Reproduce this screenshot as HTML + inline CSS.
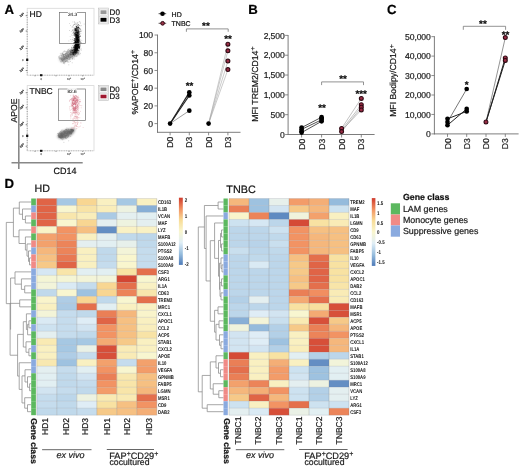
<!DOCTYPE html>
<html><head><meta charset="utf-8"><title>Figure</title>
<style>
html,body{margin:0;padding:0;background:#fff;}
body{width:520px;height:468px;overflow:hidden;}
svg{display:block;font-family:"Liberation Sans", Arial, sans-serif;text-rendering:geometricPrecision;}
</style></head>
<body>
<svg width="520" height="468" viewBox="0 0 520 468">
<defs><filter id="blur1" x="-50%" y="-50%" width="200%" height="200%"><feGaussianBlur stdDeviation="0.9"/></filter></defs>
<rect width="520" height="468" fill="#fff"/>
<text x="4.40" y="13.60" font-size="13.2" text-anchor="start" fill="#000" stroke="#000" stroke-width="0.2" font-weight="bold">A</text>
<text x="248.30" y="13.60" font-size="13.2" text-anchor="start" fill="#000" stroke="#000" stroke-width="0.2" font-weight="bold">B</text>
<text x="386.90" y="13.50" font-size="13.2" text-anchor="start" fill="#000" stroke="#000" stroke-width="0.2" font-weight="bold">C</text>
<text x="4.60" y="188.30" font-size="13.2" text-anchor="start" fill="#000" stroke="#000" stroke-width="0.2" font-weight="bold">D</text>
<rect x="27.2" y="8.3" width="66.8" height="66.9" fill="none" stroke="#d8d8d8" stroke-width="0.8"/>
<line x1="27.2" y1="12.3" x2="27.2" y2="75.2" stroke="#666" stroke-width="0.7" stroke-dasharray="0.8,1.6"/>
<line x1="30.2" y1="75.2" x2="93.0" y2="75.2" stroke="#888" stroke-width="0.6" stroke-dasharray="0.8,1.6"/>
<line x1="25.70" y1="15.66" x2="27.20" y2="15.66" stroke="#555" stroke-width="0.7"/>
<text transform="translate(22.60,15.96) rotate(-35)" x="0" y="0" font-size="3.2" text-anchor="middle" fill="#333" stroke="#333" stroke-width="0.2" font-weight="bold">10<tspan font-size="2.4" dy="-1">4</tspan></text>
<line x1="25.70" y1="31.05" x2="27.20" y2="31.05" stroke="#555" stroke-width="0.7"/>
<text transform="translate(22.60,31.35) rotate(-35)" x="0" y="0" font-size="3.2" text-anchor="middle" fill="#333" stroke="#333" stroke-width="0.2" font-weight="bold">10<tspan font-size="2.4" dy="-1">4</tspan></text>
<line x1="25.70" y1="48.44" x2="27.20" y2="48.44" stroke="#555" stroke-width="0.7"/>
<text transform="translate(22.60,48.74) rotate(-35)" x="0" y="0" font-size="3.2" text-anchor="middle" fill="#333" stroke="#333" stroke-width="0.2" font-weight="bold">10<tspan font-size="2.4" dy="-1">4</tspan></text>
<line x1="25.70" y1="70.52" x2="27.20" y2="70.52" stroke="#555" stroke-width="0.7"/>
<text transform="translate(22.60,70.82) rotate(-35)" x="0" y="0" font-size="3.2" text-anchor="middle" fill="#333" stroke="#333" stroke-width="0.2" font-weight="bold">10<tspan font-size="2.4" dy="-1">4</tspan></text>
<rect x="26.099999999999998" y="58.613" width="2.2" height="2.4" fill="#111"/>
<text x="22.00" y="60.81" font-size="2.6" text-anchor="start" fill="#777" stroke="#777" stroke-width="0.2">0</text>
<line x1="35.00" y1="75.20" x2="35.00" y2="76.40" stroke="#555" stroke-width="0.6"/>
<line x1="41.20" y1="75.20" x2="41.20" y2="76.40" stroke="#555" stroke-width="0.6"/>
<line x1="56.00" y1="75.20" x2="56.00" y2="76.40" stroke="#555" stroke-width="0.6"/>
<line x1="69.00" y1="75.20" x2="69.00" y2="76.40" stroke="#555" stroke-width="0.6"/>
<line x1="82.70" y1="75.20" x2="82.70" y2="76.40" stroke="#555" stroke-width="0.6"/>
<rect x="40" y="74.2" width="2.4" height="2.0" fill="#111"/>
<text x="41.30" y="79.50" font-size="2.6" text-anchor="middle" fill="#777" stroke="#777" stroke-width="0.2">0</text>
<text x="69.00" y="79.50" font-size="2.8" text-anchor="middle" fill="#777" stroke="#777" stroke-width="0.2">10<tspan font-size="2" dy="-1">4</tspan></text>
<text x="82.70" y="79.50" font-size="2.8" text-anchor="middle" fill="#777" stroke="#777" stroke-width="0.2">10<tspan font-size="2" dy="-1">4</tspan></text>
<text x="29.60" y="16.70" font-size="8.5" text-anchor="start" fill="#111" stroke="#111" stroke-width="0.2">HD</text>
<path d="M58.8,60.0 C59.5,55.5 65.5,52.5 71.5,50.0 L78,47.5 L79,53 C75.5,57 68.5,61 62,62.8 Z" fill="#a0a0a0" opacity="0.5" filter="url(#blur1)"/>
<g fill="#787878" fill-opacity="0.36"><circle cx="68.8" cy="57.7" r="0.5"/><circle cx="61.0" cy="57.1" r="0.5"/><circle cx="61.6" cy="58.7" r="0.5"/><circle cx="69.5" cy="55.6" r="0.5"/><circle cx="68.7" cy="55.4" r="0.5"/><circle cx="62.0" cy="53.7" r="0.5"/><circle cx="69.3" cy="48.9" r="0.5"/><circle cx="62.1" cy="60.4" r="0.5"/><circle cx="65.0" cy="59.4" r="0.5"/><circle cx="76.3" cy="52.1" r="0.5"/><circle cx="71.5" cy="50.9" r="0.5"/><circle cx="63.1" cy="60.4" r="0.5"/><circle cx="72.0" cy="50.7" r="0.5"/><circle cx="70.4" cy="51.6" r="0.5"/><circle cx="73.7" cy="50.7" r="0.5"/><circle cx="68.3" cy="49.3" r="0.5"/><circle cx="74.3" cy="50.5" r="0.5"/><circle cx="61.8" cy="55.5" r="0.5"/><circle cx="63.6" cy="57.4" r="0.5"/><circle cx="71.9" cy="52.6" r="0.5"/><circle cx="75.7" cy="49.2" r="0.5"/><circle cx="69.8" cy="51.2" r="0.5"/><circle cx="76.3" cy="52.9" r="0.5"/><circle cx="74.8" cy="55.3" r="0.5"/><circle cx="74.6" cy="56.3" r="0.5"/><circle cx="65.5" cy="54.2" r="0.5"/><circle cx="60.5" cy="58.6" r="0.5"/><circle cx="65.7" cy="61.6" r="0.5"/><circle cx="64.1" cy="58.3" r="0.5"/><circle cx="77.2" cy="52.3" r="0.5"/><circle cx="71.8" cy="56.4" r="0.5"/><circle cx="75.9" cy="50.1" r="0.5"/><circle cx="69.1" cy="59.4" r="0.5"/><circle cx="64.7" cy="58.7" r="0.5"/><circle cx="63.8" cy="54.3" r="0.5"/><circle cx="67.3" cy="58.8" r="0.5"/><circle cx="64.2" cy="50.9" r="0.5"/><circle cx="71.0" cy="49.4" r="0.5"/><circle cx="75.8" cy="56.4" r="0.5"/><circle cx="75.2" cy="53.8" r="0.5"/><circle cx="67.8" cy="54.5" r="0.5"/><circle cx="72.6" cy="53.4" r="0.5"/><circle cx="66.1" cy="58.3" r="0.5"/><circle cx="62.6" cy="60.5" r="0.5"/><circle cx="62.8" cy="58.3" r="0.5"/><circle cx="74.9" cy="49.5" r="0.5"/><circle cx="65.5" cy="55.7" r="0.5"/><circle cx="64.2" cy="62.1" r="0.5"/><circle cx="68.9" cy="53.6" r="0.5"/><circle cx="62.8" cy="57.7" r="0.5"/><circle cx="75.3" cy="51.1" r="0.5"/><circle cx="76.0" cy="48.5" r="0.5"/><circle cx="72.3" cy="56.1" r="0.5"/><circle cx="77.8" cy="51.4" r="0.5"/><circle cx="65.7" cy="55.9" r="0.5"/><circle cx="71.7" cy="47.9" r="0.5"/><circle cx="68.6" cy="56.5" r="0.5"/><circle cx="77.9" cy="51.5" r="0.5"/><circle cx="74.3" cy="50.8" r="0.5"/><circle cx="70.1" cy="53.6" r="0.5"/><circle cx="61.6" cy="59.4" r="0.5"/><circle cx="74.1" cy="54.3" r="0.5"/><circle cx="79.8" cy="54.8" r="0.5"/><circle cx="68.3" cy="55.8" r="0.5"/><circle cx="66.1" cy="58.2" r="0.5"/><circle cx="76.3" cy="51.4" r="0.5"/><circle cx="72.3" cy="52.8" r="0.5"/><circle cx="73.8" cy="55.4" r="0.5"/><circle cx="73.0" cy="50.3" r="0.5"/><circle cx="74.2" cy="49.4" r="0.5"/><circle cx="76.4" cy="47.8" r="0.5"/><circle cx="76.2" cy="49.5" r="0.5"/><circle cx="66.2" cy="60.8" r="0.5"/><circle cx="77.1" cy="53.3" r="0.5"/><circle cx="76.1" cy="48.4" r="0.5"/><circle cx="70.9" cy="53.8" r="0.5"/><circle cx="75.5" cy="48.0" r="0.5"/><circle cx="74.6" cy="46.1" r="0.5"/><circle cx="75.6" cy="51.2" r="0.5"/><circle cx="67.4" cy="56.5" r="0.5"/><circle cx="65.4" cy="55.8" r="0.5"/><circle cx="75.8" cy="48.7" r="0.5"/><circle cx="72.0" cy="55.0" r="0.5"/><circle cx="74.7" cy="47.5" r="0.5"/><circle cx="71.8" cy="56.0" r="0.5"/><circle cx="66.9" cy="61.2" r="0.5"/><circle cx="62.4" cy="54.5" r="0.5"/><circle cx="70.7" cy="52.4" r="0.5"/><circle cx="70.7" cy="53.7" r="0.5"/><circle cx="71.4" cy="53.5" r="0.5"/><circle cx="72.4" cy="48.8" r="0.5"/><circle cx="74.8" cy="53.3" r="0.5"/><circle cx="70.1" cy="50.5" r="0.5"/><circle cx="71.6" cy="49.8" r="0.5"/><circle cx="71.2" cy="57.2" r="0.5"/><circle cx="76.5" cy="51.8" r="0.5"/><circle cx="72.8" cy="57.1" r="0.5"/><circle cx="65.1" cy="59.7" r="0.5"/><circle cx="62.6" cy="59.1" r="0.5"/><circle cx="71.9" cy="53.3" r="0.5"/><circle cx="62.7" cy="57.3" r="0.5"/><circle cx="65.3" cy="62.0" r="0.5"/><circle cx="66.3" cy="59.1" r="0.5"/><circle cx="72.1" cy="58.0" r="0.5"/><circle cx="63.0" cy="55.7" r="0.5"/><circle cx="68.2" cy="56.4" r="0.5"/><circle cx="75.1" cy="54.4" r="0.5"/><circle cx="70.2" cy="56.5" r="0.5"/><circle cx="71.4" cy="52.1" r="0.5"/><circle cx="76.6" cy="50.6" r="0.5"/><circle cx="63.1" cy="58.5" r="0.5"/><circle cx="74.5" cy="51.2" r="0.5"/><circle cx="70.2" cy="58.1" r="0.5"/><circle cx="68.7" cy="59.4" r="0.5"/><circle cx="70.6" cy="53.1" r="0.5"/><circle cx="60.9" cy="58.4" r="0.5"/><circle cx="63.7" cy="61.7" r="0.5"/><circle cx="77.4" cy="54.5" r="0.5"/><circle cx="62.6" cy="60.5" r="0.5"/><circle cx="64.0" cy="51.5" r="0.5"/><circle cx="67.7" cy="58.3" r="0.5"/><circle cx="66.4" cy="57.9" r="0.5"/><circle cx="62.7" cy="59.9" r="0.5"/><circle cx="66.3" cy="56.3" r="0.5"/><circle cx="71.0" cy="54.9" r="0.5"/><circle cx="61.2" cy="59.8" r="0.5"/><circle cx="72.6" cy="50.5" r="0.5"/><circle cx="70.0" cy="55.2" r="0.5"/><circle cx="73.7" cy="48.8" r="0.5"/><circle cx="74.3" cy="48.9" r="0.5"/><circle cx="74.0" cy="54.0" r="0.5"/><circle cx="73.7" cy="50.0" r="0.5"/><circle cx="68.3" cy="54.7" r="0.5"/><circle cx="65.9" cy="61.3" r="0.5"/><circle cx="66.3" cy="57.2" r="0.5"/><circle cx="75.9" cy="52.8" r="0.5"/><circle cx="66.8" cy="56.5" r="0.5"/><circle cx="70.6" cy="55.7" r="0.5"/><circle cx="69.0" cy="61.9" r="0.5"/><circle cx="72.4" cy="53.8" r="0.5"/><circle cx="66.8" cy="56.1" r="0.5"/><circle cx="66.6" cy="53.0" r="0.5"/><circle cx="64.7" cy="57.2" r="0.5"/><circle cx="67.4" cy="58.4" r="0.5"/><circle cx="62.8" cy="61.2" r="0.5"/><circle cx="63.7" cy="54.9" r="0.5"/><circle cx="71.9" cy="49.8" r="0.5"/><circle cx="75.2" cy="49.0" r="0.5"/><circle cx="79.3" cy="51.3" r="0.5"/><circle cx="74.9" cy="56.3" r="0.5"/><circle cx="73.7" cy="47.9" r="0.5"/><circle cx="76.3" cy="52.6" r="0.5"/><circle cx="70.3" cy="55.9" r="0.5"/><circle cx="71.9" cy="47.2" r="0.5"/><circle cx="72.1" cy="51.7" r="0.5"/><circle cx="62.6" cy="60.9" r="0.5"/><circle cx="63.2" cy="59.9" r="0.5"/><circle cx="69.9" cy="50.7" r="0.5"/><circle cx="72.1" cy="57.8" r="0.5"/><circle cx="72.1" cy="49.1" r="0.5"/><circle cx="74.8" cy="55.5" r="0.5"/><circle cx="66.9" cy="58.2" r="0.5"/><circle cx="75.0" cy="52.7" r="0.5"/><circle cx="75.9" cy="47.4" r="0.5"/><circle cx="67.7" cy="52.9" r="0.5"/><circle cx="71.3" cy="52.4" r="0.5"/><circle cx="64.8" cy="58.0" r="0.5"/><circle cx="66.5" cy="55.9" r="0.5"/><circle cx="62.7" cy="58.8" r="0.5"/><circle cx="72.0" cy="51.4" r="0.5"/><circle cx="68.9" cy="51.7" r="0.5"/><circle cx="63.7" cy="59.5" r="0.5"/><circle cx="77.4" cy="49.8" r="0.5"/><circle cx="69.3" cy="56.8" r="0.5"/><circle cx="69.4" cy="54.5" r="0.5"/><circle cx="77.9" cy="50.4" r="0.5"/><circle cx="60.3" cy="53.2" r="0.5"/><circle cx="63.6" cy="59.3" r="0.5"/><circle cx="75.2" cy="49.8" r="0.5"/><circle cx="75.7" cy="49.7" r="0.5"/><circle cx="59.2" cy="57.9" r="0.5"/><circle cx="67.8" cy="57.4" r="0.5"/><circle cx="66.9" cy="56.1" r="0.5"/><circle cx="73.9" cy="52.1" r="0.5"/><circle cx="74.5" cy="48.9" r="0.5"/><circle cx="65.9" cy="55.0" r="0.5"/><circle cx="76.1" cy="47.6" r="0.5"/><circle cx="68.9" cy="54.8" r="0.5"/><circle cx="63.1" cy="59.5" r="0.5"/><circle cx="77.0" cy="49.8" r="0.5"/><circle cx="71.1" cy="54.7" r="0.5"/><circle cx="77.9" cy="52.4" r="0.5"/><circle cx="73.9" cy="56.9" r="0.5"/><circle cx="70.4" cy="53.5" r="0.5"/><circle cx="71.7" cy="48.5" r="0.5"/><circle cx="72.3" cy="52.5" r="0.5"/><circle cx="78.0" cy="51.5" r="0.5"/><circle cx="67.7" cy="54.8" r="0.5"/><circle cx="77.9" cy="49.2" r="0.5"/><circle cx="65.2" cy="54.3" r="0.5"/><circle cx="65.0" cy="58.5" r="0.5"/><circle cx="75.2" cy="48.7" r="0.5"/><circle cx="77.6" cy="52.3" r="0.5"/><circle cx="64.1" cy="58.4" r="0.5"/><circle cx="68.4" cy="57.0" r="0.5"/><circle cx="62.9" cy="52.9" r="0.5"/><circle cx="73.0" cy="49.8" r="0.5"/><circle cx="69.8" cy="52.5" r="0.5"/><circle cx="63.1" cy="58.3" r="0.5"/><circle cx="61.5" cy="55.5" r="0.5"/><circle cx="76.2" cy="50.8" r="0.5"/><circle cx="64.9" cy="55.1" r="0.5"/><circle cx="77.4" cy="52.0" r="0.5"/><circle cx="63.4" cy="62.9" r="0.5"/><circle cx="74.4" cy="47.5" r="0.5"/><circle cx="59.0" cy="56.6" r="0.5"/><circle cx="75.9" cy="54.2" r="0.5"/><circle cx="66.5" cy="57.7" r="0.5"/><circle cx="67.7" cy="51.9" r="0.5"/><circle cx="71.2" cy="49.8" r="0.5"/><circle cx="68.8" cy="54.0" r="0.5"/><circle cx="76.0" cy="51.8" r="0.5"/><circle cx="72.3" cy="52.3" r="0.5"/><circle cx="63.7" cy="54.7" r="0.5"/><circle cx="64.9" cy="60.7" r="0.5"/><circle cx="70.8" cy="52.2" r="0.5"/><circle cx="72.7" cy="54.8" r="0.5"/><circle cx="70.9" cy="57.3" r="0.5"/><circle cx="74.9" cy="48.8" r="0.5"/><circle cx="67.4" cy="59.9" r="0.5"/><circle cx="68.4" cy="58.5" r="0.5"/><circle cx="72.0" cy="51.0" r="0.5"/><circle cx="73.2" cy="53.7" r="0.5"/><circle cx="61.3" cy="58.5" r="0.5"/><circle cx="74.6" cy="53.4" r="0.5"/><circle cx="72.7" cy="50.3" r="0.5"/><circle cx="77.2" cy="48.1" r="0.5"/><circle cx="66.8" cy="57.6" r="0.5"/><circle cx="67.8" cy="58.6" r="0.5"/><circle cx="65.4" cy="57.9" r="0.5"/><circle cx="73.1" cy="53.5" r="0.5"/><circle cx="70.6" cy="56.5" r="0.5"/><circle cx="64.2" cy="58.8" r="0.5"/><circle cx="69.6" cy="58.6" r="0.5"/><circle cx="76.6" cy="56.4" r="0.5"/><circle cx="69.6" cy="57.8" r="0.5"/><circle cx="75.8" cy="54.5" r="0.5"/><circle cx="67.5" cy="54.1" r="0.5"/><circle cx="65.3" cy="59.4" r="0.5"/><circle cx="68.1" cy="56.7" r="0.5"/><circle cx="77.9" cy="50.0" r="0.5"/><circle cx="74.9" cy="51.8" r="0.5"/><circle cx="60.7" cy="57.4" r="0.5"/><circle cx="77.3" cy="50.6" r="0.5"/><circle cx="77.4" cy="52.2" r="0.5"/><circle cx="74.6" cy="51.0" r="0.5"/><circle cx="64.7" cy="63.8" r="0.5"/><circle cx="64.5" cy="56.7" r="0.5"/><circle cx="68.3" cy="55.1" r="0.5"/><circle cx="72.6" cy="52.7" r="0.5"/><circle cx="66.9" cy="56.0" r="0.5"/><circle cx="75.1" cy="54.0" r="0.5"/><circle cx="77.7" cy="51.2" r="0.5"/><circle cx="72.3" cy="59.2" r="0.5"/><circle cx="68.7" cy="55.3" r="0.5"/><circle cx="70.4" cy="55.3" r="0.5"/><circle cx="73.3" cy="50.8" r="0.5"/><circle cx="72.9" cy="50.0" r="0.5"/><circle cx="66.3" cy="53.8" r="0.5"/><circle cx="64.1" cy="60.0" r="0.5"/><circle cx="66.1" cy="57.3" r="0.5"/><circle cx="70.6" cy="51.0" r="0.5"/><circle cx="76.8" cy="51.9" r="0.5"/><circle cx="64.2" cy="60.8" r="0.5"/><circle cx="72.4" cy="50.6" r="0.5"/><circle cx="66.5" cy="52.8" r="0.5"/><circle cx="74.2" cy="53.3" r="0.5"/><circle cx="63.5" cy="59.3" r="0.5"/><circle cx="70.2" cy="51.1" r="0.5"/><circle cx="65.3" cy="57.4" r="0.5"/><circle cx="64.7" cy="59.9" r="0.5"/><circle cx="64.9" cy="50.9" r="0.5"/><circle cx="71.4" cy="54.4" r="0.5"/><circle cx="72.9" cy="53.5" r="0.5"/><circle cx="69.5" cy="56.0" r="0.5"/><circle cx="77.4" cy="51.6" r="0.5"/><circle cx="66.1" cy="60.4" r="0.5"/><circle cx="72.2" cy="55.0" r="0.5"/><circle cx="74.7" cy="49.0" r="0.5"/><circle cx="74.7" cy="52.2" r="0.5"/><circle cx="70.5" cy="52.1" r="0.5"/><circle cx="68.7" cy="56.3" r="0.5"/><circle cx="63.8" cy="54.4" r="0.5"/><circle cx="66.1" cy="59.1" r="0.5"/><circle cx="73.7" cy="53.0" r="0.5"/><circle cx="64.6" cy="58.1" r="0.5"/><circle cx="63.5" cy="60.8" r="0.5"/><circle cx="70.2" cy="53.0" r="0.5"/><circle cx="63.1" cy="57.1" r="0.5"/><circle cx="66.6" cy="54.7" r="0.5"/><circle cx="65.5" cy="54.4" r="0.5"/><circle cx="70.0" cy="59.4" r="0.5"/><circle cx="69.3" cy="56.6" r="0.5"/><circle cx="67.8" cy="61.7" r="0.5"/><circle cx="68.7" cy="55.8" r="0.5"/><circle cx="75.1" cy="49.1" r="0.5"/><circle cx="58.9" cy="57.2" r="0.5"/><circle cx="78.2" cy="52.4" r="0.5"/><circle cx="67.1" cy="54.3" r="0.5"/><circle cx="63.2" cy="51.9" r="0.5"/><circle cx="60.8" cy="54.9" r="0.5"/><circle cx="77.5" cy="49.9" r="0.5"/><circle cx="78.1" cy="52.0" r="0.5"/><circle cx="62.8" cy="61.1" r="0.5"/><circle cx="73.5" cy="47.4" r="0.5"/><circle cx="63.9" cy="58.2" r="0.5"/><circle cx="68.9" cy="57.3" r="0.5"/><circle cx="65.4" cy="58.0" r="0.5"/><circle cx="69.9" cy="53.1" r="0.5"/><circle cx="64.0" cy="56.2" r="0.5"/><circle cx="59.2" cy="56.3" r="0.5"/><circle cx="61.7" cy="60.0" r="0.5"/><circle cx="69.5" cy="50.4" r="0.5"/><circle cx="65.6" cy="53.8" r="0.5"/><circle cx="67.4" cy="53.7" r="0.5"/><circle cx="70.9" cy="57.5" r="0.5"/><circle cx="71.0" cy="54.5" r="0.5"/><circle cx="73.6" cy="50.1" r="0.5"/><circle cx="70.2" cy="55.2" r="0.5"/><circle cx="70.4" cy="56.7" r="0.5"/><circle cx="72.1" cy="56.8" r="0.5"/><circle cx="61.3" cy="58.5" r="0.5"/><circle cx="71.8" cy="56.2" r="0.5"/><circle cx="68.5" cy="56.4" r="0.5"/><circle cx="77.5" cy="53.8" r="0.5"/><circle cx="77.7" cy="52.9" r="0.5"/><circle cx="72.3" cy="58.5" r="0.5"/><circle cx="63.6" cy="58.9" r="0.5"/><circle cx="61.7" cy="57.1" r="0.5"/><circle cx="64.6" cy="59.2" r="0.5"/><circle cx="76.3" cy="52.4" r="0.5"/><circle cx="77.1" cy="50.4" r="0.5"/><circle cx="70.0" cy="53.8" r="0.5"/><circle cx="67.3" cy="60.1" r="0.5"/><circle cx="73.2" cy="53.2" r="0.5"/><circle cx="76.0" cy="53.1" r="0.5"/><circle cx="71.3" cy="50.1" r="0.5"/><circle cx="67.8" cy="49.9" r="0.5"/><circle cx="64.8" cy="61.4" r="0.5"/><circle cx="68.1" cy="55.7" r="0.5"/><circle cx="76.0" cy="47.6" r="0.5"/><circle cx="73.4" cy="50.3" r="0.5"/><circle cx="76.4" cy="55.2" r="0.5"/><circle cx="62.0" cy="53.1" r="0.5"/><circle cx="70.3" cy="52.3" r="0.5"/><circle cx="61.4" cy="61.3" r="0.5"/><circle cx="70.6" cy="50.7" r="0.5"/><circle cx="76.9" cy="51.2" r="0.5"/><circle cx="72.4" cy="52.7" r="0.5"/><circle cx="68.9" cy="57.1" r="0.5"/><circle cx="63.3" cy="54.8" r="0.5"/><circle cx="63.4" cy="55.7" r="0.5"/><circle cx="64.3" cy="59.6" r="0.5"/><circle cx="65.9" cy="60.4" r="0.5"/><circle cx="75.3" cy="50.8" r="0.5"/><circle cx="67.9" cy="59.5" r="0.5"/><circle cx="70.5" cy="51.7" r="0.5"/><circle cx="70.6" cy="57.7" r="0.5"/><circle cx="65.9" cy="57.3" r="0.5"/><circle cx="69.9" cy="52.5" r="0.5"/><circle cx="62.0" cy="59.3" r="0.5"/><circle cx="71.3" cy="54.6" r="0.5"/><circle cx="63.1" cy="55.5" r="0.5"/><circle cx="72.1" cy="53.1" r="0.5"/><circle cx="66.8" cy="55.9" r="0.5"/><circle cx="75.4" cy="50.9" r="0.5"/><circle cx="61.1" cy="61.9" r="0.5"/><circle cx="68.6" cy="54.3" r="0.5"/><circle cx="66.3" cy="58.2" r="0.5"/><circle cx="61.3" cy="57.8" r="0.5"/><circle cx="73.4" cy="53.9" r="0.5"/><circle cx="64.5" cy="54.6" r="0.5"/><circle cx="73.3" cy="49.6" r="0.5"/><circle cx="73.0" cy="54.0" r="0.5"/><circle cx="76.8" cy="51.9" r="0.5"/><circle cx="63.9" cy="56.8" r="0.5"/><circle cx="73.6" cy="49.7" r="0.5"/><circle cx="68.6" cy="56.2" r="0.5"/><circle cx="70.5" cy="51.7" r="0.5"/><circle cx="74.9" cy="45.6" r="0.5"/><circle cx="73.4" cy="53.5" r="0.5"/><circle cx="72.2" cy="50.3" r="0.5"/><circle cx="64.5" cy="56.7" r="0.5"/><circle cx="76.5" cy="50.3" r="0.5"/><circle cx="63.9" cy="60.2" r="0.5"/><circle cx="64.1" cy="58.7" r="0.5"/><circle cx="70.9" cy="50.1" r="0.5"/><circle cx="75.5" cy="54.2" r="0.5"/><circle cx="67.7" cy="57.1" r="0.5"/><circle cx="78.8" cy="53.9" r="0.5"/><circle cx="76.7" cy="50.9" r="0.5"/><circle cx="65.3" cy="57.7" r="0.5"/><circle cx="75.2" cy="51.7" r="0.5"/><circle cx="73.8" cy="49.7" r="0.5"/><circle cx="65.3" cy="61.4" r="0.5"/><circle cx="64.9" cy="56.4" r="0.5"/><circle cx="61.6" cy="59.7" r="0.5"/><circle cx="72.9" cy="50.7" r="0.5"/><circle cx="74.4" cy="45.6" r="0.5"/><circle cx="73.3" cy="54.9" r="0.5"/><circle cx="68.5" cy="55.0" r="0.5"/><circle cx="72.1" cy="50.7" r="0.5"/><circle cx="78.1" cy="53.6" r="0.5"/><circle cx="65.2" cy="59.1" r="0.5"/><circle cx="74.1" cy="51.7" r="0.5"/><circle cx="67.5" cy="50.6" r="0.5"/><circle cx="63.3" cy="55.7" r="0.5"/><circle cx="76.3" cy="50.5" r="0.5"/><circle cx="67.7" cy="57.1" r="0.5"/><circle cx="71.9" cy="56.3" r="0.5"/><circle cx="62.1" cy="59.6" r="0.5"/><circle cx="73.1" cy="49.9" r="0.5"/><circle cx="66.9" cy="51.8" r="0.5"/><circle cx="62.8" cy="59.2" r="0.5"/><circle cx="66.0" cy="57.0" r="0.5"/><circle cx="68.8" cy="51.0" r="0.5"/><circle cx="64.0" cy="54.6" r="0.5"/><circle cx="73.1" cy="51.6" r="0.5"/><circle cx="67.4" cy="55.2" r="0.5"/><circle cx="73.2" cy="48.9" r="0.5"/><circle cx="62.5" cy="54.5" r="0.5"/><circle cx="72.7" cy="54.9" r="0.5"/><circle cx="76.3" cy="50.4" r="0.5"/><circle cx="64.8" cy="55.1" r="0.5"/><circle cx="64.9" cy="58.8" r="0.5"/><circle cx="66.2" cy="54.8" r="0.5"/><circle cx="69.9" cy="58.0" r="0.5"/><circle cx="77.1" cy="55.9" r="0.5"/><circle cx="61.2" cy="54.3" r="0.5"/><circle cx="73.7" cy="50.9" r="0.5"/><circle cx="64.1" cy="56.8" r="0.5"/><circle cx="64.8" cy="56.9" r="0.5"/><circle cx="67.9" cy="56.0" r="0.5"/><circle cx="68.5" cy="52.6" r="0.5"/><circle cx="62.3" cy="56.5" r="0.5"/><circle cx="74.5" cy="53.5" r="0.5"/><circle cx="70.5" cy="53.3" r="0.5"/><circle cx="63.7" cy="56.3" r="0.5"/><circle cx="72.3" cy="50.1" r="0.5"/><circle cx="71.3" cy="50.9" r="0.5"/><circle cx="66.2" cy="55.5" r="0.5"/><circle cx="68.1" cy="55.6" r="0.5"/><circle cx="72.6" cy="52.8" r="0.5"/><circle cx="67.8" cy="53.1" r="0.5"/><circle cx="73.3" cy="53.5" r="0.5"/><circle cx="72.0" cy="52.9" r="0.5"/><circle cx="70.1" cy="54.8" r="0.5"/><circle cx="72.7" cy="55.5" r="0.5"/><circle cx="76.0" cy="48.8" r="0.5"/><circle cx="68.8" cy="50.2" r="0.5"/><circle cx="67.7" cy="51.5" r="0.5"/><circle cx="68.3" cy="49.7" r="0.5"/><circle cx="63.9" cy="56.5" r="0.5"/><circle cx="77.9" cy="55.6" r="0.5"/><circle cx="68.7" cy="57.1" r="0.5"/><circle cx="69.7" cy="57.2" r="0.5"/><circle cx="67.7" cy="54.3" r="0.5"/><circle cx="67.3" cy="57.2" r="0.5"/><circle cx="75.6" cy="48.4" r="0.5"/><circle cx="74.1" cy="50.0" r="0.5"/><circle cx="62.8" cy="58.9" r="0.5"/><circle cx="70.5" cy="50.2" r="0.5"/><circle cx="66.4" cy="58.9" r="0.5"/><circle cx="72.1" cy="54.2" r="0.5"/><circle cx="69.7" cy="53.7" r="0.5"/><circle cx="63.5" cy="59.3" r="0.5"/><circle cx="75.8" cy="50.4" r="0.5"/><circle cx="65.2" cy="55.6" r="0.5"/><circle cx="59.9" cy="59.8" r="0.5"/><circle cx="65.8" cy="56.1" r="0.5"/><circle cx="66.8" cy="52.9" r="0.5"/><circle cx="69.5" cy="59.1" r="0.5"/><circle cx="62.2" cy="61.3" r="0.5"/><circle cx="76.8" cy="53.7" r="0.5"/><circle cx="72.2" cy="53.0" r="0.5"/><circle cx="75.9" cy="48.8" r="0.5"/><circle cx="63.9" cy="59.5" r="0.5"/><circle cx="74.1" cy="50.7" r="0.5"/><circle cx="76.0" cy="50.4" r="0.5"/><circle cx="73.5" cy="47.5" r="0.5"/><circle cx="73.7" cy="55.2" r="0.5"/><circle cx="76.7" cy="51.7" r="0.5"/><circle cx="69.7" cy="53.7" r="0.5"/><circle cx="74.7" cy="48.8" r="0.5"/><circle cx="67.0" cy="58.5" r="0.5"/><circle cx="61.4" cy="58.1" r="0.5"/><circle cx="68.2" cy="51.7" r="0.5"/><circle cx="78.1" cy="54.4" r="0.5"/><circle cx="67.3" cy="51.7" r="0.5"/><circle cx="74.6" cy="49.2" r="0.5"/><circle cx="79.0" cy="52.1" r="0.5"/><circle cx="74.0" cy="55.4" r="0.5"/><circle cx="73.6" cy="53.9" r="0.5"/><circle cx="75.7" cy="47.1" r="0.5"/><circle cx="78.3" cy="53.3" r="0.5"/><circle cx="71.5" cy="50.7" r="0.5"/><circle cx="66.3" cy="53.1" r="0.5"/><circle cx="75.1" cy="51.9" r="0.5"/><circle cx="66.0" cy="51.4" r="0.5"/><circle cx="66.6" cy="57.3" r="0.5"/><circle cx="70.5" cy="53.7" r="0.5"/><circle cx="74.9" cy="47.4" r="0.5"/><circle cx="67.1" cy="55.2" r="0.5"/><circle cx="69.0" cy="50.9" r="0.5"/><circle cx="59.9" cy="58.8" r="0.5"/><circle cx="71.9" cy="55.3" r="0.5"/><circle cx="63.1" cy="61.7" r="0.5"/><circle cx="69.5" cy="51.0" r="0.5"/><circle cx="74.3" cy="47.9" r="0.5"/><circle cx="70.6" cy="51.9" r="0.5"/><circle cx="74.1" cy="53.0" r="0.5"/><circle cx="69.0" cy="54.6" r="0.5"/><circle cx="66.9" cy="61.0" r="0.5"/><circle cx="75.1" cy="48.9" r="0.5"/><circle cx="74.5" cy="51.5" r="0.5"/><circle cx="66.0" cy="56.0" r="0.5"/><circle cx="65.6" cy="53.4" r="0.5"/><circle cx="78.4" cy="52.3" r="0.5"/><circle cx="64.1" cy="62.2" r="0.5"/><circle cx="72.1" cy="55.2" r="0.5"/><circle cx="60.1" cy="57.9" r="0.5"/><circle cx="78.0" cy="52.1" r="0.5"/><circle cx="70.5" cy="57.3" r="0.5"/><circle cx="65.3" cy="57.5" r="0.5"/><circle cx="60.1" cy="59.7" r="0.5"/><circle cx="79.9" cy="53.0" r="0.5"/><circle cx="65.7" cy="61.5" r="0.5"/><circle cx="65.1" cy="56.8" r="0.5"/><circle cx="61.2" cy="59.8" r="0.5"/><circle cx="75.1" cy="50.5" r="0.5"/><circle cx="70.9" cy="52.2" r="0.5"/><circle cx="78.0" cy="49.7" r="0.5"/><circle cx="73.6" cy="52.3" r="0.5"/><circle cx="72.3" cy="52.9" r="0.5"/><circle cx="66.3" cy="56.0" r="0.5"/><circle cx="75.0" cy="49.8" r="0.5"/><circle cx="66.2" cy="53.6" r="0.5"/><circle cx="75.0" cy="54.5" r="0.5"/><circle cx="65.9" cy="53.8" r="0.5"/><circle cx="67.5" cy="52.3" r="0.5"/><circle cx="76.3" cy="50.3" r="0.5"/><circle cx="70.4" cy="61.4" r="0.5"/><circle cx="73.2" cy="52.9" r="0.5"/><circle cx="73.9" cy="56.8" r="0.5"/><circle cx="71.6" cy="52.3" r="0.5"/><circle cx="75.1" cy="48.1" r="0.5"/><circle cx="72.8" cy="56.0" r="0.5"/><circle cx="67.4" cy="58.0" r="0.5"/><circle cx="66.0" cy="51.7" r="0.5"/><circle cx="78.6" cy="53.9" r="0.5"/><circle cx="75.3" cy="52.8" r="0.5"/><circle cx="66.7" cy="58.7" r="0.5"/><circle cx="73.6" cy="53.8" r="0.5"/><circle cx="60.0" cy="55.4" r="0.5"/><circle cx="63.4" cy="57.4" r="0.5"/><circle cx="63.3" cy="54.6" r="0.5"/><circle cx="70.1" cy="54.9" r="0.5"/><circle cx="73.6" cy="52.2" r="0.5"/><circle cx="62.5" cy="60.0" r="0.5"/><circle cx="62.3" cy="53.2" r="0.5"/><circle cx="74.2" cy="48.0" r="0.5"/><circle cx="72.0" cy="53.7" r="0.5"/><circle cx="63.5" cy="57.1" r="0.5"/><circle cx="70.1" cy="51.4" r="0.5"/><circle cx="68.8" cy="64.7" r="0.5"/><circle cx="69.9" cy="57.7" r="0.5"/><circle cx="76.0" cy="52.7" r="0.5"/><circle cx="67.1" cy="55.3" r="0.5"/><circle cx="64.0" cy="63.6" r="0.5"/><circle cx="68.6" cy="52.8" r="0.5"/><circle cx="72.0" cy="46.9" r="0.5"/><circle cx="74.1" cy="53.6" r="0.5"/><circle cx="66.8" cy="58.1" r="0.5"/><circle cx="64.9" cy="58.2" r="0.5"/><circle cx="71.4" cy="55.0" r="0.5"/><circle cx="77.0" cy="50.3" r="0.5"/><circle cx="71.1" cy="52.3" r="0.5"/><circle cx="77.6" cy="49.5" r="0.5"/><circle cx="73.8" cy="55.6" r="0.5"/><circle cx="67.6" cy="54.1" r="0.5"/><circle cx="77.9" cy="50.9" r="0.5"/><circle cx="62.1" cy="59.4" r="0.5"/><circle cx="77.5" cy="53.3" r="0.5"/><circle cx="61.3" cy="60.1" r="0.5"/><circle cx="72.7" cy="53.3" r="0.5"/><circle cx="62.5" cy="58.2" r="0.5"/><circle cx="72.9" cy="51.5" r="0.5"/><circle cx="75.2" cy="52.9" r="0.5"/><circle cx="67.4" cy="58.4" r="0.5"/><circle cx="64.6" cy="57.9" r="0.5"/><circle cx="74.9" cy="55.5" r="0.5"/><circle cx="68.0" cy="62.0" r="0.5"/><circle cx="67.1" cy="60.9" r="0.5"/><circle cx="77.3" cy="51.7" r="0.5"/><circle cx="64.6" cy="62.2" r="0.5"/><circle cx="71.0" cy="51.0" r="0.5"/><circle cx="73.2" cy="48.1" r="0.5"/><circle cx="64.0" cy="58.2" r="0.5"/><circle cx="72.5" cy="50.9" r="0.5"/><circle cx="76.1" cy="50.2" r="0.5"/><circle cx="64.8" cy="57.4" r="0.5"/><circle cx="68.6" cy="57.0" r="0.5"/><circle cx="67.3" cy="56.9" r="0.5"/><circle cx="80.3" cy="53.4" r="0.5"/><circle cx="73.6" cy="52.9" r="0.5"/><circle cx="66.7" cy="56.3" r="0.5"/><circle cx="72.2" cy="62.7" r="0.5"/><circle cx="77.6" cy="51.3" r="0.5"/><circle cx="78.3" cy="53.2" r="0.5"/><circle cx="66.7" cy="56.7" r="0.5"/><circle cx="74.6" cy="50.4" r="0.5"/><circle cx="60.7" cy="61.4" r="0.5"/><circle cx="62.4" cy="53.5" r="0.5"/><circle cx="64.4" cy="56.2" r="0.5"/><circle cx="63.8" cy="58.0" r="0.5"/><circle cx="65.4" cy="58.2" r="0.5"/><circle cx="70.6" cy="51.4" r="0.5"/><circle cx="62.8" cy="54.9" r="0.5"/><circle cx="73.8" cy="49.8" r="0.5"/><circle cx="61.4" cy="58.9" r="0.5"/><circle cx="76.0" cy="55.3" r="0.5"/><circle cx="67.6" cy="58.1" r="0.5"/><circle cx="72.8" cy="58.6" r="0.5"/><circle cx="69.9" cy="55.4" r="0.5"/><circle cx="64.7" cy="58.5" r="0.5"/><circle cx="63.5" cy="56.0" r="0.5"/><circle cx="59.2" cy="57.9" r="0.5"/><circle cx="72.4" cy="56.3" r="0.5"/><circle cx="75.2" cy="52.1" r="0.5"/><circle cx="72.3" cy="49.5" r="0.5"/><circle cx="63.3" cy="62.7" r="0.5"/><circle cx="68.2" cy="51.7" r="0.5"/><circle cx="74.2" cy="58.9" r="0.5"/><circle cx="65.8" cy="57.5" r="0.5"/><circle cx="65.7" cy="57.0" r="0.5"/><circle cx="62.2" cy="58.3" r="0.5"/><circle cx="59.2" cy="57.7" r="0.5"/><circle cx="69.8" cy="53.6" r="0.5"/><circle cx="75.3" cy="50.3" r="0.5"/><circle cx="61.8" cy="56.0" r="0.5"/></g>
<g fill="#444" fill-opacity="0.45"><circle cx="77.9" cy="31.1" r="0.42"/><circle cx="77.8" cy="26.2" r="0.42"/><circle cx="76.9" cy="41.9" r="0.42"/><circle cx="74.9" cy="41.3" r="0.42"/><circle cx="78.5" cy="47.3" r="0.42"/><circle cx="76.6" cy="53.8" r="0.42"/><circle cx="71.6" cy="34.9" r="0.42"/><circle cx="78.4" cy="39.6" r="0.42"/><circle cx="80.2" cy="35.1" r="0.42"/><circle cx="74.4" cy="33.2" r="0.42"/><circle cx="74.6" cy="29.8" r="0.42"/><circle cx="73.6" cy="55.4" r="0.42"/><circle cx="79.4" cy="49.3" r="0.42"/><circle cx="72.1" cy="50.7" r="0.42"/><circle cx="69.5" cy="23.3" r="0.42"/><circle cx="71.8" cy="53.7" r="0.42"/><circle cx="72.8" cy="30.1" r="0.42"/><circle cx="77.7" cy="34.1" r="0.42"/><circle cx="78.5" cy="39.8" r="0.42"/><circle cx="77.2" cy="38.9" r="0.42"/><circle cx="80.4" cy="22.2" r="0.42"/><circle cx="81.0" cy="48.3" r="0.42"/><circle cx="69.3" cy="53.8" r="0.42"/><circle cx="70.2" cy="52.0" r="0.42"/><circle cx="77.4" cy="52.0" r="0.42"/><circle cx="76.8" cy="30.7" r="0.42"/><circle cx="75.5" cy="44.9" r="0.42"/><circle cx="76.0" cy="53.4" r="0.42"/><circle cx="76.0" cy="42.9" r="0.42"/><circle cx="79.2" cy="36.5" r="0.42"/><circle cx="71.5" cy="54.3" r="0.42"/><circle cx="78.2" cy="43.8" r="0.42"/><circle cx="70.6" cy="25.7" r="0.42"/><circle cx="72.4" cy="39.2" r="0.42"/><circle cx="72.9" cy="30.8" r="0.42"/><circle cx="76.7" cy="26.6" r="0.42"/><circle cx="77.5" cy="25.8" r="0.42"/><circle cx="77.6" cy="35.5" r="0.42"/><circle cx="76.0" cy="31.4" r="0.42"/><circle cx="77.1" cy="40.3" r="0.42"/><circle cx="72.1" cy="50.5" r="0.42"/><circle cx="73.8" cy="43.9" r="0.42"/><circle cx="75.3" cy="28.4" r="0.42"/><circle cx="73.2" cy="40.4" r="0.42"/><circle cx="73.8" cy="42.6" r="0.42"/><circle cx="76.4" cy="29.9" r="0.42"/><circle cx="73.5" cy="29.1" r="0.42"/><circle cx="75.8" cy="41.7" r="0.42"/><circle cx="72.9" cy="21.9" r="0.42"/><circle cx="80.1" cy="29.7" r="0.42"/><circle cx="73.9" cy="40.7" r="0.42"/><circle cx="71.1" cy="55.6" r="0.42"/><circle cx="76.2" cy="31.7" r="0.42"/><circle cx="74.5" cy="23.8" r="0.42"/><circle cx="73.2" cy="51.6" r="0.42"/><circle cx="76.3" cy="34.9" r="0.42"/><circle cx="75.9" cy="36.7" r="0.42"/><circle cx="74.8" cy="29.3" r="0.42"/><circle cx="71.7" cy="54.6" r="0.42"/><circle cx="74.5" cy="33.1" r="0.42"/><circle cx="74.4" cy="33.7" r="0.42"/><circle cx="71.3" cy="50.8" r="0.42"/><circle cx="70.8" cy="49.8" r="0.42"/><circle cx="75.5" cy="47.1" r="0.42"/><circle cx="71.4" cy="47.7" r="0.42"/><circle cx="76.7" cy="45.9" r="0.42"/><circle cx="76.7" cy="53.1" r="0.42"/><circle cx="79.8" cy="21.6" r="0.42"/><circle cx="73.2" cy="47.9" r="0.42"/><circle cx="70.1" cy="54.7" r="0.42"/><circle cx="72.0" cy="41.2" r="0.42"/><circle cx="76.3" cy="51.6" r="0.42"/><circle cx="73.9" cy="42.5" r="0.42"/><circle cx="78.0" cy="37.3" r="0.42"/><circle cx="75.3" cy="46.4" r="0.42"/><circle cx="78.5" cy="40.7" r="0.42"/><circle cx="74.0" cy="34.8" r="0.42"/><circle cx="78.6" cy="50.8" r="0.42"/><circle cx="74.4" cy="38.7" r="0.42"/><circle cx="76.6" cy="32.0" r="0.42"/><circle cx="72.9" cy="26.5" r="0.42"/><circle cx="74.4" cy="24.5" r="0.42"/><circle cx="70.6" cy="53.2" r="0.42"/><circle cx="79.2" cy="50.4" r="0.42"/><circle cx="72.6" cy="54.6" r="0.42"/><circle cx="75.8" cy="52.9" r="0.42"/><circle cx="79.2" cy="21.9" r="0.42"/><circle cx="77.0" cy="38.7" r="0.42"/><circle cx="73.3" cy="53.3" r="0.42"/><circle cx="67.5" cy="55.9" r="0.42"/><circle cx="72.1" cy="39.4" r="0.42"/><circle cx="75.6" cy="34.9" r="0.42"/><circle cx="74.0" cy="33.8" r="0.42"/><circle cx="70.8" cy="54.2" r="0.42"/><circle cx="74.8" cy="44.8" r="0.42"/><circle cx="75.8" cy="34.4" r="0.42"/><circle cx="72.9" cy="35.3" r="0.42"/><circle cx="72.6" cy="51.9" r="0.42"/><circle cx="68.9" cy="54.8" r="0.42"/><circle cx="76.2" cy="43.0" r="0.42"/><circle cx="69.0" cy="55.9" r="0.42"/><circle cx="77.8" cy="49.6" r="0.42"/><circle cx="73.0" cy="27.4" r="0.42"/><circle cx="81.5" cy="50.0" r="0.42"/><circle cx="80.2" cy="39.2" r="0.42"/><circle cx="79.5" cy="45.3" r="0.42"/><circle cx="80.5" cy="49.8" r="0.42"/><circle cx="75.7" cy="36.0" r="0.42"/><circle cx="75.2" cy="26.9" r="0.42"/><circle cx="79.0" cy="38.9" r="0.42"/><circle cx="77.5" cy="28.0" r="0.42"/><circle cx="79.3" cy="42.3" r="0.42"/><circle cx="79.7" cy="33.7" r="0.42"/><circle cx="75.9" cy="23.0" r="0.42"/><circle cx="76.5" cy="35.7" r="0.42"/><circle cx="73.8" cy="45.3" r="0.42"/><circle cx="74.3" cy="21.6" r="0.42"/><circle cx="80.7" cy="41.7" r="0.42"/><circle cx="77.0" cy="44.5" r="0.42"/><circle cx="78.9" cy="40.6" r="0.42"/><circle cx="74.1" cy="30.7" r="0.42"/><circle cx="68.1" cy="55.9" r="0.42"/><circle cx="74.9" cy="41.3" r="0.42"/><circle cx="76.7" cy="26.9" r="0.42"/><circle cx="76.8" cy="47.7" r="0.42"/><circle cx="76.7" cy="27.4" r="0.42"/><circle cx="77.6" cy="39.5" r="0.42"/><circle cx="72.1" cy="49.3" r="0.42"/><circle cx="80.4" cy="23.6" r="0.42"/><circle cx="76.3" cy="32.6" r="0.42"/><circle cx="75.0" cy="46.2" r="0.42"/><circle cx="77.3" cy="30.7" r="0.42"/><circle cx="78.8" cy="24.9" r="0.42"/><circle cx="74.0" cy="33.5" r="0.42"/><circle cx="75.3" cy="37.0" r="0.42"/><circle cx="74.2" cy="52.2" r="0.42"/><circle cx="78.7" cy="41.6" r="0.42"/><circle cx="75.3" cy="42.9" r="0.42"/><circle cx="81.8" cy="30.1" r="0.42"/><circle cx="76.0" cy="51.0" r="0.42"/><circle cx="79.8" cy="32.4" r="0.42"/><circle cx="73.2" cy="32.0" r="0.42"/><circle cx="78.9" cy="42.3" r="0.42"/><circle cx="71.3" cy="54.3" r="0.42"/><circle cx="72.8" cy="29.9" r="0.42"/><circle cx="78.6" cy="29.1" r="0.42"/><circle cx="78.1" cy="32.2" r="0.42"/><circle cx="73.4" cy="48.9" r="0.42"/><circle cx="77.1" cy="29.9" r="0.42"/><circle cx="78.2" cy="27.9" r="0.42"/><circle cx="70.6" cy="55.0" r="0.42"/><circle cx="79.2" cy="25.5" r="0.42"/><circle cx="74.0" cy="39.9" r="0.42"/><circle cx="77.7" cy="23.8" r="0.42"/><circle cx="77.1" cy="25.8" r="0.42"/><circle cx="73.9" cy="30.0" r="0.42"/><circle cx="75.6" cy="28.1" r="0.42"/><circle cx="77.9" cy="22.7" r="0.42"/><circle cx="75.2" cy="44.4" r="0.42"/><circle cx="77.3" cy="45.9" r="0.42"/><circle cx="75.4" cy="24.7" r="0.42"/><circle cx="80.9" cy="25.9" r="0.42"/><circle cx="78.4" cy="36.8" r="0.42"/><circle cx="72.0" cy="27.0" r="0.42"/><circle cx="75.6" cy="33.7" r="0.42"/><circle cx="69.3" cy="54.6" r="0.42"/><circle cx="78.9" cy="28.7" r="0.42"/><circle cx="75.1" cy="29.3" r="0.42"/><circle cx="78.8" cy="37.1" r="0.42"/><circle cx="79.0" cy="30.5" r="0.42"/><circle cx="71.3" cy="52.5" r="0.42"/><circle cx="74.7" cy="30.0" r="0.42"/><circle cx="77.2" cy="42.5" r="0.42"/><circle cx="81.1" cy="25.7" r="0.42"/><circle cx="74.0" cy="39.2" r="0.42"/><circle cx="75.2" cy="48.1" r="0.42"/><circle cx="74.2" cy="34.8" r="0.42"/><circle cx="73.2" cy="32.2" r="0.42"/><circle cx="77.4" cy="35.0" r="0.42"/><circle cx="75.3" cy="50.9" r="0.42"/><circle cx="75.3" cy="32.6" r="0.42"/><circle cx="74.9" cy="40.9" r="0.42"/><circle cx="73.8" cy="34.0" r="0.42"/><circle cx="76.0" cy="23.8" r="0.42"/><circle cx="76.2" cy="32.2" r="0.42"/><circle cx="77.3" cy="46.2" r="0.42"/><circle cx="71.3" cy="31.2" r="0.42"/><circle cx="79.0" cy="48.2" r="0.42"/><circle cx="74.7" cy="52.0" r="0.42"/><circle cx="74.9" cy="31.0" r="0.42"/><circle cx="74.4" cy="22.5" r="0.42"/><circle cx="72.5" cy="33.6" r="0.42"/><circle cx="73.8" cy="35.7" r="0.42"/><circle cx="72.6" cy="30.1" r="0.42"/><circle cx="72.4" cy="50.7" r="0.42"/><circle cx="78.9" cy="27.8" r="0.42"/><circle cx="79.6" cy="25.5" r="0.42"/><circle cx="73.8" cy="46.1" r="0.42"/><circle cx="77.5" cy="22.9" r="0.42"/><circle cx="76.4" cy="28.3" r="0.42"/><circle cx="75.5" cy="32.0" r="0.42"/><circle cx="76.5" cy="32.2" r="0.42"/><circle cx="78.1" cy="43.5" r="0.42"/><circle cx="80.5" cy="41.2" r="0.42"/><circle cx="75.9" cy="46.2" r="0.42"/><circle cx="78.8" cy="45.1" r="0.42"/><circle cx="80.9" cy="33.5" r="0.42"/><circle cx="75.7" cy="48.3" r="0.42"/><circle cx="80.9" cy="31.4" r="0.42"/><circle cx="77.4" cy="42.5" r="0.42"/><circle cx="76.0" cy="23.1" r="0.42"/><circle cx="76.8" cy="48.8" r="0.42"/><circle cx="79.7" cy="28.7" r="0.42"/><circle cx="73.8" cy="24.5" r="0.42"/><circle cx="72.6" cy="45.5" r="0.42"/><circle cx="77.6" cy="50.1" r="0.42"/><circle cx="81.3" cy="31.2" r="0.42"/><circle cx="79.4" cy="36.1" r="0.42"/><circle cx="71.1" cy="53.6" r="0.42"/><circle cx="70.9" cy="50.1" r="0.42"/><circle cx="75.2" cy="43.2" r="0.42"/><circle cx="76.3" cy="45.6" r="0.42"/><circle cx="70.1" cy="36.3" r="0.42"/><circle cx="75.6" cy="25.9" r="0.42"/><circle cx="79.8" cy="47.8" r="0.42"/><circle cx="76.4" cy="49.3" r="0.42"/><circle cx="69.4" cy="30.5" r="0.42"/><circle cx="74.0" cy="43.5" r="0.42"/><circle cx="76.0" cy="40.3" r="0.42"/><circle cx="76.9" cy="33.8" r="0.42"/><circle cx="76.7" cy="35.7" r="0.42"/><circle cx="78.1" cy="26.2" r="0.42"/><circle cx="75.1" cy="45.9" r="0.42"/><circle cx="74.3" cy="29.8" r="0.42"/><circle cx="70.3" cy="39.3" r="0.42"/><circle cx="78.1" cy="33.6" r="0.42"/><circle cx="77.1" cy="31.8" r="0.42"/><circle cx="75.0" cy="40.9" r="0.42"/><circle cx="77.3" cy="33.0" r="0.42"/><circle cx="72.9" cy="47.7" r="0.42"/><circle cx="74.2" cy="27.3" r="0.42"/><circle cx="73.0" cy="37.4" r="0.42"/><circle cx="76.4" cy="47.9" r="0.42"/><circle cx="74.9" cy="31.5" r="0.42"/><circle cx="76.2" cy="33.9" r="0.42"/><circle cx="76.9" cy="31.2" r="0.42"/><circle cx="75.2" cy="28.3" r="0.42"/><circle cx="73.3" cy="25.4" r="0.42"/><circle cx="73.6" cy="32.7" r="0.42"/><circle cx="76.5" cy="27.3" r="0.42"/><circle cx="84.1" cy="24.0" r="0.42"/><circle cx="76.5" cy="47.4" r="0.42"/><circle cx="74.5" cy="24.4" r="0.42"/><circle cx="68.9" cy="40.9" r="0.42"/><circle cx="73.2" cy="25.3" r="0.42"/><circle cx="76.2" cy="28.0" r="0.42"/><circle cx="81.8" cy="40.2" r="0.42"/><circle cx="76.3" cy="43.7" r="0.42"/><circle cx="79.5" cy="43.2" r="0.42"/><circle cx="74.5" cy="30.2" r="0.42"/></g>
<g fill="#000" fill-opacity="0.46"><circle cx="77.2" cy="37.1" r="0.5"/><circle cx="77.2" cy="47.3" r="0.5"/><circle cx="76.4" cy="48.6" r="0.5"/><circle cx="77.8" cy="45.0" r="0.5"/><circle cx="77.3" cy="48.7" r="0.5"/><circle cx="76.6" cy="47.5" r="0.5"/><circle cx="76.6" cy="48.4" r="0.5"/><circle cx="75.8" cy="35.3" r="0.5"/><circle cx="76.2" cy="48.3" r="0.5"/><circle cx="78.2" cy="43.5" r="0.5"/><circle cx="77.5" cy="40.0" r="0.5"/><circle cx="76.1" cy="29.3" r="0.5"/><circle cx="75.3" cy="43.8" r="0.5"/><circle cx="75.2" cy="46.1" r="0.5"/><circle cx="77.4" cy="50.2" r="0.5"/><circle cx="76.5" cy="42.6" r="0.5"/><circle cx="76.5" cy="34.4" r="0.5"/><circle cx="78.7" cy="31.5" r="0.5"/><circle cx="77.8" cy="45.8" r="0.5"/><circle cx="75.7" cy="52.5" r="0.5"/><circle cx="78.4" cy="31.9" r="0.5"/><circle cx="77.4" cy="35.5" r="0.5"/><circle cx="79.6" cy="46.4" r="0.5"/><circle cx="76.5" cy="48.9" r="0.5"/><circle cx="75.9" cy="47.5" r="0.5"/><circle cx="77.5" cy="45.4" r="0.5"/><circle cx="75.9" cy="42.9" r="0.5"/><circle cx="77.6" cy="41.4" r="0.5"/><circle cx="78.3" cy="45.5" r="0.5"/><circle cx="74.4" cy="34.7" r="0.5"/><circle cx="75.4" cy="38.3" r="0.5"/><circle cx="77.6" cy="39.5" r="0.5"/><circle cx="78.0" cy="35.6" r="0.5"/><circle cx="77.6" cy="41.9" r="0.5"/><circle cx="76.6" cy="52.6" r="0.5"/><circle cx="72.8" cy="52.7" r="0.5"/><circle cx="72.9" cy="52.1" r="0.5"/><circle cx="75.3" cy="30.4" r="0.5"/><circle cx="76.1" cy="45.7" r="0.5"/><circle cx="76.3" cy="43.9" r="0.5"/><circle cx="73.0" cy="51.7" r="0.5"/><circle cx="77.2" cy="38.4" r="0.5"/><circle cx="77.2" cy="39.4" r="0.5"/><circle cx="76.8" cy="35.4" r="0.5"/><circle cx="76.5" cy="45.7" r="0.5"/><circle cx="77.2" cy="45.4" r="0.5"/><circle cx="75.8" cy="40.1" r="0.5"/><circle cx="76.3" cy="43.2" r="0.5"/><circle cx="76.5" cy="43.8" r="0.5"/><circle cx="77.4" cy="35.2" r="0.5"/><circle cx="75.5" cy="49.8" r="0.5"/><circle cx="76.2" cy="49.1" r="0.5"/><circle cx="78.4" cy="37.3" r="0.5"/><circle cx="77.9" cy="37.2" r="0.5"/><circle cx="76.1" cy="42.4" r="0.5"/><circle cx="76.7" cy="43.9" r="0.5"/><circle cx="75.2" cy="32.8" r="0.5"/><circle cx="76.9" cy="31.5" r="0.5"/><circle cx="78.3" cy="40.8" r="0.5"/><circle cx="77.0" cy="49.1" r="0.5"/><circle cx="76.5" cy="43.5" r="0.5"/><circle cx="74.8" cy="32.9" r="0.5"/><circle cx="73.3" cy="53.8" r="0.5"/><circle cx="76.1" cy="48.4" r="0.5"/><circle cx="78.6" cy="40.5" r="0.5"/><circle cx="80.0" cy="43.8" r="0.5"/><circle cx="78.5" cy="47.3" r="0.5"/><circle cx="78.8" cy="30.3" r="0.5"/><circle cx="76.8" cy="36.8" r="0.5"/><circle cx="77.2" cy="44.3" r="0.5"/><circle cx="76.3" cy="36.2" r="0.5"/><circle cx="79.0" cy="41.2" r="0.5"/><circle cx="74.1" cy="49.7" r="0.5"/><circle cx="75.1" cy="43.8" r="0.5"/><circle cx="76.2" cy="50.5" r="0.5"/><circle cx="76.4" cy="46.8" r="0.5"/><circle cx="77.2" cy="39.4" r="0.5"/><circle cx="74.7" cy="48.3" r="0.5"/><circle cx="75.5" cy="33.2" r="0.5"/><circle cx="76.6" cy="51.6" r="0.5"/><circle cx="78.8" cy="46.4" r="0.5"/><circle cx="77.5" cy="32.3" r="0.5"/><circle cx="77.2" cy="43.5" r="0.5"/><circle cx="74.9" cy="50.8" r="0.5"/><circle cx="77.0" cy="45.6" r="0.5"/><circle cx="77.9" cy="41.6" r="0.5"/><circle cx="76.0" cy="48.5" r="0.5"/><circle cx="76.7" cy="27.8" r="0.5"/><circle cx="77.3" cy="32.7" r="0.5"/><circle cx="76.2" cy="43.6" r="0.5"/><circle cx="76.5" cy="38.2" r="0.5"/><circle cx="75.8" cy="34.0" r="0.5"/><circle cx="74.3" cy="49.4" r="0.5"/><circle cx="76.3" cy="47.9" r="0.5"/><circle cx="76.3" cy="51.6" r="0.5"/><circle cx="77.1" cy="34.2" r="0.5"/><circle cx="78.7" cy="42.6" r="0.5"/><circle cx="75.3" cy="29.0" r="0.5"/><circle cx="77.8" cy="35.2" r="0.5"/><circle cx="75.1" cy="40.5" r="0.5"/><circle cx="78.4" cy="42.2" r="0.5"/><circle cx="79.2" cy="40.5" r="0.5"/><circle cx="75.9" cy="49.3" r="0.5"/><circle cx="76.7" cy="39.1" r="0.5"/><circle cx="78.4" cy="36.2" r="0.5"/><circle cx="75.9" cy="29.5" r="0.5"/><circle cx="76.0" cy="34.8" r="0.5"/><circle cx="78.2" cy="44.0" r="0.5"/><circle cx="76.9" cy="40.4" r="0.5"/><circle cx="77.1" cy="44.0" r="0.5"/><circle cx="78.5" cy="39.2" r="0.5"/><circle cx="73.9" cy="53.5" r="0.5"/><circle cx="78.2" cy="29.6" r="0.5"/><circle cx="78.6" cy="37.7" r="0.5"/><circle cx="75.9" cy="37.8" r="0.5"/><circle cx="77.0" cy="43.9" r="0.5"/><circle cx="81.1" cy="43.1" r="0.5"/><circle cx="75.9" cy="28.9" r="0.5"/><circle cx="77.4" cy="43.7" r="0.5"/><circle cx="74.3" cy="47.3" r="0.5"/><circle cx="76.1" cy="44.9" r="0.5"/><circle cx="76.0" cy="38.0" r="0.5"/><circle cx="79.1" cy="47.7" r="0.5"/><circle cx="74.7" cy="45.7" r="0.5"/><circle cx="77.2" cy="38.5" r="0.5"/><circle cx="74.8" cy="42.8" r="0.5"/><circle cx="76.0" cy="45.0" r="0.5"/><circle cx="78.4" cy="40.8" r="0.5"/><circle cx="76.4" cy="30.5" r="0.5"/><circle cx="74.6" cy="53.6" r="0.5"/><circle cx="76.3" cy="42.3" r="0.5"/><circle cx="77.7" cy="36.8" r="0.5"/><circle cx="77.1" cy="39.6" r="0.5"/><circle cx="76.4" cy="49.3" r="0.5"/><circle cx="75.4" cy="41.7" r="0.5"/><circle cx="77.6" cy="38.5" r="0.5"/><circle cx="78.0" cy="34.8" r="0.5"/><circle cx="77.5" cy="38.6" r="0.5"/><circle cx="74.0" cy="46.5" r="0.5"/><circle cx="76.0" cy="39.4" r="0.5"/><circle cx="75.1" cy="50.6" r="0.5"/><circle cx="76.7" cy="35.1" r="0.5"/><circle cx="78.3" cy="44.1" r="0.5"/><circle cx="76.9" cy="47.3" r="0.5"/><circle cx="77.3" cy="41.2" r="0.5"/><circle cx="76.6" cy="42.3" r="0.5"/><circle cx="75.8" cy="50.0" r="0.5"/><circle cx="78.0" cy="28.0" r="0.5"/><circle cx="76.8" cy="34.7" r="0.5"/><circle cx="79.1" cy="36.3" r="0.5"/><circle cx="77.6" cy="40.6" r="0.5"/><circle cx="78.1" cy="49.1" r="0.5"/><circle cx="77.7" cy="45.2" r="0.5"/><circle cx="76.7" cy="52.2" r="0.5"/><circle cx="79.2" cy="44.4" r="0.5"/><circle cx="77.4" cy="49.4" r="0.5"/><circle cx="77.6" cy="39.4" r="0.5"/><circle cx="77.7" cy="43.3" r="0.5"/><circle cx="74.3" cy="49.4" r="0.5"/><circle cx="74.6" cy="36.1" r="0.5"/><circle cx="77.0" cy="39.0" r="0.5"/><circle cx="75.0" cy="40.8" r="0.5"/><circle cx="76.8" cy="45.7" r="0.5"/><circle cx="77.4" cy="40.9" r="0.5"/><circle cx="76.1" cy="29.6" r="0.5"/><circle cx="76.1" cy="42.5" r="0.5"/><circle cx="76.9" cy="44.4" r="0.5"/><circle cx="78.5" cy="27.1" r="0.5"/><circle cx="71.9" cy="50.8" r="0.5"/><circle cx="75.4" cy="30.2" r="0.5"/><circle cx="76.8" cy="44.6" r="0.5"/><circle cx="75.8" cy="32.0" r="0.5"/><circle cx="78.4" cy="34.4" r="0.5"/><circle cx="78.8" cy="31.9" r="0.5"/><circle cx="75.3" cy="48.0" r="0.5"/><circle cx="77.8" cy="44.2" r="0.5"/><circle cx="76.0" cy="43.6" r="0.5"/><circle cx="75.5" cy="39.1" r="0.5"/><circle cx="76.9" cy="46.7" r="0.5"/><circle cx="79.1" cy="47.1" r="0.5"/><circle cx="76.1" cy="47.3" r="0.5"/><circle cx="76.3" cy="52.9" r="0.5"/><circle cx="76.7" cy="41.7" r="0.5"/><circle cx="76.8" cy="51.3" r="0.5"/><circle cx="78.5" cy="33.6" r="0.5"/><circle cx="77.1" cy="45.3" r="0.5"/><circle cx="74.3" cy="47.3" r="0.5"/><circle cx="80.1" cy="36.6" r="0.5"/><circle cx="77.3" cy="47.0" r="0.5"/><circle cx="77.2" cy="33.6" r="0.5"/><circle cx="75.3" cy="30.5" r="0.5"/><circle cx="77.0" cy="35.2" r="0.5"/><circle cx="74.7" cy="51.3" r="0.5"/><circle cx="77.6" cy="35.1" r="0.5"/><circle cx="77.7" cy="46.6" r="0.5"/><circle cx="76.6" cy="28.5" r="0.5"/><circle cx="77.1" cy="47.4" r="0.5"/><circle cx="80.8" cy="42.6" r="0.5"/><circle cx="75.6" cy="45.0" r="0.5"/><circle cx="79.0" cy="41.9" r="0.5"/><circle cx="77.5" cy="39.0" r="0.5"/><circle cx="76.6" cy="46.6" r="0.5"/><circle cx="76.2" cy="30.7" r="0.5"/><circle cx="75.3" cy="49.1" r="0.5"/><circle cx="75.7" cy="30.4" r="0.5"/><circle cx="75.1" cy="50.6" r="0.5"/><circle cx="74.5" cy="51.4" r="0.5"/><circle cx="76.3" cy="37.2" r="0.5"/><circle cx="76.1" cy="37.5" r="0.5"/><circle cx="77.4" cy="35.9" r="0.5"/><circle cx="76.3" cy="47.0" r="0.5"/><circle cx="72.3" cy="54.2" r="0.5"/><circle cx="76.3" cy="36.3" r="0.5"/><circle cx="76.1" cy="49.1" r="0.5"/><circle cx="76.1" cy="49.2" r="0.5"/><circle cx="79.0" cy="48.2" r="0.5"/><circle cx="76.2" cy="38.0" r="0.5"/><circle cx="77.4" cy="49.8" r="0.5"/><circle cx="76.3" cy="34.6" r="0.5"/><circle cx="75.3" cy="41.7" r="0.5"/><circle cx="77.7" cy="44.0" r="0.5"/><circle cx="75.5" cy="49.6" r="0.5"/><circle cx="77.5" cy="39.8" r="0.5"/><circle cx="74.4" cy="35.2" r="0.5"/><circle cx="77.5" cy="49.1" r="0.5"/><circle cx="77.0" cy="28.1" r="0.5"/><circle cx="77.2" cy="32.8" r="0.5"/><circle cx="75.7" cy="50.4" r="0.5"/><circle cx="76.9" cy="34.2" r="0.5"/><circle cx="76.4" cy="34.8" r="0.5"/><circle cx="78.0" cy="45.8" r="0.5"/><circle cx="76.3" cy="50.6" r="0.5"/><circle cx="79.8" cy="46.3" r="0.5"/><circle cx="74.5" cy="28.8" r="0.5"/><circle cx="77.5" cy="36.8" r="0.5"/><circle cx="75.0" cy="29.1" r="0.5"/><circle cx="77.2" cy="42.7" r="0.5"/><circle cx="78.4" cy="32.5" r="0.5"/><circle cx="78.2" cy="27.7" r="0.5"/><circle cx="76.2" cy="49.5" r="0.5"/><circle cx="76.3" cy="33.1" r="0.5"/><circle cx="77.1" cy="41.2" r="0.5"/><circle cx="76.7" cy="35.1" r="0.5"/><circle cx="76.3" cy="46.6" r="0.5"/><circle cx="78.0" cy="42.6" r="0.5"/><circle cx="77.8" cy="42.5" r="0.5"/><circle cx="75.1" cy="50.6" r="0.5"/><circle cx="75.3" cy="52.4" r="0.5"/><circle cx="76.0" cy="49.6" r="0.5"/><circle cx="75.9" cy="35.1" r="0.5"/><circle cx="77.4" cy="37.5" r="0.5"/><circle cx="77.2" cy="42.8" r="0.5"/><circle cx="75.8" cy="40.8" r="0.5"/><circle cx="76.6" cy="26.7" r="0.5"/><circle cx="76.0" cy="45.8" r="0.5"/><circle cx="75.6" cy="43.5" r="0.5"/><circle cx="79.7" cy="45.9" r="0.5"/><circle cx="76.7" cy="46.3" r="0.5"/><circle cx="76.4" cy="40.6" r="0.5"/><circle cx="75.6" cy="52.7" r="0.5"/><circle cx="76.0" cy="40.4" r="0.5"/><circle cx="77.9" cy="34.0" r="0.5"/><circle cx="74.5" cy="54.8" r="0.5"/><circle cx="75.6" cy="50.8" r="0.5"/><circle cx="76.0" cy="37.3" r="0.5"/><circle cx="76.2" cy="36.9" r="0.5"/><circle cx="78.9" cy="35.7" r="0.5"/><circle cx="78.7" cy="47.5" r="0.5"/><circle cx="77.8" cy="50.3" r="0.5"/><circle cx="77.6" cy="39.0" r="0.5"/><circle cx="75.9" cy="45.2" r="0.5"/><circle cx="74.0" cy="52.6" r="0.5"/><circle cx="76.9" cy="24.8" r="0.5"/><circle cx="74.4" cy="42.8" r="0.5"/><circle cx="78.0" cy="44.3" r="0.5"/><circle cx="77.0" cy="44.9" r="0.5"/><circle cx="75.5" cy="46.7" r="0.5"/><circle cx="78.5" cy="40.5" r="0.5"/><circle cx="75.5" cy="43.1" r="0.5"/><circle cx="75.7" cy="38.9" r="0.5"/><circle cx="76.1" cy="44.9" r="0.5"/><circle cx="76.7" cy="44.6" r="0.5"/><circle cx="78.3" cy="37.5" r="0.5"/><circle cx="76.2" cy="46.4" r="0.5"/><circle cx="76.1" cy="43.0" r="0.5"/><circle cx="77.1" cy="33.9" r="0.5"/><circle cx="73.9" cy="50.8" r="0.5"/><circle cx="76.7" cy="43.1" r="0.5"/><circle cx="76.9" cy="48.0" r="0.5"/><circle cx="77.6" cy="48.2" r="0.5"/><circle cx="75.4" cy="41.9" r="0.5"/><circle cx="74.1" cy="49.9" r="0.5"/><circle cx="77.6" cy="49.2" r="0.5"/><circle cx="77.0" cy="48.4" r="0.5"/><circle cx="77.3" cy="48.1" r="0.5"/><circle cx="77.5" cy="37.2" r="0.5"/><circle cx="75.5" cy="32.4" r="0.5"/><circle cx="78.9" cy="43.0" r="0.5"/><circle cx="78.2" cy="41.7" r="0.5"/><circle cx="73.6" cy="54.5" r="0.5"/><circle cx="75.5" cy="45.9" r="0.5"/><circle cx="77.4" cy="47.7" r="0.5"/><circle cx="78.2" cy="47.0" r="0.5"/><circle cx="78.6" cy="39.9" r="0.5"/><circle cx="77.1" cy="43.0" r="0.5"/><circle cx="78.3" cy="39.4" r="0.5"/><circle cx="77.9" cy="40.3" r="0.5"/><circle cx="77.1" cy="43.9" r="0.5"/><circle cx="77.9" cy="30.3" r="0.5"/><circle cx="78.9" cy="37.8" r="0.5"/><circle cx="77.1" cy="39.0" r="0.5"/><circle cx="79.6" cy="32.0" r="0.5"/><circle cx="77.6" cy="45.0" r="0.5"/><circle cx="76.3" cy="41.1" r="0.5"/><circle cx="75.9" cy="47.6" r="0.5"/><circle cx="76.1" cy="29.5" r="0.5"/><circle cx="75.6" cy="41.5" r="0.5"/><circle cx="78.6" cy="38.3" r="0.5"/><circle cx="75.5" cy="40.8" r="0.5"/><circle cx="75.0" cy="39.6" r="0.5"/><circle cx="74.3" cy="40.3" r="0.5"/><circle cx="75.5" cy="35.5" r="0.5"/><circle cx="74.1" cy="52.6" r="0.5"/><circle cx="75.7" cy="45.5" r="0.5"/><circle cx="79.0" cy="39.1" r="0.5"/><circle cx="78.0" cy="40.2" r="0.5"/><circle cx="74.1" cy="43.1" r="0.5"/><circle cx="77.1" cy="47.0" r="0.5"/><circle cx="75.7" cy="28.2" r="0.5"/><circle cx="76.2" cy="41.9" r="0.5"/><circle cx="75.3" cy="48.6" r="0.5"/><circle cx="76.9" cy="49.8" r="0.5"/><circle cx="75.4" cy="41.5" r="0.5"/><circle cx="76.8" cy="48.3" r="0.5"/><circle cx="76.9" cy="45.6" r="0.5"/><circle cx="75.6" cy="29.3" r="0.5"/><circle cx="74.8" cy="45.7" r="0.5"/><circle cx="76.2" cy="47.2" r="0.5"/><circle cx="77.1" cy="33.0" r="0.5"/><circle cx="77.3" cy="48.1" r="0.5"/><circle cx="78.9" cy="32.4" r="0.5"/><circle cx="78.2" cy="43.8" r="0.5"/><circle cx="76.1" cy="30.2" r="0.5"/><circle cx="75.1" cy="42.3" r="0.5"/><circle cx="76.5" cy="30.2" r="0.5"/><circle cx="75.7" cy="44.1" r="0.5"/><circle cx="73.8" cy="54.7" r="0.5"/><circle cx="74.5" cy="34.0" r="0.5"/><circle cx="76.9" cy="39.2" r="0.5"/><circle cx="73.5" cy="53.7" r="0.5"/><circle cx="76.9" cy="37.8" r="0.5"/><circle cx="78.2" cy="37.3" r="0.5"/><circle cx="74.9" cy="49.0" r="0.5"/><circle cx="76.4" cy="41.1" r="0.5"/><circle cx="76.1" cy="30.0" r="0.5"/><circle cx="79.4" cy="47.8" r="0.5"/><circle cx="76.4" cy="49.0" r="0.5"/><circle cx="77.9" cy="30.0" r="0.5"/><circle cx="75.9" cy="43.3" r="0.5"/><circle cx="78.1" cy="42.4" r="0.5"/><circle cx="75.4" cy="44.1" r="0.5"/><circle cx="78.8" cy="35.8" r="0.5"/><circle cx="75.2" cy="50.6" r="0.5"/><circle cx="76.8" cy="38.8" r="0.5"/><circle cx="75.5" cy="43.2" r="0.5"/><circle cx="77.9" cy="39.0" r="0.5"/><circle cx="77.3" cy="37.8" r="0.5"/><circle cx="75.9" cy="46.2" r="0.5"/><circle cx="75.6" cy="47.8" r="0.5"/><circle cx="74.5" cy="51.1" r="0.5"/><circle cx="77.3" cy="41.6" r="0.5"/><circle cx="76.7" cy="41.3" r="0.5"/><circle cx="79.6" cy="45.0" r="0.5"/><circle cx="77.8" cy="31.1" r="0.5"/><circle cx="78.3" cy="44.3" r="0.5"/><circle cx="79.8" cy="43.7" r="0.5"/><circle cx="74.8" cy="47.8" r="0.5"/><circle cx="77.0" cy="45.6" r="0.5"/><circle cx="77.6" cy="38.3" r="0.5"/><circle cx="79.5" cy="34.1" r="0.5"/><circle cx="75.8" cy="50.5" r="0.5"/><circle cx="77.6" cy="32.1" r="0.5"/><circle cx="78.3" cy="47.5" r="0.5"/><circle cx="76.6" cy="45.4" r="0.5"/><circle cx="78.7" cy="37.4" r="0.5"/><circle cx="75.9" cy="34.4" r="0.5"/><circle cx="76.9" cy="30.3" r="0.5"/><circle cx="76.3" cy="48.5" r="0.5"/><circle cx="77.2" cy="38.3" r="0.5"/><circle cx="78.8" cy="38.9" r="0.5"/><circle cx="78.7" cy="43.7" r="0.5"/><circle cx="79.5" cy="39.0" r="0.5"/><circle cx="78.0" cy="48.6" r="0.5"/><circle cx="76.0" cy="53.1" r="0.5"/><circle cx="78.3" cy="40.5" r="0.5"/><circle cx="77.3" cy="45.1" r="0.5"/><circle cx="76.4" cy="36.4" r="0.5"/><circle cx="76.8" cy="41.9" r="0.5"/><circle cx="75.2" cy="46.5" r="0.5"/><circle cx="77.9" cy="32.9" r="0.5"/><circle cx="78.9" cy="48.3" r="0.5"/><circle cx="75.1" cy="54.4" r="0.5"/><circle cx="74.1" cy="51.2" r="0.5"/><circle cx="76.8" cy="39.5" r="0.5"/><circle cx="73.9" cy="46.9" r="0.5"/><circle cx="77.1" cy="32.0" r="0.5"/><circle cx="78.2" cy="42.3" r="0.5"/><circle cx="75.6" cy="43.4" r="0.5"/><circle cx="77.7" cy="31.8" r="0.5"/><circle cx="76.9" cy="49.8" r="0.5"/><circle cx="77.0" cy="48.7" r="0.5"/><circle cx="80.0" cy="28.7" r="0.5"/><circle cx="78.2" cy="44.4" r="0.5"/><circle cx="74.9" cy="51.4" r="0.5"/><circle cx="78.2" cy="45.3" r="0.5"/><circle cx="77.4" cy="41.7" r="0.5"/><circle cx="77.0" cy="37.1" r="0.5"/><circle cx="76.1" cy="47.5" r="0.5"/><circle cx="78.6" cy="38.4" r="0.5"/><circle cx="77.7" cy="32.1" r="0.5"/><circle cx="77.4" cy="43.6" r="0.5"/><circle cx="75.2" cy="41.9" r="0.5"/><circle cx="76.4" cy="28.8" r="0.5"/><circle cx="76.9" cy="45.2" r="0.5"/><circle cx="75.9" cy="33.6" r="0.5"/><circle cx="76.4" cy="40.1" r="0.5"/><circle cx="77.4" cy="45.4" r="0.5"/><circle cx="75.9" cy="51.3" r="0.5"/><circle cx="78.5" cy="39.2" r="0.5"/><circle cx="74.7" cy="42.2" r="0.5"/><circle cx="79.3" cy="34.2" r="0.5"/><circle cx="78.5" cy="33.0" r="0.5"/><circle cx="76.3" cy="42.5" r="0.5"/><circle cx="76.8" cy="42.0" r="0.5"/><circle cx="75.4" cy="34.7" r="0.5"/><circle cx="76.6" cy="39.9" r="0.5"/><circle cx="76.3" cy="35.7" r="0.5"/><circle cx="77.5" cy="33.4" r="0.5"/><circle cx="78.1" cy="36.9" r="0.5"/><circle cx="74.9" cy="49.8" r="0.5"/><circle cx="78.5" cy="27.2" r="0.5"/><circle cx="76.4" cy="47.6" r="0.5"/><circle cx="76.6" cy="43.9" r="0.5"/><circle cx="76.1" cy="46.9" r="0.5"/><circle cx="77.0" cy="34.3" r="0.5"/><circle cx="77.3" cy="40.5" r="0.5"/><circle cx="76.3" cy="42.9" r="0.5"/><circle cx="79.7" cy="31.6" r="0.5"/><circle cx="77.2" cy="44.0" r="0.5"/><circle cx="78.7" cy="47.5" r="0.5"/><circle cx="77.9" cy="46.2" r="0.5"/><circle cx="77.4" cy="44.4" r="0.5"/><circle cx="75.7" cy="53.2" r="0.5"/><circle cx="77.5" cy="45.9" r="0.5"/><circle cx="75.4" cy="48.1" r="0.5"/><circle cx="79.1" cy="41.9" r="0.5"/><circle cx="78.8" cy="50.6" r="0.5"/><circle cx="77.2" cy="40.9" r="0.5"/><circle cx="77.9" cy="40.8" r="0.5"/><circle cx="77.5" cy="46.6" r="0.5"/><circle cx="77.7" cy="45.7" r="0.5"/><circle cx="78.0" cy="33.9" r="0.5"/><circle cx="77.2" cy="35.7" r="0.5"/><circle cx="75.4" cy="52.8" r="0.5"/><circle cx="73.2" cy="54.6" r="0.5"/><circle cx="75.5" cy="42.6" r="0.5"/><circle cx="78.8" cy="47.4" r="0.5"/><circle cx="75.8" cy="45.0" r="0.5"/><circle cx="75.2" cy="35.7" r="0.5"/><circle cx="75.1" cy="47.5" r="0.5"/><circle cx="76.7" cy="32.0" r="0.5"/><circle cx="75.8" cy="34.6" r="0.5"/><circle cx="73.5" cy="52.3" r="0.5"/><circle cx="75.0" cy="33.7" r="0.5"/><circle cx="79.4" cy="48.3" r="0.5"/><circle cx="75.9" cy="46.8" r="0.5"/><circle cx="77.2" cy="48.4" r="0.5"/><circle cx="75.3" cy="41.4" r="0.5"/><circle cx="77.3" cy="48.3" r="0.5"/><circle cx="74.3" cy="38.4" r="0.5"/><circle cx="71.5" cy="52.1" r="0.5"/><circle cx="76.4" cy="33.0" r="0.5"/><circle cx="74.7" cy="52.4" r="0.5"/><circle cx="75.6" cy="48.5" r="0.5"/><circle cx="77.5" cy="36.7" r="0.5"/><circle cx="78.4" cy="36.8" r="0.5"/><circle cx="78.7" cy="42.5" r="0.5"/><circle cx="75.9" cy="46.2" r="0.5"/><circle cx="77.5" cy="40.5" r="0.5"/><circle cx="74.7" cy="45.8" r="0.5"/><circle cx="75.8" cy="51.3" r="0.5"/><circle cx="75.8" cy="31.8" r="0.5"/><circle cx="77.6" cy="45.3" r="0.5"/><circle cx="75.9" cy="44.3" r="0.5"/><circle cx="76.7" cy="48.5" r="0.5"/><circle cx="76.9" cy="42.4" r="0.5"/><circle cx="78.9" cy="27.4" r="0.5"/><circle cx="78.6" cy="41.0" r="0.5"/><circle cx="75.8" cy="44.5" r="0.5"/><circle cx="77.3" cy="36.2" r="0.5"/><circle cx="78.1" cy="39.7" r="0.5"/><circle cx="75.4" cy="38.2" r="0.5"/><circle cx="76.7" cy="31.8" r="0.5"/><circle cx="79.1" cy="41.5" r="0.5"/><circle cx="77.2" cy="45.4" r="0.5"/><circle cx="76.4" cy="45.8" r="0.5"/><circle cx="77.4" cy="29.4" r="0.5"/><circle cx="76.2" cy="37.7" r="0.5"/><circle cx="74.2" cy="51.9" r="0.5"/><circle cx="76.8" cy="49.8" r="0.5"/><circle cx="78.1" cy="44.6" r="0.5"/><circle cx="76.2" cy="42.6" r="0.5"/><circle cx="70.8" cy="51.9" r="0.5"/><circle cx="76.8" cy="35.5" r="0.5"/><circle cx="77.5" cy="48.4" r="0.5"/><circle cx="78.4" cy="24.5" r="0.5"/><circle cx="78.4" cy="35.0" r="0.5"/><circle cx="76.3" cy="47.9" r="0.5"/><circle cx="76.6" cy="37.2" r="0.5"/><circle cx="77.5" cy="43.6" r="0.5"/><circle cx="75.1" cy="49.1" r="0.5"/><circle cx="75.4" cy="50.9" r="0.5"/><circle cx="75.8" cy="49.9" r="0.5"/><circle cx="76.5" cy="44.8" r="0.5"/><circle cx="78.2" cy="41.5" r="0.5"/><circle cx="76.7" cy="45.4" r="0.5"/><circle cx="75.8" cy="44.9" r="0.5"/><circle cx="78.2" cy="45.7" r="0.5"/><circle cx="74.6" cy="50.2" r="0.5"/><circle cx="74.2" cy="52.8" r="0.5"/><circle cx="78.0" cy="30.3" r="0.5"/><circle cx="75.2" cy="43.7" r="0.5"/><circle cx="77.0" cy="41.6" r="0.5"/><circle cx="74.2" cy="46.5" r="0.5"/><circle cx="78.2" cy="46.8" r="0.5"/><circle cx="77.3" cy="33.7" r="0.5"/><circle cx="75.5" cy="51.7" r="0.5"/><circle cx="76.5" cy="44.2" r="0.5"/><circle cx="78.3" cy="44.0" r="0.5"/><circle cx="77.4" cy="46.8" r="0.5"/><circle cx="76.6" cy="45.1" r="0.5"/><circle cx="79.2" cy="38.2" r="0.5"/><circle cx="73.7" cy="43.4" r="0.5"/><circle cx="78.8" cy="45.2" r="0.5"/><circle cx="76.3" cy="47.9" r="0.5"/><circle cx="73.5" cy="52.2" r="0.5"/><circle cx="76.6" cy="46.2" r="0.5"/><circle cx="76.0" cy="34.6" r="0.5"/><circle cx="78.1" cy="44.0" r="0.5"/><circle cx="74.9" cy="39.5" r="0.5"/><circle cx="74.2" cy="33.8" r="0.5"/><circle cx="76.7" cy="34.6" r="0.5"/><circle cx="77.6" cy="46.7" r="0.5"/><circle cx="78.0" cy="30.1" r="0.5"/><circle cx="74.4" cy="38.4" r="0.5"/><circle cx="77.0" cy="52.1" r="0.5"/><circle cx="75.8" cy="35.4" r="0.5"/><circle cx="80.0" cy="35.7" r="0.5"/><circle cx="76.4" cy="38.9" r="0.5"/><circle cx="77.2" cy="37.4" r="0.5"/><circle cx="74.4" cy="40.5" r="0.5"/><circle cx="79.3" cy="37.6" r="0.5"/><circle cx="78.2" cy="35.9" r="0.5"/><circle cx="75.8" cy="48.5" r="0.5"/><circle cx="77.2" cy="45.0" r="0.5"/><circle cx="75.8" cy="34.3" r="0.5"/><circle cx="75.3" cy="47.0" r="0.5"/><circle cx="77.3" cy="45.6" r="0.5"/><circle cx="76.8" cy="46.9" r="0.5"/><circle cx="76.9" cy="50.5" r="0.5"/><circle cx="76.5" cy="43.2" r="0.5"/><circle cx="78.8" cy="37.4" r="0.5"/><circle cx="79.4" cy="47.2" r="0.5"/><circle cx="77.6" cy="43.8" r="0.5"/><circle cx="78.0" cy="39.7" r="0.5"/><circle cx="76.6" cy="37.0" r="0.5"/><circle cx="74.8" cy="31.0" r="0.5"/><circle cx="76.3" cy="45.7" r="0.5"/><circle cx="77.2" cy="40.9" r="0.5"/><circle cx="76.4" cy="38.6" r="0.5"/><circle cx="78.9" cy="45.1" r="0.5"/><circle cx="76.6" cy="45.9" r="0.5"/><circle cx="74.4" cy="47.3" r="0.5"/><circle cx="79.0" cy="46.7" r="0.5"/><circle cx="75.1" cy="39.4" r="0.5"/><circle cx="78.5" cy="39.6" r="0.5"/><circle cx="78.2" cy="35.3" r="0.5"/><circle cx="75.8" cy="43.0" r="0.5"/><circle cx="77.6" cy="45.5" r="0.5"/><circle cx="76.6" cy="39.3" r="0.5"/><circle cx="75.6" cy="30.8" r="0.5"/><circle cx="77.3" cy="48.8" r="0.5"/><circle cx="75.8" cy="45.5" r="0.5"/><circle cx="76.4" cy="43.9" r="0.5"/><circle cx="78.3" cy="37.8" r="0.5"/><circle cx="74.6" cy="48.5" r="0.5"/><circle cx="75.9" cy="34.2" r="0.5"/><circle cx="75.0" cy="42.6" r="0.5"/><circle cx="77.8" cy="50.0" r="0.5"/><circle cx="75.4" cy="48.2" r="0.5"/><circle cx="77.5" cy="45.2" r="0.5"/><circle cx="76.5" cy="46.1" r="0.5"/><circle cx="76.2" cy="46.1" r="0.5"/><circle cx="76.3" cy="30.8" r="0.5"/><circle cx="77.5" cy="44.4" r="0.5"/><circle cx="76.0" cy="36.2" r="0.5"/><circle cx="78.7" cy="36.5" r="0.5"/><circle cx="75.4" cy="52.8" r="0.5"/><circle cx="75.5" cy="47.8" r="0.5"/><circle cx="78.6" cy="31.1" r="0.5"/><circle cx="76.6" cy="48.6" r="0.5"/><circle cx="77.1" cy="44.9" r="0.5"/><circle cx="76.9" cy="33.8" r="0.5"/><circle cx="77.5" cy="41.6" r="0.5"/><circle cx="77.1" cy="43.6" r="0.5"/><circle cx="76.3" cy="48.3" r="0.5"/><circle cx="77.3" cy="32.8" r="0.5"/><circle cx="78.9" cy="39.4" r="0.5"/><circle cx="76.1" cy="39.1" r="0.5"/><circle cx="76.5" cy="47.6" r="0.5"/><circle cx="78.3" cy="36.0" r="0.5"/><circle cx="74.9" cy="43.3" r="0.5"/><circle cx="77.1" cy="28.6" r="0.5"/><circle cx="76.7" cy="42.7" r="0.5"/><circle cx="78.8" cy="41.1" r="0.5"/><circle cx="77.7" cy="46.4" r="0.5"/><circle cx="75.7" cy="44.1" r="0.5"/><circle cx="77.9" cy="44.2" r="0.5"/><circle cx="80.0" cy="36.5" r="0.5"/><circle cx="73.6" cy="47.8" r="0.5"/><circle cx="72.8" cy="52.1" r="0.5"/><circle cx="80.5" cy="31.0" r="0.5"/><circle cx="78.0" cy="42.2" r="0.5"/><circle cx="78.1" cy="45.8" r="0.5"/><circle cx="75.8" cy="46.2" r="0.5"/><circle cx="77.3" cy="35.5" r="0.5"/><circle cx="76.8" cy="40.7" r="0.5"/><circle cx="77.9" cy="46.6" r="0.5"/><circle cx="76.2" cy="42.9" r="0.5"/><circle cx="77.3" cy="46.1" r="0.5"/><circle cx="76.8" cy="35.7" r="0.5"/><circle cx="78.7" cy="46.0" r="0.5"/><circle cx="74.3" cy="52.7" r="0.5"/><circle cx="72.3" cy="50.6" r="0.5"/><circle cx="76.9" cy="46.4" r="0.5"/><circle cx="76.5" cy="35.9" r="0.5"/><circle cx="78.4" cy="27.0" r="0.5"/><circle cx="75.4" cy="44.9" r="0.5"/><circle cx="76.5" cy="37.5" r="0.5"/><circle cx="77.6" cy="44.9" r="0.5"/><circle cx="73.2" cy="53.9" r="0.5"/><circle cx="77.4" cy="35.0" r="0.5"/><circle cx="79.0" cy="39.7" r="0.5"/><circle cx="75.6" cy="41.8" r="0.5"/><circle cx="77.6" cy="32.4" r="0.5"/><circle cx="77.4" cy="47.3" r="0.5"/><circle cx="80.0" cy="42.1" r="0.5"/><circle cx="76.7" cy="47.7" r="0.5"/><circle cx="77.3" cy="42.2" r="0.5"/><circle cx="76.4" cy="32.7" r="0.5"/><circle cx="76.1" cy="43.8" r="0.5"/><circle cx="77.0" cy="37.2" r="0.5"/><circle cx="78.8" cy="27.8" r="0.5"/><circle cx="74.0" cy="51.5" r="0.5"/><circle cx="72.0" cy="53.1" r="0.5"/><circle cx="77.8" cy="40.3" r="0.5"/><circle cx="77.2" cy="48.0" r="0.5"/><circle cx="76.4" cy="27.0" r="0.5"/><circle cx="75.9" cy="36.2" r="0.5"/><circle cx="76.3" cy="26.5" r="0.5"/><circle cx="77.0" cy="48.4" r="0.5"/><circle cx="75.5" cy="29.5" r="0.5"/><circle cx="75.6" cy="49.7" r="0.5"/><circle cx="76.9" cy="39.0" r="0.5"/><circle cx="78.2" cy="44.8" r="0.5"/><circle cx="76.0" cy="45.1" r="0.5"/><circle cx="77.1" cy="35.9" r="0.5"/><circle cx="79.9" cy="40.3" r="0.5"/><circle cx="76.4" cy="32.5" r="0.5"/><circle cx="76.6" cy="35.8" r="0.5"/><circle cx="75.4" cy="41.8" r="0.5"/><circle cx="76.0" cy="46.1" r="0.5"/><circle cx="79.0" cy="41.5" r="0.5"/><circle cx="77.9" cy="30.1" r="0.5"/><circle cx="75.4" cy="42.1" r="0.5"/><circle cx="78.2" cy="46.2" r="0.5"/><circle cx="75.8" cy="36.9" r="0.5"/><circle cx="75.3" cy="42.1" r="0.5"/><circle cx="78.5" cy="33.9" r="0.5"/><circle cx="76.0" cy="30.6" r="0.5"/><circle cx="78.0" cy="36.9" r="0.5"/><circle cx="76.9" cy="40.5" r="0.5"/><circle cx="77.8" cy="47.5" r="0.5"/><circle cx="75.3" cy="46.7" r="0.5"/><circle cx="80.1" cy="29.2" r="0.5"/><circle cx="78.9" cy="47.8" r="0.5"/><circle cx="78.0" cy="29.1" r="0.5"/><circle cx="75.7" cy="50.9" r="0.5"/><circle cx="75.5" cy="36.3" r="0.5"/><circle cx="74.3" cy="45.0" r="0.5"/><circle cx="75.6" cy="50.6" r="0.5"/><circle cx="77.8" cy="27.6" r="0.5"/><circle cx="79.9" cy="47.0" r="0.5"/><circle cx="79.2" cy="46.2" r="0.5"/><circle cx="77.3" cy="35.4" r="0.5"/><circle cx="76.2" cy="42.8" r="0.5"/><circle cx="77.7" cy="32.6" r="0.5"/><circle cx="72.9" cy="50.5" r="0.5"/><circle cx="78.0" cy="25.3" r="0.5"/><circle cx="75.4" cy="48.2" r="0.5"/><circle cx="75.7" cy="42.7" r="0.5"/><circle cx="75.6" cy="47.8" r="0.5"/><circle cx="78.6" cy="31.3" r="0.5"/><circle cx="77.6" cy="38.2" r="0.5"/><circle cx="79.2" cy="40.6" r="0.5"/><circle cx="77.1" cy="28.1" r="0.5"/><circle cx="77.2" cy="48.4" r="0.5"/><circle cx="75.6" cy="33.2" r="0.5"/><circle cx="77.4" cy="45.2" r="0.5"/><circle cx="78.4" cy="32.7" r="0.5"/><circle cx="73.0" cy="52.8" r="0.5"/><circle cx="76.6" cy="32.1" r="0.5"/><circle cx="78.5" cy="46.5" r="0.5"/><circle cx="74.9" cy="32.4" r="0.5"/><circle cx="76.3" cy="40.0" r="0.5"/><circle cx="79.2" cy="34.1" r="0.5"/><circle cx="79.3" cy="44.5" r="0.5"/><circle cx="76.7" cy="26.2" r="0.5"/><circle cx="78.6" cy="31.2" r="0.5"/><circle cx="78.4" cy="44.4" r="0.5"/><circle cx="75.7" cy="43.0" r="0.5"/><circle cx="77.4" cy="44.6" r="0.5"/><circle cx="78.9" cy="45.2" r="0.5"/><circle cx="75.8" cy="47.7" r="0.5"/><circle cx="76.9" cy="50.4" r="0.5"/><circle cx="75.2" cy="28.6" r="0.5"/><circle cx="77.8" cy="45.7" r="0.5"/><circle cx="75.1" cy="49.5" r="0.5"/><circle cx="78.4" cy="35.2" r="0.5"/><circle cx="76.5" cy="46.1" r="0.5"/><circle cx="76.6" cy="37.2" r="0.5"/><circle cx="78.2" cy="39.0" r="0.5"/><circle cx="73.4" cy="32.1" r="0.5"/><circle cx="78.3" cy="45.3" r="0.5"/><circle cx="75.6" cy="51.0" r="0.5"/><circle cx="70.6" cy="54.2" r="0.5"/><circle cx="76.8" cy="46.9" r="0.5"/><circle cx="78.0" cy="40.9" r="0.5"/><circle cx="77.3" cy="27.8" r="0.5"/><circle cx="78.4" cy="50.6" r="0.5"/><circle cx="77.3" cy="39.1" r="0.5"/><circle cx="73.8" cy="49.8" r="0.5"/><circle cx="76.3" cy="47.7" r="0.5"/><circle cx="76.6" cy="48.3" r="0.5"/><circle cx="76.1" cy="38.7" r="0.5"/><circle cx="76.1" cy="43.3" r="0.5"/><circle cx="75.4" cy="52.3" r="0.5"/><circle cx="78.4" cy="45.2" r="0.5"/><circle cx="78.3" cy="43.3" r="0.5"/><circle cx="75.2" cy="50.4" r="0.5"/><circle cx="77.6" cy="45.9" r="0.5"/><circle cx="76.9" cy="36.1" r="0.5"/><circle cx="77.2" cy="38.1" r="0.5"/><circle cx="76.9" cy="37.4" r="0.5"/><circle cx="77.8" cy="46.3" r="0.5"/><circle cx="76.9" cy="41.4" r="0.5"/><circle cx="76.2" cy="45.8" r="0.5"/><circle cx="74.9" cy="46.9" r="0.5"/><circle cx="77.0" cy="37.1" r="0.5"/><circle cx="77.3" cy="45.9" r="0.5"/><circle cx="76.8" cy="36.0" r="0.5"/><circle cx="80.5" cy="45.1" r="0.5"/><circle cx="76.0" cy="44.2" r="0.5"/><circle cx="75.5" cy="45.9" r="0.5"/><circle cx="77.5" cy="38.5" r="0.5"/><circle cx="77.2" cy="27.2" r="0.5"/><circle cx="77.4" cy="39.8" r="0.5"/><circle cx="77.5" cy="42.5" r="0.5"/><circle cx="74.0" cy="52.5" r="0.5"/><circle cx="76.0" cy="47.2" r="0.5"/><circle cx="77.9" cy="35.1" r="0.5"/><circle cx="77.7" cy="40.8" r="0.5"/><circle cx="74.9" cy="45.9" r="0.5"/><circle cx="77.7" cy="32.1" r="0.5"/><circle cx="74.0" cy="51.0" r="0.5"/><circle cx="79.1" cy="28.6" r="0.5"/><circle cx="77.1" cy="48.3" r="0.5"/><circle cx="79.5" cy="47.8" r="0.5"/><circle cx="77.0" cy="45.6" r="0.5"/><circle cx="77.2" cy="35.5" r="0.5"/><circle cx="77.0" cy="50.2" r="0.5"/><circle cx="78.7" cy="44.2" r="0.5"/><circle cx="77.3" cy="45.4" r="0.5"/><circle cx="77.7" cy="32.2" r="0.5"/><circle cx="72.4" cy="53.2" r="0.5"/><circle cx="78.3" cy="43.9" r="0.5"/><circle cx="77.2" cy="36.4" r="0.5"/><circle cx="76.6" cy="48.9" r="0.5"/><circle cx="78.2" cy="33.5" r="0.5"/><circle cx="76.7" cy="46.4" r="0.5"/></g>
<rect x="59.5" y="12.4" width="26.0" height="31.200000000000003" fill="none" stroke="#707070" stroke-width="0.7"/>
<rect x="67.9" y="11.6" width="9.2" height="1.6" fill="#fff"/>
<text x="72.50" y="15.90" font-size="4.7" text-anchor="middle" fill="#333" stroke="#333" stroke-width="0.12">34.3</text>
<rect x="27.2" y="85.6" width="66.8" height="65.20000000000002" fill="none" stroke="#d8d8d8" stroke-width="0.8"/>
<line x1="27.2" y1="89.6" x2="27.2" y2="150.8" stroke="#666" stroke-width="0.7" stroke-dasharray="0.8,1.6"/>
<line x1="30.2" y1="150.8" x2="93.0" y2="150.8" stroke="#888" stroke-width="0.6" stroke-dasharray="0.8,1.6"/>
<line x1="25.70" y1="92.77" x2="27.20" y2="92.77" stroke="#555" stroke-width="0.7"/>
<text transform="translate(22.60,93.07) rotate(-35)" x="0" y="0" font-size="3.2" text-anchor="middle" fill="#333" stroke="#333" stroke-width="0.2" font-weight="bold">10<tspan font-size="2.4" dy="-1">4</tspan></text>
<line x1="25.70" y1="107.77" x2="27.20" y2="107.77" stroke="#555" stroke-width="0.7"/>
<text transform="translate(22.60,108.07) rotate(-35)" x="0" y="0" font-size="3.2" text-anchor="middle" fill="#333" stroke="#333" stroke-width="0.2" font-weight="bold">10<tspan font-size="2.4" dy="-1">4</tspan></text>
<line x1="25.70" y1="124.72" x2="27.20" y2="124.72" stroke="#555" stroke-width="0.7"/>
<text transform="translate(22.60,125.02) rotate(-35)" x="0" y="0" font-size="3.2" text-anchor="middle" fill="#333" stroke="#333" stroke-width="0.2" font-weight="bold">10<tspan font-size="2.4" dy="-1">4</tspan></text>
<line x1="25.70" y1="146.24" x2="27.20" y2="146.24" stroke="#555" stroke-width="0.7"/>
<text transform="translate(22.60,146.54) rotate(-35)" x="0" y="0" font-size="3.2" text-anchor="middle" fill="#333" stroke="#333" stroke-width="0.2" font-weight="bold">10<tspan font-size="2.4" dy="-1">4</tspan></text>
<rect x="26.099999999999998" y="134.604" width="2.2" height="2.4" fill="#111"/>
<text x="22.00" y="136.80" font-size="2.6" text-anchor="start" fill="#777" stroke="#777" stroke-width="0.2">0</text>
<line x1="35.00" y1="150.80" x2="35.00" y2="152.00" stroke="#555" stroke-width="0.6"/>
<line x1="41.20" y1="150.80" x2="41.20" y2="152.00" stroke="#555" stroke-width="0.6"/>
<line x1="56.00" y1="150.80" x2="56.00" y2="152.00" stroke="#555" stroke-width="0.6"/>
<line x1="69.00" y1="150.80" x2="69.00" y2="152.00" stroke="#555" stroke-width="0.6"/>
<line x1="82.70" y1="150.80" x2="82.70" y2="152.00" stroke="#555" stroke-width="0.6"/>
<rect x="40" y="149.8" width="2.4" height="2.0" fill="#111"/>
<text x="41.30" y="155.10" font-size="2.6" text-anchor="middle" fill="#777" stroke="#777" stroke-width="0.2">0</text>
<text x="69.00" y="155.10" font-size="2.8" text-anchor="middle" fill="#777" stroke="#777" stroke-width="0.2">10<tspan font-size="2" dy="-1">4</tspan></text>
<text x="82.70" y="155.10" font-size="2.8" text-anchor="middle" fill="#777" stroke="#777" stroke-width="0.2">10<tspan font-size="2" dy="-1">4</tspan></text>
<text x="29.60" y="94.00" font-size="8.5" text-anchor="start" fill="#111" stroke="#111" stroke-width="0.2">TNBC</text>
<path d="M57.4,137.0 C58.0,133 62.5,130.6 66.5,129.6 C70,128.8 72.8,127.9 75.0,128.4 C75.4,131.5 72.4,134.8 68.2,137.1 C64.5,139.1 59.8,139.8 57.4,137.0 Z" fill="#777" opacity="0.85" filter="url(#blur1)"/>
<g fill="#6a6a6a" fill-opacity="0.35"><circle cx="60.9" cy="136.1" r="0.5"/><circle cx="63.5" cy="132.9" r="0.5"/><circle cx="66.9" cy="134.3" r="0.5"/><circle cx="70.6" cy="131.9" r="0.5"/><circle cx="61.9" cy="132.6" r="0.5"/><circle cx="63.0" cy="137.2" r="0.5"/><circle cx="61.8" cy="135.8" r="0.5"/><circle cx="64.9" cy="136.1" r="0.5"/><circle cx="66.6" cy="129.3" r="0.5"/><circle cx="59.7" cy="136.9" r="0.5"/><circle cx="68.7" cy="132.9" r="0.5"/><circle cx="58.9" cy="135.9" r="0.5"/><circle cx="65.9" cy="135.4" r="0.5"/><circle cx="69.6" cy="133.0" r="0.5"/><circle cx="60.7" cy="137.3" r="0.5"/><circle cx="61.9" cy="136.8" r="0.5"/><circle cx="61.8" cy="134.4" r="0.5"/><circle cx="59.9" cy="136.6" r="0.5"/><circle cx="62.0" cy="130.0" r="0.5"/><circle cx="67.2" cy="133.8" r="0.5"/><circle cx="60.0" cy="136.7" r="0.5"/><circle cx="68.3" cy="135.8" r="0.5"/><circle cx="72.2" cy="132.5" r="0.5"/><circle cx="60.1" cy="135.4" r="0.5"/><circle cx="72.3" cy="130.0" r="0.5"/><circle cx="61.2" cy="135.5" r="0.5"/><circle cx="71.4" cy="131.0" r="0.5"/><circle cx="63.0" cy="135.7" r="0.5"/><circle cx="71.7" cy="129.5" r="0.5"/><circle cx="60.1" cy="136.8" r="0.5"/><circle cx="65.1" cy="133.2" r="0.5"/><circle cx="68.9" cy="133.2" r="0.5"/><circle cx="65.9" cy="138.3" r="0.5"/><circle cx="67.5" cy="137.2" r="0.5"/><circle cx="62.5" cy="137.9" r="0.5"/><circle cx="66.3" cy="133.5" r="0.5"/><circle cx="58.3" cy="134.8" r="0.5"/><circle cx="66.8" cy="133.7" r="0.5"/><circle cx="61.1" cy="132.9" r="0.5"/><circle cx="68.2" cy="132.4" r="0.5"/><circle cx="61.5" cy="137.0" r="0.5"/><circle cx="68.1" cy="128.8" r="0.5"/><circle cx="70.6" cy="129.7" r="0.5"/><circle cx="62.6" cy="138.1" r="0.5"/><circle cx="60.7" cy="132.3" r="0.5"/><circle cx="59.2" cy="134.6" r="0.5"/><circle cx="62.8" cy="137.1" r="0.5"/><circle cx="61.0" cy="136.2" r="0.5"/><circle cx="61.6" cy="135.5" r="0.5"/><circle cx="72.1" cy="129.7" r="0.5"/><circle cx="64.6" cy="133.9" r="0.5"/><circle cx="72.5" cy="130.3" r="0.5"/><circle cx="61.2" cy="133.2" r="0.5"/><circle cx="72.6" cy="130.4" r="0.5"/><circle cx="67.1" cy="136.0" r="0.5"/><circle cx="61.9" cy="135.2" r="0.5"/><circle cx="71.4" cy="132.3" r="0.5"/><circle cx="68.7" cy="140.7" r="0.5"/><circle cx="62.8" cy="136.7" r="0.5"/><circle cx="64.5" cy="133.6" r="0.5"/><circle cx="63.7" cy="134.3" r="0.5"/><circle cx="64.1" cy="133.9" r="0.5"/><circle cx="61.2" cy="135.7" r="0.5"/><circle cx="67.6" cy="132.6" r="0.5"/><circle cx="61.5" cy="132.9" r="0.5"/><circle cx="69.4" cy="132.5" r="0.5"/><circle cx="60.8" cy="135.9" r="0.5"/><circle cx="72.8" cy="130.5" r="0.5"/><circle cx="61.5" cy="137.0" r="0.5"/><circle cx="68.0" cy="134.4" r="0.5"/><circle cx="71.9" cy="131.3" r="0.5"/><circle cx="61.4" cy="136.1" r="0.5"/><circle cx="66.5" cy="131.1" r="0.5"/><circle cx="71.8" cy="131.0" r="0.5"/><circle cx="69.5" cy="134.8" r="0.5"/><circle cx="61.1" cy="131.6" r="0.5"/><circle cx="72.4" cy="130.2" r="0.5"/><circle cx="72.1" cy="130.7" r="0.5"/><circle cx="60.8" cy="137.2" r="0.5"/><circle cx="63.1" cy="135.0" r="0.5"/><circle cx="73.0" cy="130.5" r="0.5"/><circle cx="65.8" cy="131.8" r="0.5"/><circle cx="71.3" cy="131.5" r="0.5"/><circle cx="65.1" cy="130.8" r="0.5"/><circle cx="60.5" cy="136.1" r="0.5"/><circle cx="68.5" cy="135.3" r="0.5"/><circle cx="71.5" cy="133.6" r="0.5"/><circle cx="60.4" cy="133.0" r="0.5"/><circle cx="60.5" cy="137.6" r="0.5"/><circle cx="60.9" cy="134.3" r="0.5"/><circle cx="68.8" cy="132.1" r="0.5"/><circle cx="64.8" cy="135.7" r="0.5"/><circle cx="66.3" cy="132.9" r="0.5"/><circle cx="69.3" cy="131.3" r="0.5"/><circle cx="66.7" cy="130.2" r="0.5"/><circle cx="70.5" cy="131.7" r="0.5"/><circle cx="58.2" cy="135.2" r="0.5"/><circle cx="69.2" cy="132.3" r="0.5"/><circle cx="69.0" cy="134.1" r="0.5"/><circle cx="71.4" cy="134.1" r="0.5"/><circle cx="60.4" cy="131.3" r="0.5"/><circle cx="62.6" cy="137.1" r="0.5"/><circle cx="66.6" cy="137.9" r="0.5"/><circle cx="61.8" cy="134.3" r="0.5"/><circle cx="68.9" cy="130.6" r="0.5"/><circle cx="70.6" cy="133.0" r="0.5"/><circle cx="60.7" cy="136.1" r="0.5"/><circle cx="63.2" cy="136.2" r="0.5"/><circle cx="59.7" cy="137.3" r="0.5"/><circle cx="65.6" cy="135.4" r="0.5"/><circle cx="58.7" cy="133.6" r="0.5"/><circle cx="66.2" cy="130.8" r="0.5"/><circle cx="63.7" cy="133.8" r="0.5"/><circle cx="60.6" cy="134.0" r="0.5"/><circle cx="67.1" cy="136.3" r="0.5"/><circle cx="61.3" cy="136.0" r="0.5"/><circle cx="65.6" cy="137.4" r="0.5"/><circle cx="70.7" cy="130.7" r="0.5"/><circle cx="67.3" cy="130.8" r="0.5"/><circle cx="72.6" cy="129.7" r="0.5"/><circle cx="61.7" cy="135.6" r="0.5"/><circle cx="61.8" cy="133.6" r="0.5"/><circle cx="70.0" cy="129.6" r="0.5"/><circle cx="71.0" cy="129.9" r="0.5"/><circle cx="67.4" cy="132.9" r="0.5"/><circle cx="66.7" cy="133.5" r="0.5"/><circle cx="69.3" cy="131.8" r="0.5"/><circle cx="59.1" cy="137.2" r="0.5"/><circle cx="61.3" cy="135.6" r="0.5"/><circle cx="62.1" cy="135.1" r="0.5"/><circle cx="62.1" cy="133.7" r="0.5"/><circle cx="57.6" cy="133.6" r="0.5"/><circle cx="62.0" cy="139.4" r="0.5"/><circle cx="60.2" cy="134.2" r="0.5"/><circle cx="62.9" cy="132.9" r="0.5"/><circle cx="64.7" cy="133.7" r="0.5"/><circle cx="65.7" cy="133.5" r="0.5"/><circle cx="60.2" cy="136.7" r="0.5"/><circle cx="62.0" cy="137.5" r="0.5"/><circle cx="69.4" cy="133.2" r="0.5"/><circle cx="63.0" cy="135.7" r="0.5"/><circle cx="62.4" cy="131.6" r="0.5"/><circle cx="66.7" cy="135.1" r="0.5"/><circle cx="68.7" cy="136.7" r="0.5"/><circle cx="60.0" cy="137.5" r="0.5"/><circle cx="65.5" cy="136.6" r="0.5"/><circle cx="69.3" cy="132.2" r="0.5"/><circle cx="71.3" cy="133.3" r="0.5"/><circle cx="59.8" cy="135.4" r="0.5"/><circle cx="68.8" cy="131.5" r="0.5"/><circle cx="70.6" cy="131.5" r="0.5"/><circle cx="59.7" cy="135.2" r="0.5"/><circle cx="68.1" cy="131.5" r="0.5"/><circle cx="61.4" cy="135.1" r="0.5"/><circle cx="68.1" cy="134.7" r="0.5"/><circle cx="63.0" cy="136.7" r="0.5"/><circle cx="61.7" cy="133.1" r="0.5"/><circle cx="69.7" cy="132.7" r="0.5"/><circle cx="59.2" cy="136.5" r="0.5"/><circle cx="62.4" cy="133.6" r="0.5"/><circle cx="67.7" cy="131.7" r="0.5"/><circle cx="71.5" cy="129.8" r="0.5"/><circle cx="61.3" cy="134.5" r="0.5"/><circle cx="63.7" cy="137.4" r="0.5"/><circle cx="61.3" cy="136.1" r="0.5"/><circle cx="71.6" cy="132.9" r="0.5"/><circle cx="70.3" cy="134.3" r="0.5"/><circle cx="62.9" cy="133.9" r="0.5"/><circle cx="63.3" cy="134.5" r="0.5"/><circle cx="67.4" cy="132.1" r="0.5"/><circle cx="60.8" cy="137.7" r="0.5"/><circle cx="61.3" cy="136.3" r="0.5"/><circle cx="72.5" cy="130.9" r="0.5"/><circle cx="61.1" cy="134.2" r="0.5"/><circle cx="59.7" cy="134.3" r="0.5"/><circle cx="64.0" cy="134.2" r="0.5"/><circle cx="68.1" cy="129.6" r="0.5"/><circle cx="60.1" cy="135.6" r="0.5"/><circle cx="59.3" cy="135.2" r="0.5"/><circle cx="63.1" cy="136.4" r="0.5"/><circle cx="68.6" cy="132.5" r="0.5"/><circle cx="66.5" cy="135.2" r="0.5"/><circle cx="69.2" cy="132.1" r="0.5"/><circle cx="64.4" cy="132.0" r="0.5"/><circle cx="72.6" cy="131.3" r="0.5"/><circle cx="60.0" cy="135.3" r="0.5"/><circle cx="64.9" cy="132.7" r="0.5"/><circle cx="59.0" cy="135.8" r="0.5"/><circle cx="73.1" cy="130.3" r="0.5"/><circle cx="65.3" cy="133.1" r="0.5"/><circle cx="67.7" cy="132.4" r="0.5"/><circle cx="69.9" cy="132.2" r="0.5"/><circle cx="69.8" cy="131.1" r="0.5"/><circle cx="64.7" cy="134.4" r="0.5"/><circle cx="60.4" cy="136.6" r="0.5"/><circle cx="62.9" cy="134.7" r="0.5"/><circle cx="70.1" cy="132.0" r="0.5"/><circle cx="60.0" cy="136.8" r="0.5"/><circle cx="59.8" cy="132.8" r="0.5"/><circle cx="61.0" cy="135.1" r="0.5"/><circle cx="61.4" cy="135.8" r="0.5"/><circle cx="62.8" cy="132.6" r="0.5"/><circle cx="60.7" cy="136.1" r="0.5"/><circle cx="62.3" cy="139.8" r="0.5"/><circle cx="62.5" cy="134.8" r="0.5"/><circle cx="71.2" cy="129.2" r="0.5"/><circle cx="66.8" cy="136.0" r="0.5"/><circle cx="62.7" cy="134.2" r="0.5"/><circle cx="65.2" cy="133.0" r="0.5"/><circle cx="59.6" cy="133.6" r="0.5"/><circle cx="62.0" cy="136.2" r="0.5"/><circle cx="70.5" cy="131.1" r="0.5"/><circle cx="63.7" cy="134.5" r="0.5"/><circle cx="66.3" cy="135.0" r="0.5"/><circle cx="73.3" cy="130.5" r="0.5"/><circle cx="64.8" cy="137.5" r="0.5"/><circle cx="61.3" cy="135.6" r="0.5"/><circle cx="60.8" cy="134.1" r="0.5"/><circle cx="65.6" cy="135.6" r="0.5"/><circle cx="65.7" cy="129.8" r="0.5"/><circle cx="59.0" cy="136.9" r="0.5"/><circle cx="71.4" cy="129.7" r="0.5"/><circle cx="72.4" cy="129.9" r="0.5"/><circle cx="71.5" cy="133.0" r="0.5"/><circle cx="62.1" cy="133.9" r="0.5"/><circle cx="64.5" cy="135.7" r="0.5"/><circle cx="64.8" cy="135.3" r="0.5"/><circle cx="72.1" cy="130.9" r="0.5"/><circle cx="63.5" cy="131.4" r="0.5"/><circle cx="68.8" cy="129.7" r="0.5"/><circle cx="63.6" cy="137.9" r="0.5"/><circle cx="73.0" cy="129.8" r="0.5"/><circle cx="69.4" cy="131.9" r="0.5"/><circle cx="61.0" cy="131.9" r="0.5"/><circle cx="67.3" cy="130.2" r="0.5"/><circle cx="61.6" cy="137.8" r="0.5"/><circle cx="65.8" cy="131.4" r="0.5"/><circle cx="65.2" cy="137.4" r="0.5"/><circle cx="71.6" cy="132.2" r="0.5"/><circle cx="59.7" cy="133.4" r="0.5"/><circle cx="72.4" cy="130.4" r="0.5"/><circle cx="67.2" cy="130.0" r="0.5"/><circle cx="60.0" cy="137.5" r="0.5"/><circle cx="64.6" cy="132.0" r="0.5"/><circle cx="64.0" cy="135.2" r="0.5"/><circle cx="70.7" cy="129.5" r="0.5"/><circle cx="61.6" cy="134.7" r="0.5"/><circle cx="60.7" cy="137.0" r="0.5"/><circle cx="65.1" cy="137.8" r="0.5"/><circle cx="62.3" cy="135.7" r="0.5"/><circle cx="60.7" cy="138.2" r="0.5"/><circle cx="62.2" cy="136.6" r="0.5"/><circle cx="64.2" cy="130.9" r="0.5"/><circle cx="72.9" cy="130.8" r="0.5"/><circle cx="62.1" cy="132.1" r="0.5"/><circle cx="64.3" cy="130.7" r="0.5"/><circle cx="71.8" cy="130.6" r="0.5"/><circle cx="71.1" cy="130.2" r="0.5"/><circle cx="68.0" cy="134.7" r="0.5"/><circle cx="71.2" cy="132.0" r="0.5"/><circle cx="65.4" cy="131.4" r="0.5"/><circle cx="71.6" cy="130.9" r="0.5"/><circle cx="68.6" cy="132.7" r="0.5"/><circle cx="64.9" cy="136.0" r="0.5"/><circle cx="72.7" cy="130.2" r="0.5"/><circle cx="71.9" cy="130.3" r="0.5"/><circle cx="58.8" cy="135.5" r="0.5"/><circle cx="68.8" cy="131.1" r="0.5"/><circle cx="65.9" cy="135.8" r="0.5"/><circle cx="71.0" cy="131.9" r="0.5"/><circle cx="70.0" cy="130.9" r="0.5"/><circle cx="69.9" cy="132.5" r="0.5"/><circle cx="70.6" cy="131.8" r="0.5"/><circle cx="73.5" cy="130.7" r="0.5"/><circle cx="64.1" cy="131.7" r="0.5"/><circle cx="72.6" cy="131.1" r="0.5"/><circle cx="61.5" cy="135.0" r="0.5"/><circle cx="69.9" cy="133.0" r="0.5"/><circle cx="60.7" cy="133.7" r="0.5"/><circle cx="68.2" cy="131.7" r="0.5"/><circle cx="63.9" cy="142.3" r="0.5"/><circle cx="65.9" cy="130.9" r="0.5"/><circle cx="70.8" cy="132.4" r="0.5"/><circle cx="68.5" cy="136.6" r="0.5"/><circle cx="70.2" cy="132.4" r="0.5"/><circle cx="72.0" cy="130.1" r="0.5"/><circle cx="62.7" cy="137.3" r="0.5"/><circle cx="71.9" cy="130.8" r="0.5"/><circle cx="72.2" cy="131.5" r="0.5"/><circle cx="72.2" cy="130.3" r="0.5"/><circle cx="67.6" cy="134.5" r="0.5"/><circle cx="71.0" cy="132.5" r="0.5"/><circle cx="64.4" cy="132.8" r="0.5"/><circle cx="62.4" cy="134.1" r="0.5"/><circle cx="63.9" cy="131.8" r="0.5"/><circle cx="60.1" cy="136.0" r="0.5"/><circle cx="58.5" cy="135.9" r="0.5"/><circle cx="70.5" cy="133.4" r="0.5"/><circle cx="62.2" cy="135.1" r="0.5"/><circle cx="62.2" cy="137.5" r="0.5"/><circle cx="68.0" cy="133.6" r="0.5"/><circle cx="67.0" cy="132.2" r="0.5"/><circle cx="69.2" cy="131.9" r="0.5"/><circle cx="68.1" cy="129.8" r="0.5"/><circle cx="63.7" cy="137.1" r="0.5"/><circle cx="58.5" cy="134.1" r="0.5"/><circle cx="72.4" cy="130.2" r="0.5"/><circle cx="59.9" cy="136.5" r="0.5"/><circle cx="70.2" cy="131.1" r="0.5"/><circle cx="65.0" cy="132.7" r="0.5"/><circle cx="68.7" cy="133.9" r="0.5"/><circle cx="69.9" cy="131.6" r="0.5"/><circle cx="62.5" cy="135.5" r="0.5"/><circle cx="65.2" cy="135.1" r="0.5"/><circle cx="67.6" cy="132.3" r="0.5"/><circle cx="62.4" cy="136.3" r="0.5"/><circle cx="60.2" cy="136.6" r="0.5"/><circle cx="66.8" cy="134.9" r="0.5"/><circle cx="60.7" cy="133.8" r="0.5"/><circle cx="72.9" cy="130.2" r="0.5"/><circle cx="66.8" cy="135.5" r="0.5"/><circle cx="61.4" cy="134.8" r="0.5"/><circle cx="67.7" cy="133.4" r="0.5"/><circle cx="60.1" cy="136.9" r="0.5"/><circle cx="69.6" cy="133.5" r="0.5"/><circle cx="63.8" cy="134.0" r="0.5"/><circle cx="64.2" cy="132.2" r="0.5"/><circle cx="65.6" cy="136.4" r="0.5"/><circle cx="61.6" cy="137.1" r="0.5"/><circle cx="58.4" cy="135.7" r="0.5"/><circle cx="71.1" cy="130.9" r="0.5"/><circle cx="67.2" cy="131.0" r="0.5"/><circle cx="71.9" cy="130.0" r="0.5"/><circle cx="63.6" cy="135.9" r="0.5"/><circle cx="66.1" cy="131.5" r="0.5"/><circle cx="72.2" cy="129.6" r="0.5"/><circle cx="60.0" cy="133.9" r="0.5"/><circle cx="71.0" cy="133.1" r="0.5"/><circle cx="67.0" cy="132.1" r="0.5"/><circle cx="72.3" cy="129.9" r="0.5"/><circle cx="66.3" cy="132.1" r="0.5"/><circle cx="60.7" cy="136.5" r="0.5"/><circle cx="71.8" cy="130.7" r="0.5"/><circle cx="63.3" cy="134.2" r="0.5"/><circle cx="64.9" cy="131.8" r="0.5"/><circle cx="71.8" cy="130.7" r="0.5"/><circle cx="61.9" cy="130.2" r="0.5"/><circle cx="67.7" cy="131.7" r="0.5"/><circle cx="65.3" cy="132.6" r="0.5"/><circle cx="68.3" cy="134.1" r="0.5"/><circle cx="70.2" cy="131.4" r="0.5"/><circle cx="65.3" cy="136.0" r="0.5"/><circle cx="65.0" cy="136.3" r="0.5"/><circle cx="62.3" cy="133.8" r="0.5"/><circle cx="63.8" cy="135.0" r="0.5"/><circle cx="68.4" cy="131.3" r="0.5"/><circle cx="59.2" cy="136.8" r="0.5"/><circle cx="70.6" cy="131.7" r="0.5"/><circle cx="61.0" cy="135.9" r="0.5"/><circle cx="62.9" cy="135.6" r="0.5"/><circle cx="69.2" cy="131.3" r="0.5"/><circle cx="72.0" cy="129.2" r="0.5"/><circle cx="67.1" cy="133.7" r="0.5"/><circle cx="72.2" cy="130.4" r="0.5"/><circle cx="65.6" cy="134.9" r="0.5"/><circle cx="71.9" cy="132.3" r="0.5"/><circle cx="65.9" cy="137.4" r="0.5"/><circle cx="70.4" cy="133.1" r="0.5"/><circle cx="67.7" cy="133.2" r="0.5"/><circle cx="59.6" cy="136.4" r="0.5"/><circle cx="61.6" cy="138.2" r="0.5"/><circle cx="68.1" cy="132.9" r="0.5"/><circle cx="60.6" cy="136.5" r="0.5"/><circle cx="68.1" cy="133.6" r="0.5"/><circle cx="69.2" cy="133.6" r="0.5"/><circle cx="73.0" cy="130.1" r="0.5"/><circle cx="64.6" cy="132.7" r="0.5"/><circle cx="62.6" cy="136.0" r="0.5"/><circle cx="73.2" cy="130.8" r="0.5"/><circle cx="61.3" cy="135.5" r="0.5"/><circle cx="61.8" cy="136.4" r="0.5"/><circle cx="70.0" cy="132.8" r="0.5"/><circle cx="58.8" cy="134.6" r="0.5"/><circle cx="59.1" cy="136.2" r="0.5"/><circle cx="65.5" cy="134.4" r="0.5"/><circle cx="64.2" cy="131.4" r="0.5"/><circle cx="71.3" cy="130.2" r="0.5"/><circle cx="64.1" cy="133.1" r="0.5"/><circle cx="72.8" cy="131.1" r="0.5"/><circle cx="65.5" cy="130.0" r="0.5"/><circle cx="61.2" cy="136.5" r="0.5"/><circle cx="69.4" cy="133.4" r="0.5"/><circle cx="59.1" cy="137.4" r="0.5"/><circle cx="64.9" cy="130.3" r="0.5"/><circle cx="59.0" cy="137.1" r="0.5"/><circle cx="67.8" cy="130.7" r="0.5"/><circle cx="67.0" cy="132.7" r="0.5"/><circle cx="72.5" cy="129.8" r="0.5"/><circle cx="72.9" cy="130.9" r="0.5"/><circle cx="62.9" cy="133.6" r="0.5"/><circle cx="64.0" cy="133.8" r="0.5"/><circle cx="71.4" cy="133.8" r="0.5"/><circle cx="70.9" cy="133.0" r="0.5"/><circle cx="66.9" cy="128.1" r="0.5"/><circle cx="63.4" cy="134.7" r="0.5"/><circle cx="67.1" cy="131.4" r="0.5"/><circle cx="61.6" cy="136.8" r="0.5"/><circle cx="62.0" cy="133.3" r="0.5"/><circle cx="72.8" cy="131.8" r="0.5"/><circle cx="70.4" cy="133.1" r="0.5"/><circle cx="61.0" cy="135.9" r="0.5"/><circle cx="71.5" cy="129.7" r="0.5"/><circle cx="65.6" cy="129.2" r="0.5"/><circle cx="60.7" cy="137.6" r="0.5"/><circle cx="70.4" cy="132.3" r="0.5"/><circle cx="60.8" cy="136.7" r="0.5"/><circle cx="70.9" cy="129.6" r="0.5"/><circle cx="63.0" cy="136.1" r="0.5"/><circle cx="69.2" cy="131.5" r="0.5"/><circle cx="65.6" cy="132.8" r="0.5"/><circle cx="69.5" cy="132.3" r="0.5"/><circle cx="64.0" cy="137.4" r="0.5"/><circle cx="66.0" cy="138.2" r="0.5"/><circle cx="73.1" cy="129.7" r="0.5"/><circle cx="63.6" cy="130.8" r="0.5"/><circle cx="69.3" cy="130.7" r="0.5"/><circle cx="66.0" cy="134.9" r="0.5"/><circle cx="72.4" cy="130.0" r="0.5"/><circle cx="66.7" cy="135.9" r="0.5"/><circle cx="61.7" cy="137.5" r="0.5"/><circle cx="70.6" cy="136.4" r="0.5"/><circle cx="67.5" cy="134.9" r="0.5"/><circle cx="70.1" cy="133.0" r="0.5"/><circle cx="65.2" cy="136.2" r="0.5"/><circle cx="62.5" cy="135.3" r="0.5"/><circle cx="65.5" cy="133.1" r="0.5"/><circle cx="60.8" cy="137.9" r="0.5"/><circle cx="58.4" cy="134.6" r="0.5"/><circle cx="64.2" cy="130.7" r="0.5"/><circle cx="69.6" cy="132.3" r="0.5"/><circle cx="64.3" cy="135.5" r="0.5"/><circle cx="60.6" cy="135.5" r="0.5"/><circle cx="70.8" cy="131.8" r="0.5"/><circle cx="66.4" cy="134.2" r="0.5"/><circle cx="64.7" cy="136.7" r="0.5"/><circle cx="67.4" cy="137.3" r="0.5"/><circle cx="70.2" cy="131.5" r="0.5"/><circle cx="63.7" cy="139.0" r="0.5"/><circle cx="71.3" cy="129.2" r="0.5"/><circle cx="69.0" cy="129.5" r="0.5"/><circle cx="66.5" cy="129.4" r="0.5"/><circle cx="64.9" cy="133.0" r="0.5"/><circle cx="61.2" cy="138.2" r="0.5"/><circle cx="68.0" cy="130.8" r="0.5"/><circle cx="69.7" cy="131.9" r="0.5"/><circle cx="71.3" cy="132.3" r="0.5"/><circle cx="72.9" cy="130.5" r="0.5"/><circle cx="68.5" cy="131.7" r="0.5"/><circle cx="66.4" cy="132.1" r="0.5"/><circle cx="61.0" cy="136.4" r="0.5"/><circle cx="64.9" cy="132.1" r="0.5"/><circle cx="64.2" cy="134.4" r="0.5"/><circle cx="66.9" cy="133.2" r="0.5"/><circle cx="60.2" cy="133.6" r="0.5"/><circle cx="71.0" cy="129.5" r="0.5"/><circle cx="73.4" cy="130.8" r="0.5"/><circle cx="59.3" cy="132.5" r="0.5"/><circle cx="63.3" cy="131.8" r="0.5"/><circle cx="66.7" cy="132.9" r="0.5"/><circle cx="61.9" cy="135.8" r="0.5"/><circle cx="60.4" cy="135.5" r="0.5"/><circle cx="68.1" cy="135.4" r="0.5"/><circle cx="72.5" cy="130.2" r="0.5"/><circle cx="72.4" cy="129.9" r="0.5"/><circle cx="66.6" cy="129.4" r="0.5"/><circle cx="68.1" cy="131.4" r="0.5"/><circle cx="63.4" cy="133.1" r="0.5"/><circle cx="72.8" cy="130.0" r="0.5"/><circle cx="62.6" cy="135.8" r="0.5"/><circle cx="58.9" cy="136.7" r="0.5"/><circle cx="67.1" cy="133.6" r="0.5"/><circle cx="61.3" cy="137.6" r="0.5"/><circle cx="70.6" cy="130.4" r="0.5"/><circle cx="71.9" cy="129.7" r="0.5"/><circle cx="73.1" cy="129.8" r="0.5"/><circle cx="58.1" cy="135.3" r="0.5"/><circle cx="58.2" cy="133.6" r="0.5"/><circle cx="64.3" cy="136.8" r="0.5"/><circle cx="67.9" cy="134.7" r="0.5"/><circle cx="71.9" cy="130.7" r="0.5"/><circle cx="67.4" cy="132.9" r="0.5"/><circle cx="61.6" cy="135.2" r="0.5"/><circle cx="61.6" cy="135.9" r="0.5"/><circle cx="72.2" cy="130.2" r="0.5"/><circle cx="63.4" cy="136.5" r="0.5"/><circle cx="62.8" cy="133.1" r="0.5"/><circle cx="72.6" cy="129.7" r="0.5"/><circle cx="60.3" cy="137.4" r="0.5"/><circle cx="71.1" cy="131.6" r="0.5"/><circle cx="69.6" cy="131.7" r="0.5"/></g>
<g fill="#eab0b8" fill-opacity="0.6"><circle cx="76.9" cy="104.9" r="0.5"/><circle cx="77.3" cy="117.8" r="0.5"/><circle cx="83.1" cy="127.5" r="0.5"/><circle cx="75.2" cy="116.6" r="0.5"/><circle cx="77.5" cy="117.6" r="0.5"/><circle cx="78.8" cy="114.2" r="0.5"/><circle cx="77.0" cy="107.8" r="0.5"/><circle cx="74.4" cy="100.7" r="0.5"/><circle cx="77.4" cy="101.2" r="0.5"/><circle cx="78.1" cy="122.4" r="0.5"/><circle cx="72.4" cy="101.3" r="0.5"/><circle cx="75.4" cy="114.5" r="0.5"/><circle cx="75.1" cy="109.6" r="0.5"/><circle cx="75.4" cy="97.9" r="0.5"/><circle cx="75.8" cy="109.9" r="0.5"/><circle cx="79.5" cy="104.0" r="0.5"/><circle cx="75.6" cy="123.2" r="0.5"/><circle cx="76.6" cy="111.8" r="0.5"/><circle cx="73.4" cy="108.8" r="0.5"/><circle cx="79.0" cy="103.3" r="0.5"/><circle cx="76.8" cy="118.1" r="0.5"/><circle cx="73.2" cy="112.6" r="0.5"/><circle cx="74.3" cy="126.5" r="0.5"/><circle cx="74.6" cy="98.3" r="0.5"/><circle cx="75.0" cy="98.7" r="0.5"/><circle cx="76.4" cy="117.4" r="0.5"/><circle cx="74.5" cy="110.0" r="0.5"/><circle cx="78.2" cy="126.9" r="0.5"/><circle cx="76.7" cy="104.1" r="0.5"/><circle cx="77.2" cy="106.7" r="0.5"/><circle cx="74.8" cy="126.0" r="0.5"/><circle cx="73.1" cy="101.5" r="0.5"/><circle cx="78.8" cy="97.5" r="0.5"/><circle cx="78.7" cy="117.4" r="0.5"/><circle cx="74.9" cy="101.2" r="0.5"/><circle cx="74.9" cy="112.7" r="0.5"/><circle cx="78.7" cy="107.1" r="0.5"/><circle cx="77.9" cy="119.7" r="0.5"/><circle cx="77.3" cy="112.9" r="0.5"/><circle cx="78.6" cy="110.3" r="0.5"/><circle cx="79.8" cy="117.8" r="0.5"/><circle cx="78.3" cy="96.1" r="0.5"/><circle cx="74.2" cy="103.3" r="0.5"/><circle cx="76.5" cy="98.9" r="0.5"/><circle cx="77.7" cy="118.7" r="0.5"/><circle cx="75.4" cy="104.8" r="0.5"/><circle cx="75.9" cy="118.1" r="0.5"/><circle cx="77.9" cy="118.7" r="0.5"/><circle cx="76.0" cy="110.2" r="0.5"/><circle cx="76.3" cy="113.9" r="0.5"/><circle cx="76.5" cy="128.7" r="0.5"/><circle cx="75.0" cy="112.6" r="0.5"/><circle cx="76.7" cy="112.1" r="0.5"/><circle cx="78.9" cy="112.4" r="0.5"/><circle cx="74.0" cy="122.7" r="0.5"/><circle cx="80.9" cy="122.9" r="0.5"/><circle cx="77.2" cy="111.6" r="0.5"/><circle cx="77.6" cy="100.2" r="0.5"/><circle cx="74.5" cy="118.6" r="0.5"/><circle cx="72.5" cy="128.2" r="0.5"/><circle cx="74.6" cy="97.5" r="0.5"/><circle cx="71.3" cy="99.7" r="0.5"/><circle cx="78.5" cy="106.6" r="0.5"/><circle cx="76.6" cy="119.9" r="0.5"/><circle cx="74.7" cy="107.5" r="0.5"/><circle cx="73.3" cy="119.5" r="0.5"/><circle cx="78.1" cy="105.1" r="0.5"/><circle cx="75.1" cy="96.1" r="0.5"/><circle cx="74.8" cy="99.0" r="0.5"/><circle cx="70.8" cy="117.0" r="0.5"/><circle cx="78.1" cy="101.1" r="0.5"/><circle cx="72.8" cy="99.8" r="0.5"/><circle cx="75.4" cy="108.6" r="0.5"/><circle cx="75.3" cy="97.4" r="0.5"/><circle cx="81.2" cy="107.7" r="0.5"/><circle cx="69.8" cy="106.5" r="0.5"/><circle cx="76.6" cy="126.0" r="0.5"/><circle cx="70.8" cy="115.4" r="0.5"/><circle cx="71.9" cy="128.0" r="0.5"/><circle cx="70.9" cy="114.7" r="0.5"/><circle cx="72.8" cy="102.5" r="0.5"/><circle cx="75.2" cy="107.1" r="0.5"/><circle cx="72.3" cy="108.3" r="0.5"/><circle cx="75.3" cy="103.3" r="0.5"/><circle cx="72.7" cy="105.2" r="0.5"/><circle cx="75.4" cy="109.8" r="0.5"/><circle cx="76.7" cy="117.9" r="0.5"/><circle cx="78.2" cy="105.1" r="0.5"/><circle cx="74.3" cy="121.4" r="0.5"/><circle cx="71.5" cy="113.1" r="0.5"/><circle cx="78.1" cy="104.2" r="0.5"/><circle cx="74.2" cy="108.4" r="0.5"/><circle cx="72.4" cy="105.6" r="0.5"/><circle cx="77.7" cy="123.0" r="0.5"/><circle cx="75.3" cy="111.9" r="0.5"/><circle cx="73.9" cy="110.9" r="0.5"/><circle cx="74.7" cy="107.8" r="0.5"/><circle cx="77.6" cy="120.9" r="0.5"/><circle cx="76.0" cy="120.2" r="0.5"/><circle cx="77.2" cy="121.9" r="0.5"/><circle cx="74.0" cy="117.6" r="0.5"/><circle cx="72.5" cy="118.9" r="0.5"/><circle cx="77.6" cy="105.0" r="0.5"/><circle cx="76.3" cy="97.1" r="0.5"/><circle cx="72.0" cy="127.7" r="0.5"/><circle cx="74.9" cy="127.9" r="0.5"/><circle cx="75.8" cy="122.5" r="0.5"/><circle cx="77.7" cy="99.6" r="0.5"/><circle cx="75.3" cy="122.3" r="0.5"/><circle cx="72.7" cy="108.2" r="0.5"/><circle cx="71.7" cy="104.9" r="0.5"/><circle cx="75.8" cy="125.5" r="0.5"/><circle cx="77.2" cy="124.0" r="0.5"/><circle cx="73.6" cy="109.9" r="0.5"/><circle cx="77.0" cy="106.4" r="0.5"/><circle cx="75.3" cy="101.2" r="0.5"/><circle cx="79.6" cy="105.3" r="0.5"/><circle cx="73.3" cy="106.9" r="0.5"/><circle cx="77.5" cy="124.1" r="0.5"/><circle cx="73.9" cy="102.3" r="0.5"/><circle cx="74.6" cy="121.5" r="0.5"/><circle cx="76.4" cy="125.8" r="0.5"/><circle cx="72.9" cy="110.5" r="0.5"/><circle cx="77.4" cy="104.4" r="0.5"/><circle cx="73.7" cy="96.7" r="0.5"/><circle cx="77.0" cy="96.4" r="0.5"/><circle cx="75.7" cy="108.3" r="0.5"/><circle cx="73.3" cy="118.4" r="0.5"/><circle cx="75.7" cy="116.6" r="0.5"/><circle cx="76.0" cy="118.3" r="0.5"/><circle cx="75.1" cy="116.2" r="0.5"/><circle cx="77.0" cy="124.2" r="0.5"/><circle cx="75.8" cy="126.0" r="0.5"/><circle cx="78.7" cy="115.0" r="0.5"/><circle cx="77.6" cy="106.6" r="0.5"/><circle cx="76.0" cy="117.3" r="0.5"/><circle cx="74.3" cy="115.9" r="0.5"/><circle cx="75.4" cy="103.0" r="0.5"/><circle cx="73.5" cy="106.3" r="0.5"/><circle cx="76.6" cy="125.8" r="0.5"/><circle cx="77.3" cy="99.8" r="0.5"/><circle cx="75.3" cy="124.3" r="0.5"/><circle cx="73.5" cy="104.0" r="0.5"/><circle cx="74.3" cy="97.3" r="0.5"/><circle cx="76.2" cy="122.3" r="0.5"/><circle cx="73.7" cy="121.6" r="0.5"/><circle cx="76.3" cy="111.8" r="0.5"/><circle cx="75.4" cy="108.6" r="0.5"/><circle cx="72.6" cy="103.5" r="0.5"/><circle cx="72.6" cy="123.8" r="0.5"/><circle cx="72.2" cy="114.1" r="0.5"/><circle cx="78.3" cy="99.5" r="0.5"/><circle cx="75.5" cy="104.6" r="0.5"/><circle cx="72.9" cy="128.8" r="0.5"/><circle cx="73.9" cy="99.0" r="0.5"/><circle cx="75.9" cy="96.1" r="0.5"/><circle cx="77.4" cy="99.1" r="0.5"/><circle cx="76.7" cy="110.3" r="0.5"/><circle cx="74.6" cy="112.8" r="0.5"/><circle cx="79.1" cy="113.0" r="0.5"/><circle cx="76.9" cy="128.4" r="0.5"/><circle cx="78.0" cy="112.3" r="0.5"/><circle cx="76.6" cy="108.3" r="0.5"/><circle cx="74.2" cy="125.0" r="0.5"/><circle cx="73.8" cy="107.8" r="0.5"/><circle cx="78.3" cy="114.6" r="0.5"/><circle cx="80.7" cy="105.4" r="0.5"/><circle cx="78.5" cy="108.2" r="0.5"/><circle cx="73.9" cy="99.8" r="0.5"/><circle cx="73.0" cy="106.8" r="0.5"/><circle cx="76.7" cy="106.8" r="0.5"/><circle cx="73.7" cy="109.8" r="0.5"/><circle cx="73.9" cy="127.6" r="0.5"/><circle cx="77.4" cy="101.3" r="0.5"/><circle cx="74.2" cy="117.9" r="0.5"/><circle cx="73.3" cy="109.4" r="0.5"/><circle cx="76.2" cy="103.7" r="0.5"/><circle cx="72.9" cy="123.5" r="0.5"/><circle cx="75.4" cy="108.4" r="0.5"/><circle cx="74.9" cy="103.3" r="0.5"/><circle cx="74.0" cy="127.7" r="0.5"/><circle cx="72.2" cy="112.4" r="0.5"/><circle cx="76.0" cy="111.6" r="0.5"/><circle cx="76.9" cy="117.3" r="0.5"/><circle cx="75.3" cy="118.9" r="0.5"/><circle cx="78.9" cy="100.5" r="0.5"/><circle cx="76.9" cy="116.2" r="0.5"/><circle cx="78.0" cy="106.4" r="0.5"/><circle cx="77.3" cy="114.2" r="0.5"/><circle cx="77.6" cy="116.3" r="0.5"/><circle cx="74.2" cy="100.4" r="0.5"/><circle cx="78.9" cy="114.0" r="0.5"/><circle cx="76.1" cy="116.4" r="0.5"/><circle cx="72.4" cy="103.3" r="0.5"/><circle cx="77.0" cy="110.6" r="0.5"/><circle cx="72.8" cy="120.9" r="0.5"/><circle cx="69.5" cy="108.0" r="0.5"/><circle cx="77.5" cy="123.1" r="0.5"/><circle cx="78.1" cy="117.5" r="0.5"/><circle cx="77.5" cy="97.1" r="0.5"/><circle cx="79.3" cy="126.8" r="0.5"/><circle cx="74.8" cy="104.8" r="0.5"/><circle cx="77.5" cy="123.9" r="0.5"/><circle cx="79.5" cy="113.2" r="0.5"/><circle cx="77.5" cy="96.5" r="0.5"/><circle cx="73.9" cy="123.4" r="0.5"/><circle cx="70.8" cy="118.7" r="0.5"/><circle cx="74.5" cy="102.7" r="0.5"/><circle cx="75.2" cy="125.7" r="0.5"/><circle cx="76.0" cy="107.1" r="0.5"/><circle cx="78.5" cy="98.2" r="0.5"/><circle cx="77.0" cy="100.0" r="0.5"/><circle cx="75.0" cy="101.3" r="0.5"/><circle cx="77.4" cy="126.4" r="0.5"/><circle cx="80.5" cy="125.9" r="0.5"/><circle cx="70.2" cy="110.5" r="0.5"/><circle cx="74.4" cy="122.3" r="0.5"/><circle cx="80.9" cy="122.8" r="0.5"/><circle cx="75.6" cy="120.2" r="0.5"/><circle cx="76.5" cy="126.5" r="0.5"/></g>
<g fill="#c85068" fill-opacity="0.42"><circle cx="71.6" cy="104.2" r="0.45"/><circle cx="72.1" cy="98.8" r="0.45"/><circle cx="71.2" cy="106.7" r="0.45"/><circle cx="75.6" cy="102.8" r="0.45"/><circle cx="76.4" cy="99.5" r="0.45"/><circle cx="74.3" cy="107.6" r="0.45"/><circle cx="74.8" cy="109.6" r="0.45"/><circle cx="78.0" cy="102.0" r="0.45"/><circle cx="75.9" cy="99.9" r="0.45"/><circle cx="79.9" cy="101.7" r="0.45"/><circle cx="74.3" cy="103.6" r="0.45"/><circle cx="74.8" cy="107.8" r="0.45"/><circle cx="76.2" cy="107.6" r="0.45"/><circle cx="73.4" cy="99.7" r="0.45"/><circle cx="74.5" cy="101.4" r="0.45"/><circle cx="71.7" cy="102.1" r="0.45"/><circle cx="77.5" cy="103.8" r="0.45"/><circle cx="78.7" cy="103.1" r="0.45"/><circle cx="75.1" cy="103.6" r="0.45"/><circle cx="73.4" cy="107.2" r="0.45"/><circle cx="75.2" cy="101.5" r="0.45"/><circle cx="73.9" cy="100.5" r="0.45"/><circle cx="72.8" cy="105.6" r="0.45"/><circle cx="75.0" cy="104.6" r="0.45"/><circle cx="74.7" cy="99.8" r="0.45"/><circle cx="74.8" cy="108.8" r="0.45"/><circle cx="76.1" cy="100.2" r="0.45"/><circle cx="72.5" cy="105.0" r="0.45"/><circle cx="77.4" cy="105.4" r="0.45"/><circle cx="77.4" cy="100.7" r="0.45"/><circle cx="75.5" cy="110.4" r="0.45"/><circle cx="71.7" cy="109.2" r="0.45"/><circle cx="72.4" cy="102.6" r="0.45"/><circle cx="70.2" cy="99.4" r="0.45"/><circle cx="72.7" cy="98.1" r="0.45"/><circle cx="76.1" cy="98.9" r="0.45"/><circle cx="76.2" cy="99.8" r="0.45"/><circle cx="73.3" cy="98.9" r="0.45"/><circle cx="73.6" cy="99.4" r="0.45"/><circle cx="74.2" cy="103.1" r="0.45"/><circle cx="72.5" cy="104.0" r="0.45"/><circle cx="75.7" cy="109.7" r="0.45"/><circle cx="76.1" cy="96.0" r="0.45"/><circle cx="74.2" cy="96.7" r="0.45"/><circle cx="72.4" cy="108.1" r="0.45"/><circle cx="73.7" cy="99.8" r="0.45"/><circle cx="73.6" cy="108.4" r="0.45"/><circle cx="78.0" cy="99.9" r="0.45"/><circle cx="73.6" cy="104.6" r="0.45"/><circle cx="73.2" cy="103.2" r="0.45"/><circle cx="72.8" cy="97.4" r="0.45"/><circle cx="72.3" cy="99.0" r="0.45"/><circle cx="74.7" cy="104.2" r="0.45"/><circle cx="73.8" cy="109.7" r="0.45"/><circle cx="76.3" cy="110.6" r="0.45"/><circle cx="75.3" cy="97.8" r="0.45"/><circle cx="76.9" cy="100.2" r="0.45"/><circle cx="76.1" cy="100.2" r="0.45"/><circle cx="72.8" cy="100.8" r="0.45"/><circle cx="75.3" cy="108.5" r="0.45"/><circle cx="75.9" cy="107.2" r="0.45"/><circle cx="75.8" cy="95.5" r="0.45"/><circle cx="77.3" cy="101.2" r="0.45"/><circle cx="76.8" cy="108.4" r="0.45"/><circle cx="74.9" cy="116.7" r="0.45"/><circle cx="75.4" cy="107.9" r="0.45"/><circle cx="76.7" cy="102.2" r="0.45"/><circle cx="73.9" cy="100.9" r="0.45"/><circle cx="77.2" cy="97.6" r="0.45"/><circle cx="74.0" cy="102.6" r="0.45"/><circle cx="75.3" cy="102.6" r="0.45"/><circle cx="70.9" cy="103.1" r="0.45"/><circle cx="71.1" cy="99.3" r="0.45"/><circle cx="77.3" cy="102.2" r="0.45"/><circle cx="72.6" cy="106.0" r="0.45"/><circle cx="73.9" cy="104.6" r="0.45"/><circle cx="70.9" cy="100.1" r="0.45"/><circle cx="73.3" cy="97.7" r="0.45"/><circle cx="79.1" cy="101.7" r="0.45"/><circle cx="70.8" cy="95.8" r="0.45"/><circle cx="72.1" cy="105.4" r="0.45"/><circle cx="71.8" cy="103.0" r="0.45"/><circle cx="73.8" cy="98.6" r="0.45"/><circle cx="78.0" cy="107.3" r="0.45"/><circle cx="72.9" cy="99.6" r="0.45"/><circle cx="72.4" cy="106.0" r="0.45"/><circle cx="73.1" cy="96.2" r="0.45"/><circle cx="75.5" cy="104.9" r="0.45"/><circle cx="77.0" cy="101.2" r="0.45"/><circle cx="77.1" cy="100.6" r="0.45"/><circle cx="73.9" cy="108.6" r="0.45"/><circle cx="77.3" cy="109.0" r="0.45"/><circle cx="74.7" cy="98.4" r="0.45"/><circle cx="74.0" cy="112.8" r="0.45"/><circle cx="74.5" cy="96.3" r="0.45"/><circle cx="72.8" cy="99.3" r="0.45"/><circle cx="72.6" cy="102.0" r="0.45"/><circle cx="74.8" cy="98.5" r="0.45"/><circle cx="73.1" cy="103.8" r="0.45"/><circle cx="80.0" cy="101.8" r="0.45"/><circle cx="75.6" cy="102.5" r="0.45"/><circle cx="80.3" cy="101.1" r="0.45"/><circle cx="75.8" cy="105.8" r="0.45"/><circle cx="73.0" cy="107.8" r="0.45"/><circle cx="75.3" cy="100.5" r="0.45"/><circle cx="75.2" cy="102.7" r="0.45"/><circle cx="75.5" cy="110.7" r="0.45"/><circle cx="77.0" cy="108.0" r="0.45"/><circle cx="76.3" cy="100.5" r="0.45"/><circle cx="76.9" cy="102.4" r="0.45"/><circle cx="76.0" cy="112.9" r="0.45"/><circle cx="73.9" cy="104.4" r="0.45"/><circle cx="77.0" cy="102.3" r="0.45"/><circle cx="75.3" cy="112.0" r="0.45"/><circle cx="72.0" cy="100.8" r="0.45"/><circle cx="73.1" cy="97.4" r="0.45"/><circle cx="76.2" cy="112.3" r="0.45"/><circle cx="75.9" cy="107.0" r="0.45"/><circle cx="74.0" cy="96.1" r="0.45"/><circle cx="75.6" cy="103.1" r="0.45"/><circle cx="75.7" cy="95.9" r="0.45"/><circle cx="76.0" cy="97.7" r="0.45"/><circle cx="75.7" cy="97.9" r="0.45"/><circle cx="77.2" cy="98.7" r="0.45"/><circle cx="73.4" cy="109.3" r="0.45"/><circle cx="75.6" cy="100.1" r="0.45"/><circle cx="78.1" cy="109.8" r="0.45"/><circle cx="75.8" cy="98.1" r="0.45"/><circle cx="72.4" cy="113.2" r="0.45"/><circle cx="76.3" cy="110.4" r="0.45"/><circle cx="77.8" cy="98.1" r="0.45"/><circle cx="76.1" cy="104.8" r="0.45"/><circle cx="74.4" cy="107.1" r="0.45"/><circle cx="77.2" cy="99.4" r="0.45"/><circle cx="74.2" cy="102.6" r="0.45"/><circle cx="77.5" cy="100.8" r="0.45"/><circle cx="74.2" cy="100.5" r="0.45"/><circle cx="74.1" cy="108.8" r="0.45"/><circle cx="74.9" cy="103.4" r="0.45"/><circle cx="75.8" cy="103.6" r="0.45"/><circle cx="74.4" cy="103.5" r="0.45"/><circle cx="72.8" cy="102.2" r="0.45"/><circle cx="73.9" cy="111.3" r="0.45"/><circle cx="80.6" cy="111.3" r="0.45"/><circle cx="76.3" cy="116.0" r="0.45"/><circle cx="74.2" cy="109.1" r="0.45"/><circle cx="76.9" cy="105.2" r="0.45"/><circle cx="81.8" cy="105.8" r="0.45"/><circle cx="74.0" cy="109.0" r="0.45"/><circle cx="74.5" cy="110.4" r="0.45"/><circle cx="74.6" cy="99.3" r="0.45"/><circle cx="77.7" cy="99.5" r="0.45"/><circle cx="74.6" cy="102.9" r="0.45"/><circle cx="73.9" cy="106.0" r="0.45"/><circle cx="71.8" cy="98.2" r="0.45"/><circle cx="75.3" cy="106.5" r="0.45"/><circle cx="76.7" cy="96.9" r="0.45"/><circle cx="79.8" cy="102.0" r="0.45"/><circle cx="72.5" cy="102.4" r="0.45"/><circle cx="77.1" cy="107.5" r="0.45"/><circle cx="72.6" cy="105.8" r="0.45"/><circle cx="76.4" cy="103.7" r="0.45"/><circle cx="80.0" cy="99.4" r="0.45"/><circle cx="73.1" cy="108.3" r="0.45"/><circle cx="70.9" cy="116.2" r="0.45"/><circle cx="75.7" cy="100.1" r="0.45"/><circle cx="73.7" cy="107.6" r="0.45"/><circle cx="70.0" cy="109.6" r="0.45"/><circle cx="74.4" cy="110.9" r="0.45"/><circle cx="78.5" cy="103.1" r="0.45"/><circle cx="72.3" cy="100.9" r="0.45"/><circle cx="77.6" cy="109.8" r="0.45"/><circle cx="74.2" cy="109.9" r="0.45"/><circle cx="73.7" cy="99.0" r="0.45"/><circle cx="75.2" cy="104.5" r="0.45"/><circle cx="76.6" cy="98.1" r="0.45"/><circle cx="74.5" cy="99.0" r="0.45"/><circle cx="73.3" cy="110.0" r="0.45"/><circle cx="75.8" cy="101.2" r="0.45"/><circle cx="73.3" cy="100.4" r="0.45"/><circle cx="77.0" cy="102.0" r="0.45"/><circle cx="75.0" cy="101.8" r="0.45"/><circle cx="76.1" cy="95.8" r="0.45"/><circle cx="73.2" cy="94.7" r="0.45"/><circle cx="75.0" cy="113.9" r="0.45"/><circle cx="76.4" cy="96.3" r="0.45"/><circle cx="74.1" cy="98.1" r="0.45"/><circle cx="72.1" cy="103.5" r="0.45"/><circle cx="73.5" cy="100.1" r="0.45"/><circle cx="80.2" cy="101.7" r="0.45"/><circle cx="75.6" cy="115.9" r="0.45"/><circle cx="74.1" cy="110.0" r="0.45"/><circle cx="73.9" cy="96.1" r="0.45"/><circle cx="71.1" cy="106.7" r="0.45"/><circle cx="75.3" cy="104.2" r="0.45"/><circle cx="73.7" cy="104.0" r="0.45"/><circle cx="73.7" cy="100.4" r="0.45"/><circle cx="75.6" cy="106.9" r="0.45"/><circle cx="75.3" cy="104.6" r="0.45"/><circle cx="71.9" cy="105.0" r="0.45"/><circle cx="75.8" cy="112.3" r="0.45"/><circle cx="72.3" cy="101.1" r="0.45"/><circle cx="74.1" cy="112.5" r="0.45"/><circle cx="75.5" cy="101.2" r="0.45"/><circle cx="77.5" cy="106.9" r="0.45"/><circle cx="73.5" cy="106.1" r="0.45"/><circle cx="75.2" cy="112.9" r="0.45"/><circle cx="72.6" cy="102.9" r="0.45"/><circle cx="74.4" cy="107.9" r="0.45"/><circle cx="75.7" cy="105.3" r="0.45"/><circle cx="74.8" cy="109.0" r="0.45"/><circle cx="78.0" cy="111.3" r="0.45"/><circle cx="76.4" cy="98.6" r="0.45"/><circle cx="76.6" cy="101.2" r="0.45"/><circle cx="77.1" cy="113.4" r="0.45"/><circle cx="74.8" cy="108.6" r="0.45"/><circle cx="77.4" cy="105.5" r="0.45"/><circle cx="79.8" cy="99.2" r="0.45"/><circle cx="74.4" cy="97.6" r="0.45"/><circle cx="74.9" cy="103.2" r="0.45"/><circle cx="76.9" cy="102.2" r="0.45"/><circle cx="74.2" cy="110.0" r="0.45"/><circle cx="73.5" cy="108.3" r="0.45"/><circle cx="74.0" cy="100.9" r="0.45"/><circle cx="72.4" cy="103.3" r="0.45"/><circle cx="76.7" cy="103.5" r="0.45"/><circle cx="69.3" cy="101.1" r="0.45"/><circle cx="70.4" cy="99.6" r="0.45"/><circle cx="75.7" cy="101.2" r="0.45"/><circle cx="74.9" cy="97.2" r="0.45"/><circle cx="76.5" cy="102.4" r="0.45"/><circle cx="72.0" cy="114.2" r="0.45"/><circle cx="72.4" cy="109.7" r="0.45"/><circle cx="73.4" cy="95.8" r="0.45"/><circle cx="74.6" cy="101.9" r="0.45"/><circle cx="77.7" cy="97.4" r="0.45"/><circle cx="73.1" cy="104.1" r="0.45"/><circle cx="76.5" cy="102.1" r="0.45"/><circle cx="74.4" cy="98.1" r="0.45"/><circle cx="71.1" cy="105.0" r="0.45"/><circle cx="71.3" cy="98.4" r="0.45"/><circle cx="72.3" cy="115.6" r="0.45"/><circle cx="78.9" cy="107.9" r="0.45"/><circle cx="76.0" cy="106.1" r="0.45"/><circle cx="78.2" cy="100.5" r="0.45"/><circle cx="72.9" cy="111.3" r="0.45"/><circle cx="73.0" cy="100.2" r="0.45"/><circle cx="73.8" cy="100.7" r="0.45"/><circle cx="73.4" cy="108.0" r="0.45"/><circle cx="73.5" cy="104.1" r="0.45"/><circle cx="70.6" cy="112.5" r="0.45"/><circle cx="72.9" cy="104.5" r="0.45"/><circle cx="77.1" cy="116.2" r="0.45"/><circle cx="75.2" cy="104.2" r="0.45"/><circle cx="77.7" cy="107.3" r="0.45"/><circle cx="74.2" cy="103.1" r="0.45"/><circle cx="71.6" cy="105.6" r="0.45"/><circle cx="74.1" cy="113.3" r="0.45"/><circle cx="73.0" cy="95.8" r="0.45"/><circle cx="78.7" cy="97.3" r="0.45"/><circle cx="77.8" cy="108.6" r="0.45"/><circle cx="75.4" cy="108.8" r="0.45"/><circle cx="73.7" cy="100.0" r="0.45"/><circle cx="75.8" cy="106.8" r="0.45"/><circle cx="73.3" cy="103.9" r="0.45"/><circle cx="73.7" cy="104.8" r="0.45"/><circle cx="75.7" cy="113.6" r="0.45"/><circle cx="69.7" cy="100.2" r="0.45"/><circle cx="73.3" cy="103.7" r="0.45"/><circle cx="76.1" cy="108.9" r="0.45"/><circle cx="71.4" cy="99.3" r="0.45"/><circle cx="73.5" cy="112.8" r="0.45"/><circle cx="74.5" cy="96.1" r="0.45"/><circle cx="77.2" cy="112.8" r="0.45"/><circle cx="75.9" cy="99.1" r="0.45"/><circle cx="73.0" cy="104.2" r="0.45"/><circle cx="76.5" cy="112.5" r="0.45"/><circle cx="75.5" cy="99.0" r="0.45"/><circle cx="73.7" cy="98.7" r="0.45"/><circle cx="77.9" cy="104.7" r="0.45"/><circle cx="75.6" cy="98.5" r="0.45"/><circle cx="72.4" cy="98.8" r="0.45"/><circle cx="75.4" cy="109.3" r="0.45"/><circle cx="73.5" cy="112.9" r="0.45"/><circle cx="74.8" cy="109.0" r="0.45"/><circle cx="74.9" cy="110.5" r="0.45"/><circle cx="77.7" cy="109.4" r="0.45"/><circle cx="76.9" cy="108.2" r="0.45"/><circle cx="77.8" cy="105.6" r="0.45"/><circle cx="69.5" cy="101.1" r="0.45"/><circle cx="76.4" cy="109.6" r="0.45"/><circle cx="73.9" cy="106.4" r="0.45"/><circle cx="76.4" cy="106.4" r="0.45"/><circle cx="72.6" cy="100.5" r="0.45"/><circle cx="73.7" cy="100.2" r="0.45"/><circle cx="74.5" cy="110.3" r="0.45"/><circle cx="75.0" cy="111.2" r="0.45"/><circle cx="78.0" cy="106.2" r="0.45"/><circle cx="75.4" cy="98.5" r="0.45"/><circle cx="71.3" cy="100.9" r="0.45"/><circle cx="74.1" cy="98.1" r="0.45"/><circle cx="78.3" cy="103.0" r="0.45"/><circle cx="75.3" cy="109.2" r="0.45"/><circle cx="75.6" cy="101.4" r="0.45"/><circle cx="75.2" cy="110.9" r="0.45"/><circle cx="75.5" cy="107.8" r="0.45"/><circle cx="74.4" cy="97.9" r="0.45"/><circle cx="74.0" cy="100.2" r="0.45"/><circle cx="76.3" cy="106.1" r="0.45"/><circle cx="73.3" cy="102.7" r="0.45"/><circle cx="74.0" cy="96.5" r="0.45"/><circle cx="76.1" cy="108.5" r="0.45"/><circle cx="75.4" cy="107.0" r="0.45"/><circle cx="72.3" cy="106.7" r="0.45"/><circle cx="73.5" cy="98.6" r="0.45"/><circle cx="76.0" cy="100.6" r="0.45"/><circle cx="75.2" cy="107.5" r="0.45"/><circle cx="76.6" cy="100.6" r="0.45"/><circle cx="73.3" cy="110.4" r="0.45"/><circle cx="73.0" cy="101.8" r="0.45"/></g>
<rect x="58.5" y="89.0" width="27.099999999999994" height="31.599999999999994" fill="none" stroke="#707070" stroke-width="0.7"/>
<rect x="67.45" y="88.2" width="9.2" height="1.6" fill="#fff"/>
<text x="72.05" y="92.50" font-size="4.7" text-anchor="middle" fill="#333" stroke="#333" stroke-width="0.12">82.6</text>
<rect x="98.6" y="8.1" width="9.8" height="15.799999999999999" fill="#fff" stroke="#bbb" stroke-width="0.6"/>
<rect x="99.6" y="9.1" width="7.8" height="6.300000000000001" fill="#fff" stroke="#ccc" stroke-width="0.5"/>
<rect x="99.6" y="16.6" width="7.8" height="6.299999999999999" fill="#fff" stroke="#ccc" stroke-width="0.5"/>
<rect x="100.5" y="10.3" width="6" height="3.9000000000000004" fill="#999"/>
<rect x="100.5" y="17.8" width="6" height="3.8999999999999986" fill="#000"/>
<text x="109.60" y="14.60" font-size="8.1" text-anchor="start" fill="#111" stroke="#111" stroke-width="0.2">D0</text>
<text x="109.60" y="23.40" font-size="8.1" text-anchor="start" fill="#111" stroke="#111" stroke-width="0.2">D3</text>
<rect x="98.6" y="85.3" width="9.8" height="15.200000000000003" fill="#fff" stroke="#bbb" stroke-width="0.6"/>
<rect x="99.6" y="86.3" width="7.8" height="6.000000000000009" fill="#fff" stroke="#ccc" stroke-width="0.5"/>
<rect x="99.6" y="93.5" width="7.8" height="5.999999999999995" fill="#fff" stroke="#ccc" stroke-width="0.5"/>
<rect x="100.5" y="87.5" width="6" height="3.6000000000000085" fill="#8a8a8a"/>
<rect x="100.5" y="94.7" width="6" height="3.5999999999999943" fill="#a01830"/>
<text x="109.60" y="92.30" font-size="7.9" text-anchor="start" fill="#111" stroke="#111" stroke-width="0.2">D0</text>
<text x="109.60" y="98.90" font-size="7.9" text-anchor="start" fill="#111" stroke="#111" stroke-width="0.2">D3</text>
<line x1="18.8" y1="99" x2="18.8" y2="169" stroke="#888" stroke-width="1.6"/>
<line x1="11.5" y1="162.7" x2="82.7" y2="162.7" stroke="#888" stroke-width="1.6"/>
<text transform="translate(17.20,110.50) rotate(-90)" x="0" y="0" font-size="8.6" text-anchor="middle" fill="#111" stroke="#111" stroke-width="0.2">APOE</text>
<text x="65.00" y="173.50" font-size="9.0" text-anchor="middle" fill="#111" stroke="#111" stroke-width="0.2">CD14</text>
<line x1="157.50" y1="34.60" x2="157.50" y2="132.70" stroke="#6e6e6e" stroke-width="0.9"/>
<line x1="157.10" y1="132.30" x2="240.50" y2="132.30" stroke="#6e6e6e" stroke-width="0.9"/>
<line x1="154.50" y1="35.04" x2="157.50" y2="35.04" stroke="#6e6e6e" stroke-width="0.8"/>
<text x="152.90" y="38.14" font-size="8.6" text-anchor="end" fill="#1a1a1a" stroke="#1a1a1a" stroke-width="0.2" letter-spacing="-0.12">100</text>
<line x1="154.50" y1="52.75" x2="157.50" y2="52.75" stroke="#6e6e6e" stroke-width="0.8"/>
<text x="152.90" y="55.85" font-size="8.6" text-anchor="end" fill="#1a1a1a" stroke="#1a1a1a" stroke-width="0.2" letter-spacing="-0.12">80</text>
<line x1="154.50" y1="70.46" x2="157.50" y2="70.46" stroke="#6e6e6e" stroke-width="0.8"/>
<text x="152.90" y="73.56" font-size="8.6" text-anchor="end" fill="#1a1a1a" stroke="#1a1a1a" stroke-width="0.2" letter-spacing="-0.12">60</text>
<line x1="154.50" y1="88.18" x2="157.50" y2="88.18" stroke="#6e6e6e" stroke-width="0.8"/>
<text x="152.90" y="91.27" font-size="8.6" text-anchor="end" fill="#1a1a1a" stroke="#1a1a1a" stroke-width="0.2" letter-spacing="-0.12">40</text>
<line x1="154.50" y1="105.89" x2="157.50" y2="105.89" stroke="#6e6e6e" stroke-width="0.8"/>
<text x="152.90" y="108.98" font-size="8.6" text-anchor="end" fill="#1a1a1a" stroke="#1a1a1a" stroke-width="0.2" letter-spacing="-0.12">20</text>
<line x1="154.50" y1="123.60" x2="157.50" y2="123.60" stroke="#6e6e6e" stroke-width="0.8"/>
<text x="152.90" y="126.70" font-size="8.6" text-anchor="end" fill="#1a1a1a" stroke="#1a1a1a" stroke-width="0.2" letter-spacing="-0.12">0</text>
<line x1="170.10" y1="132.30" x2="170.10" y2="135.30" stroke="#6e6e6e" stroke-width="0.8"/>
<text transform="translate(173.20,136.80) rotate(-90)" x="0" y="0" font-size="8.6" text-anchor="end" fill="#222" stroke="#222" stroke-width="0.2">D0</text>
<line x1="189.30" y1="132.30" x2="189.30" y2="135.30" stroke="#6e6e6e" stroke-width="0.8"/>
<text transform="translate(192.40,136.80) rotate(-90)" x="0" y="0" font-size="8.6" text-anchor="end" fill="#222" stroke="#222" stroke-width="0.2">D3</text>
<line x1="208.60" y1="132.30" x2="208.60" y2="135.30" stroke="#6e6e6e" stroke-width="0.8"/>
<text transform="translate(211.70,136.80) rotate(-90)" x="0" y="0" font-size="8.6" text-anchor="end" fill="#222" stroke="#222" stroke-width="0.2">D0</text>
<line x1="227.90" y1="132.30" x2="227.90" y2="135.30" stroke="#6e6e6e" stroke-width="0.8"/>
<text transform="translate(231.00,136.80) rotate(-90)" x="0" y="0" font-size="8.6" text-anchor="end" fill="#222" stroke="#222" stroke-width="0.2">D3</text>
<text transform="translate(137.80,82.30) rotate(-90)" x="0" y="0" font-size="8.7" text-anchor="middle" fill="#111" stroke="#111" stroke-width="0.2">%APOE<tspan font-size="6.8" dy="-2.5">+</tspan><tspan dy="2.5">/CD14</tspan><tspan font-size="6.8" dy="-2.5">+</tspan></text>
<line x1="170.10" y1="123.60" x2="189.30" y2="92.40" stroke="#222" stroke-width="1.1"/>
<line x1="170.10" y1="123.60" x2="189.30" y2="95.50" stroke="#222" stroke-width="1.1"/>
<line x1="170.10" y1="123.60" x2="189.30" y2="110.70" stroke="#888" stroke-width="0.8"/>
<line x1="208.60" y1="123.60" x2="227.90" y2="44.20" stroke="#aaa" stroke-width="0.6"/>
<line x1="208.60" y1="123.60" x2="227.90" y2="50.80" stroke="#aaa" stroke-width="0.6"/>
<line x1="208.60" y1="123.60" x2="227.90" y2="61.10" stroke="#aaa" stroke-width="0.6"/>
<line x1="208.60" y1="123.60" x2="227.90" y2="69.60" stroke="#aaa" stroke-width="0.6"/>
<circle cx="170.10" cy="123.60" r="2.35" fill="#000"/>
<circle cx="208.60" cy="123.60" r="2.35" fill="#000"/>
<circle cx="189.30" cy="92.40" r="2.35" fill="#000"/>
<circle cx="189.30" cy="95.50" r="2.35" fill="#000"/>
<circle cx="189.30" cy="110.70" r="2.35" fill="#000"/>
<circle cx="227.90" cy="44.20" r="1.95" fill="#9a2c44" stroke="#2e0812" stroke-width="1.1"/>
<circle cx="227.90" cy="50.80" r="1.95" fill="#9a2c44" stroke="#2e0812" stroke-width="1.1"/>
<circle cx="227.90" cy="61.10" r="1.95" fill="#9a2c44" stroke="#2e0812" stroke-width="1.1"/>
<circle cx="227.90" cy="69.60" r="1.95" fill="#9a2c44" stroke="#2e0812" stroke-width="1.1"/>
<text x="189.50" y="89.20" font-size="9.8" text-anchor="middle" fill="#111" stroke="#111" stroke-width="0.2" font-weight="bold">**</text>
<text x="228.00" y="41.80" font-size="9.8" text-anchor="middle" fill="#111" stroke="#111" stroke-width="0.2" font-weight="bold">**</text>
<text x="205.90" y="28.70" font-size="9.8" text-anchor="middle" fill="#111" stroke="#111" stroke-width="0.2" font-weight="bold">**</text>
<path d="M186.40,31.80 V28.90 H228.20 V31.80" fill="none" stroke="#777" stroke-width="0.8"/>
<line x1="158.60" y1="13.70" x2="166.20" y2="13.70" stroke="#000" stroke-width="0.7"/>
<circle cx="162.5" cy="13.7" r="2.3" fill="#000"/>
<line x1="158.60" y1="23.30" x2="166.20" y2="23.30" stroke="#1a0a0c" stroke-width="0.7"/>
<circle cx="162.6" cy="23.3" r="1.85" fill="#9a3448" stroke="#2e0812" stroke-width="1.0"/>
<text x="171.60" y="16.70" font-size="7.0" text-anchor="start" fill="#111" stroke="#111" stroke-width="0.2">HD</text>
<text x="171.60" y="26.40" font-size="7.0" text-anchor="start" fill="#111" stroke="#111" stroke-width="0.2">TNBC</text>
<line x1="288.10" y1="35.00" x2="288.10" y2="134.90" stroke="#6e6e6e" stroke-width="0.9"/>
<line x1="287.70" y1="134.50" x2="374.60" y2="134.50" stroke="#6e6e6e" stroke-width="0.9"/>
<line x1="285.10" y1="35.40" x2="288.10" y2="35.40" stroke="#6e6e6e" stroke-width="0.8"/>
<text x="284.60" y="38.50" font-size="8.6" text-anchor="end" fill="#1a1a1a" stroke="#1a1a1a" stroke-width="0.2" letter-spacing="-0.12">2,500</text>
<line x1="285.10" y1="55.22" x2="288.10" y2="55.22" stroke="#6e6e6e" stroke-width="0.8"/>
<text x="284.60" y="58.32" font-size="8.6" text-anchor="end" fill="#1a1a1a" stroke="#1a1a1a" stroke-width="0.2" letter-spacing="-0.12">2,000</text>
<line x1="285.10" y1="75.04" x2="288.10" y2="75.04" stroke="#6e6e6e" stroke-width="0.8"/>
<text x="284.60" y="78.14" font-size="8.6" text-anchor="end" fill="#1a1a1a" stroke="#1a1a1a" stroke-width="0.2" letter-spacing="-0.12">1,500</text>
<line x1="285.10" y1="94.86" x2="288.10" y2="94.86" stroke="#6e6e6e" stroke-width="0.8"/>
<text x="284.60" y="97.96" font-size="8.6" text-anchor="end" fill="#1a1a1a" stroke="#1a1a1a" stroke-width="0.2" letter-spacing="-0.12">1,000</text>
<line x1="285.10" y1="114.68" x2="288.10" y2="114.68" stroke="#6e6e6e" stroke-width="0.8"/>
<text x="284.60" y="117.78" font-size="8.6" text-anchor="end" fill="#1a1a1a" stroke="#1a1a1a" stroke-width="0.2" letter-spacing="-0.12">500</text>
<line x1="285.10" y1="134.50" x2="288.10" y2="134.50" stroke="#6e6e6e" stroke-width="0.8"/>
<text x="284.60" y="137.60" font-size="8.6" text-anchor="end" fill="#1a1a1a" stroke="#1a1a1a" stroke-width="0.2" letter-spacing="-0.12">0</text>
<line x1="301.60" y1="134.50" x2="301.60" y2="137.50" stroke="#6e6e6e" stroke-width="0.8"/>
<text transform="translate(304.70,138.80) rotate(-90)" x="0" y="0" font-size="8.6" text-anchor="end" fill="#222" stroke="#222" stroke-width="0.2">D0</text>
<line x1="321.60" y1="134.50" x2="321.60" y2="137.50" stroke="#6e6e6e" stroke-width="0.8"/>
<text transform="translate(324.70,138.80) rotate(-90)" x="0" y="0" font-size="8.6" text-anchor="end" fill="#222" stroke="#222" stroke-width="0.2">D3</text>
<line x1="341.60" y1="134.50" x2="341.60" y2="137.50" stroke="#6e6e6e" stroke-width="0.8"/>
<text transform="translate(344.70,138.80) rotate(-90)" x="0" y="0" font-size="8.6" text-anchor="end" fill="#222" stroke="#222" stroke-width="0.2">D0</text>
<line x1="361.30" y1="134.50" x2="361.30" y2="137.50" stroke="#6e6e6e" stroke-width="0.8"/>
<text transform="translate(364.40,138.80) rotate(-90)" x="0" y="0" font-size="8.6" text-anchor="end" fill="#222" stroke="#222" stroke-width="0.2">D3</text>
<text transform="translate(257.70,84.20) rotate(-90)" x="0" y="0" font-size="8.7" text-anchor="middle" fill="#111" stroke="#111" stroke-width="0.2">MFI TREM2/CD14<tspan font-size="6.8" dy="-2.5">+</tspan></text>
<line x1="301.60" y1="127.60" x2="321.60" y2="117.20" stroke="#1a1a1a" stroke-width="0.75"/>
<line x1="301.60" y1="129.40" x2="321.60" y2="119.80" stroke="#1a1a1a" stroke-width="0.75"/>
<line x1="301.60" y1="132.60" x2="321.60" y2="121.30" stroke="#1a1a1a" stroke-width="0.75"/>
<line x1="341.60" y1="128.40" x2="361.30" y2="98.40" stroke="#9a9a9a" stroke-width="0.6"/>
<line x1="341.60" y1="130.00" x2="361.30" y2="104.70" stroke="#9a9a9a" stroke-width="0.6"/>
<line x1="341.60" y1="131.60" x2="361.30" y2="107.20" stroke="#9a9a9a" stroke-width="0.6"/>
<line x1="341.60" y1="130.60" x2="361.30" y2="109.90" stroke="#9a9a9a" stroke-width="0.6"/>
<circle cx="301.60" cy="127.60" r="2.35" fill="#000"/>
<circle cx="301.60" cy="129.40" r="2.35" fill="#000"/>
<circle cx="301.60" cy="131.20" r="2.35" fill="#000"/>
<circle cx="301.60" cy="132.60" r="2.35" fill="#000"/>
<circle cx="321.60" cy="117.20" r="2.35" fill="#000"/>
<circle cx="321.60" cy="118.40" r="2.35" fill="#000"/>
<circle cx="321.60" cy="119.80" r="2.35" fill="#000"/>
<circle cx="321.60" cy="121.30" r="2.35" fill="#000"/>
<circle cx="341.60" cy="128.40" r="1.95" fill="#9a2c44" stroke="#2e0812" stroke-width="1.1"/>
<circle cx="341.60" cy="131.60" r="1.95" fill="#9a2c44" stroke="#2e0812" stroke-width="1.1"/>
<circle cx="361.30" cy="98.40" r="1.95" fill="#9a2c44" stroke="#2e0812" stroke-width="1.1"/>
<circle cx="361.30" cy="104.70" r="1.95" fill="#9a2c44" stroke="#2e0812" stroke-width="1.1"/>
<circle cx="361.30" cy="107.20" r="1.95" fill="#9a2c44" stroke="#2e0812" stroke-width="1.1"/>
<circle cx="361.30" cy="109.90" r="1.95" fill="#9a2c44" stroke="#2e0812" stroke-width="1.1"/>
<text x="322.00" y="111.10" font-size="9.8" text-anchor="middle" fill="#111" stroke="#111" stroke-width="0.2" font-weight="bold">**</text>
<text x="361.20" y="96.50" font-size="9.8" text-anchor="middle" fill="#111" stroke="#111" stroke-width="0.2" font-weight="bold">***</text>
<text x="343.00" y="82.20" font-size="9.8" text-anchor="middle" fill="#111" stroke="#111" stroke-width="0.2" font-weight="bold">**</text>
<path d="M321.60,85.10 V81.90 H363.50 V85.10" fill="none" stroke="#777" stroke-width="0.8"/>
<line x1="434.40" y1="36.20" x2="434.40" y2="134.30" stroke="#6e6e6e" stroke-width="0.9"/>
<line x1="434.00" y1="133.90" x2="518.60" y2="133.90" stroke="#6e6e6e" stroke-width="0.9"/>
<line x1="431.40" y1="36.65" x2="434.40" y2="36.65" stroke="#6e6e6e" stroke-width="0.8"/>
<text x="430.70" y="39.75" font-size="8.6" text-anchor="end" fill="#1a1a1a" stroke="#1a1a1a" stroke-width="0.2" letter-spacing="-0.12">50,000</text>
<line x1="431.40" y1="56.10" x2="434.40" y2="56.10" stroke="#6e6e6e" stroke-width="0.8"/>
<text x="430.70" y="59.20" font-size="8.6" text-anchor="end" fill="#1a1a1a" stroke="#1a1a1a" stroke-width="0.2" letter-spacing="-0.12">40,000</text>
<line x1="431.40" y1="75.55" x2="434.40" y2="75.55" stroke="#6e6e6e" stroke-width="0.8"/>
<text x="430.70" y="78.65" font-size="8.6" text-anchor="end" fill="#1a1a1a" stroke="#1a1a1a" stroke-width="0.2" letter-spacing="-0.12">30,000</text>
<line x1="431.40" y1="95.00" x2="434.40" y2="95.00" stroke="#6e6e6e" stroke-width="0.8"/>
<text x="430.70" y="98.10" font-size="8.6" text-anchor="end" fill="#1a1a1a" stroke="#1a1a1a" stroke-width="0.2" letter-spacing="-0.12">20,000</text>
<line x1="431.40" y1="114.45" x2="434.40" y2="114.45" stroke="#6e6e6e" stroke-width="0.8"/>
<text x="430.70" y="117.55" font-size="8.6" text-anchor="end" fill="#1a1a1a" stroke="#1a1a1a" stroke-width="0.2" letter-spacing="-0.12">10,000</text>
<line x1="431.40" y1="133.90" x2="434.40" y2="133.90" stroke="#6e6e6e" stroke-width="0.8"/>
<text x="430.70" y="137.00" font-size="8.6" text-anchor="end" fill="#1a1a1a" stroke="#1a1a1a" stroke-width="0.2" letter-spacing="-0.12">0</text>
<line x1="447.50" y1="133.90" x2="447.50" y2="136.90" stroke="#6e6e6e" stroke-width="0.8"/>
<text transform="translate(450.60,138.30) rotate(-90)" x="0" y="0" font-size="8.6" text-anchor="end" fill="#222" stroke="#222" stroke-width="0.2">D0</text>
<line x1="466.70" y1="133.90" x2="466.70" y2="136.90" stroke="#6e6e6e" stroke-width="0.8"/>
<text transform="translate(469.80,138.30) rotate(-90)" x="0" y="0" font-size="8.6" text-anchor="end" fill="#222" stroke="#222" stroke-width="0.2">D3</text>
<line x1="486.00" y1="133.90" x2="486.00" y2="136.90" stroke="#6e6e6e" stroke-width="0.8"/>
<text transform="translate(489.10,138.30) rotate(-90)" x="0" y="0" font-size="8.6" text-anchor="end" fill="#222" stroke="#222" stroke-width="0.2">D0</text>
<line x1="505.30" y1="133.90" x2="505.30" y2="136.90" stroke="#6e6e6e" stroke-width="0.8"/>
<text transform="translate(508.40,138.30) rotate(-90)" x="0" y="0" font-size="8.6" text-anchor="end" fill="#222" stroke="#222" stroke-width="0.2">D3</text>
<text transform="translate(396.40,80.60) rotate(-90)" x="0" y="0" font-size="8.7" text-anchor="middle" fill="#111" stroke="#111" stroke-width="0.2">MFI Bodipy/CD14<tspan font-size="6.8" dy="-2.5">+</tspan></text>
<line x1="447.50" y1="122.00" x2="466.70" y2="89.00" stroke="#555" stroke-width="0.8"/>
<line x1="447.50" y1="118.80" x2="466.70" y2="111.40" stroke="#222" stroke-width="1.0"/>
<line x1="447.50" y1="125.20" x2="466.70" y2="108.90" stroke="#222" stroke-width="1.0"/>
<line x1="486.00" y1="122.00" x2="505.30" y2="37.60" stroke="#666" stroke-width="0.7"/>
<line x1="486.00" y1="122.00" x2="505.30" y2="57.90" stroke="#222" stroke-width="1.0"/>
<line x1="486.00" y1="122.00" x2="505.30" y2="60.40" stroke="#222" stroke-width="1.0"/>
<circle cx="447.50" cy="118.80" r="2.35" fill="#000"/>
<circle cx="447.50" cy="122.00" r="2.35" fill="#000"/>
<circle cx="447.50" cy="125.20" r="2.35" fill="#000"/>
<circle cx="466.70" cy="89.00" r="2.35" fill="#000"/>
<circle cx="466.70" cy="108.90" r="2.35" fill="#000"/>
<circle cx="466.70" cy="111.40" r="2.35" fill="#000"/>
<circle cx="486.00" cy="122.00" r="1.95" fill="#9a2c44" stroke="#2e0812" stroke-width="1.1"/>
<circle cx="505.30" cy="37.60" r="1.95" fill="#9a2c44" stroke="#2e0812" stroke-width="1.1"/>
<circle cx="505.30" cy="57.90" r="1.95" fill="#9a2c44" stroke="#2e0812" stroke-width="1.1"/>
<circle cx="505.30" cy="60.40" r="1.95" fill="#9a2c44" stroke="#2e0812" stroke-width="1.1"/>
<text x="466.70" y="87.80" font-size="9.8" text-anchor="middle" fill="#111" stroke="#111" stroke-width="0.2" font-weight="bold">*</text>
<text x="505.60" y="37.60" font-size="9.8" text-anchor="middle" fill="#111" stroke="#111" stroke-width="0.2" font-weight="bold">**</text>
<text x="482.90" y="27.00" font-size="9.8" text-anchor="middle" fill="#111" stroke="#111" stroke-width="0.2" font-weight="bold">**</text>
<path d="M463.30,29.80 V26.30 H505.60 V29.80" fill="none" stroke="#777" stroke-width="0.8"/>
<path d="M31.20,215.97H25.40V222.97H31.20M31.20,208.99H22.50V219.47H25.40M31.20,202.00H19.30V214.23H22.50M31.20,257.92H29.50V264.90H31.20M31.20,250.93H28.50V261.41H29.50M31.20,243.94H27.00V256.17H28.50M31.20,236.94H25.40V250.05H27.00M31.20,229.96H19.00V243.50H25.40M19.30,208.11H13.40V236.73H19.00M31.20,285.88H24.70V292.87H31.20M31.20,278.88H21.40V289.37H24.70M31.20,271.89H15.00V284.13H21.40M31.20,299.86H19.70V306.85H31.20M31.20,320.82H28.90V327.81H31.20M28.90,324.32H27.60V334.81H31.20M31.20,313.84H26.40V329.56H27.60M31.20,348.78H28.90V355.77H31.20M31.20,341.80H26.00V352.28H28.90M26.40,321.70H23.30V347.04H26.00M31.20,383.74H29.60V390.73H31.20M31.20,376.75H27.50V387.23H29.60M31.20,369.75H25.00V381.99H27.50M31.20,404.71H27.50V411.69H31.20M31.20,397.72H24.70V408.20H27.50M25.00,375.87H22.00V402.96H24.70M31.20,362.76H19.20V389.41H22.00M23.30,334.37H17.60V376.09H19.20M19.70,303.35H10.10V355.23H17.60M15.00,278.01H10.60V329.29H10.10M13.40,222.42H6.30V303.65H10.60" fill="none" stroke="#8a8a8a" stroke-width="0.75"/>
<path d="M223.50,202.00H218.10V208.99H223.50M223.50,229.96H221.50V236.94H223.50M223.50,243.94H221.50V250.93H223.50M221.50,233.45H220.50V247.43H221.50M223.50,264.90H222.00V271.89H223.50M223.50,257.92H221.00V268.40H222.00M223.50,278.88H221.50V285.88H223.50M223.50,292.87H221.00V299.86H223.50M221.50,282.38H220.00V296.36H221.00M221.00,263.16H219.50V289.37H220.00M220.50,240.44H218.50V276.26H219.50M223.50,222.97H214.60V258.35H218.50M223.50,306.85H218.00V313.84H223.50M223.50,320.82H219.00V327.81H223.50M223.50,341.80H221.00V348.78H223.50M223.50,334.81H219.50V345.29H221.00M219.00,324.32H216.00V340.05H219.50M218.00,310.34H214.60V332.18H216.00M214.60,240.66H210.30V321.26H214.60M223.50,215.97H206.10V280.96H210.30M218.10,205.49H204.40V248.47H206.10M223.50,369.75H220.50V376.75H223.50M223.50,362.76H218.50V373.25H220.50M223.50,355.77H216.00V368.01H218.50M223.50,390.73H218.80V397.72H223.50M223.50,383.74H213.20V394.22H218.80M216.00,361.89H210.30V388.98H213.20M223.50,404.71H207.20V411.69H223.50M210.30,375.43H202.20V408.20H207.20M204.40,226.98H198.30V391.82H202.20" fill="none" stroke="#8a8a8a" stroke-width="0.75"/>
<g><rect x="36.80" y="198.50" width="20.00" height="6.99" fill="#e06446"/><rect x="56.80" y="198.50" width="20.00" height="6.99" fill="#a6c8e3"/><rect x="76.80" y="198.50" width="20.00" height="6.99" fill="#f8d692"/><rect x="96.80" y="198.50" width="20.00" height="6.99" fill="#f9f0c1"/><rect x="116.80" y="198.50" width="20.00" height="6.99" fill="#a6c8e3"/><rect x="136.80" y="198.50" width="20.00" height="6.99" fill="#f9f0c1"/><rect x="36.80" y="205.49" width="20.00" height="6.99" fill="#e06446"/><rect x="56.80" y="205.49" width="20.00" height="6.99" fill="#f8f6d0"/><rect x="76.80" y="205.49" width="20.00" height="6.99" fill="#f8e3a6"/><rect x="96.80" y="205.49" width="20.00" height="6.99" fill="#f9edba"/><rect x="116.80" y="205.49" width="20.00" height="6.99" fill="#edf2e1"/><rect x="136.80" y="205.49" width="20.00" height="6.99" fill="#88afd6"/><rect x="36.80" y="212.48" width="20.00" height="6.99" fill="#e06446"/><rect x="56.80" y="212.48" width="20.00" height="6.99" fill="#f8e6ac"/><rect x="76.80" y="212.48" width="20.00" height="6.99" fill="#f9edba"/><rect x="96.80" y="212.48" width="20.00" height="6.99" fill="#abcae4"/><rect x="116.80" y="212.48" width="20.00" height="6.99" fill="#e4eff0"/><rect x="136.80" y="212.48" width="20.00" height="6.99" fill="#e2eff2"/><rect x="36.80" y="219.47" width="20.00" height="6.99" fill="#e06446"/><rect x="56.80" y="219.47" width="20.00" height="6.99" fill="#f9f6ce"/><rect x="76.80" y="219.47" width="20.00" height="6.99" fill="#f8d692"/><rect x="96.80" y="219.47" width="20.00" height="6.99" fill="#e4eff0"/><rect x="116.80" y="219.47" width="20.00" height="6.99" fill="#eef3df"/><rect x="136.80" y="219.47" width="20.00" height="6.99" fill="#e4eff0"/><rect x="36.80" y="226.46" width="20.00" height="6.99" fill="#f9f3c7"/><rect x="56.80" y="226.46" width="20.00" height="6.99" fill="#f29363"/><rect x="76.80" y="226.46" width="20.00" height="6.99" fill="#f6c082"/><rect x="96.80" y="226.46" width="20.00" height="6.99" fill="#648ec3"/><rect x="116.80" y="226.46" width="20.00" height="6.99" fill="#f9f1c4"/><rect x="136.80" y="226.46" width="20.00" height="6.99" fill="#f9f1c4"/><rect x="36.80" y="233.45" width="20.00" height="6.99" fill="#f3a16c"/><rect x="56.80" y="233.45" width="20.00" height="6.99" fill="#f29363"/><rect x="76.80" y="233.45" width="20.00" height="6.99" fill="#f9f0c1"/><rect x="96.80" y="233.45" width="20.00" height="6.99" fill="#e4eff0"/><rect x="116.80" y="233.45" width="20.00" height="6.99" fill="#c0d9eb"/><rect x="136.80" y="233.45" width="20.00" height="6.99" fill="#bcd6ea"/><rect x="36.80" y="240.44" width="20.00" height="6.99" fill="#f3a16c"/><rect x="56.80" y="240.44" width="20.00" height="6.99" fill="#ec8459"/><rect x="76.80" y="240.44" width="20.00" height="6.99" fill="#e4eff0"/><rect x="96.80" y="240.44" width="20.00" height="6.99" fill="#e2eff2"/><rect x="116.80" y="240.44" width="20.00" height="6.99" fill="#e7f0eb"/><rect x="136.80" y="240.44" width="20.00" height="6.99" fill="#c0d9eb"/><rect x="36.80" y="247.43" width="20.00" height="6.99" fill="#f5b77c"/><rect x="56.80" y="247.43" width="20.00" height="6.99" fill="#ec8459"/><rect x="76.80" y="247.43" width="20.00" height="6.99" fill="#f9f0c1"/><rect x="96.80" y="247.43" width="20.00" height="6.99" fill="#c0d9eb"/><rect x="116.80" y="247.43" width="20.00" height="6.99" fill="#f3f4d8"/><rect x="136.80" y="247.43" width="20.00" height="6.99" fill="#c5dced"/><rect x="36.80" y="254.42" width="20.00" height="6.99" fill="#f6c082"/><rect x="56.80" y="254.42" width="20.00" height="6.99" fill="#e87953"/><rect x="76.80" y="254.42" width="20.00" height="6.99" fill="#f9f0c1"/><rect x="96.80" y="254.42" width="20.00" height="6.99" fill="#c0d9eb"/><rect x="116.80" y="254.42" width="20.00" height="6.99" fill="#f9f6ce"/><rect x="136.80" y="254.42" width="20.00" height="6.99" fill="#c5dced"/><rect x="36.80" y="261.41" width="20.00" height="6.99" fill="#f6c988"/><rect x="56.80" y="261.41" width="20.00" height="6.99" fill="#e06446"/><rect x="76.80" y="261.41" width="20.00" height="6.99" fill="#f9f0c1"/><rect x="96.80" y="261.41" width="20.00" height="6.99" fill="#c5dced"/><rect x="116.80" y="261.41" width="20.00" height="6.99" fill="#f9f6ce"/><rect x="136.80" y="261.41" width="20.00" height="6.99" fill="#c5dced"/><rect x="36.80" y="268.40" width="20.00" height="6.99" fill="#d6e7f3"/><rect x="56.80" y="268.40" width="20.00" height="6.99" fill="#f8e5a9"/><rect x="76.80" y="268.40" width="20.00" height="6.99" fill="#e2eff2"/><rect x="96.80" y="268.40" width="20.00" height="6.99" fill="#e2eff2"/><rect x="116.80" y="268.40" width="20.00" height="6.99" fill="#f8e2a2"/><rect x="136.80" y="268.40" width="20.00" height="6.99" fill="#e46f4c"/><rect x="36.80" y="275.39" width="20.00" height="6.99" fill="#f4f5d5"/><rect x="56.80" y="275.39" width="20.00" height="6.99" fill="#f4f5d5"/><rect x="76.80" y="275.39" width="20.00" height="6.99" fill="#f3f4d8"/><rect x="96.80" y="275.39" width="20.00" height="6.99" fill="#f2f4da"/><rect x="116.80" y="275.39" width="20.00" height="6.99" fill="#d34532"/><rect x="136.80" y="275.39" width="20.00" height="6.99" fill="#f8f6d0"/><rect x="36.80" y="282.38" width="20.00" height="6.99" fill="#f2f4da"/><rect x="56.80" y="282.38" width="20.00" height="6.99" fill="#daeaf4"/><rect x="76.80" y="282.38" width="20.00" height="6.99" fill="#c5dced"/><rect x="96.80" y="282.38" width="20.00" height="6.99" fill="#f8d692"/><rect x="116.80" y="282.38" width="20.00" height="6.99" fill="#e46f4c"/><rect x="136.80" y="282.38" width="20.00" height="6.99" fill="#f9f1c4"/><rect x="36.80" y="289.37" width="20.00" height="6.99" fill="#c0d9eb"/><rect x="56.80" y="289.37" width="20.00" height="6.99" fill="#f8f6d0"/><rect x="76.80" y="289.37" width="20.00" height="6.99" fill="#9ec2e0"/><rect x="96.80" y="289.37" width="20.00" height="6.99" fill="#f8d692"/><rect x="116.80" y="289.37" width="20.00" height="6.99" fill="#ec8459"/><rect x="136.80" y="289.37" width="20.00" height="6.99" fill="#f8e6ac"/><rect x="36.80" y="296.36" width="20.00" height="6.99" fill="#f9f4cb"/><rect x="56.80" y="296.36" width="20.00" height="6.99" fill="#afcde6"/><rect x="76.80" y="296.36" width="20.00" height="6.99" fill="#f8d692"/><rect x="96.80" y="296.36" width="20.00" height="6.99" fill="#c0d9eb"/><rect x="116.80" y="296.36" width="20.00" height="6.99" fill="#f8f6d0"/><rect x="136.80" y="296.36" width="20.00" height="6.99" fill="#e46f4c"/><rect x="36.80" y="303.35" width="20.00" height="6.99" fill="#f9f0c1"/><rect x="56.80" y="303.35" width="20.00" height="6.99" fill="#abcae4"/><rect x="76.80" y="303.35" width="20.00" height="6.99" fill="#e46f4c"/><rect x="96.80" y="303.35" width="20.00" height="6.99" fill="#e2eff2"/><rect x="116.80" y="303.35" width="20.00" height="6.99" fill="#f9f0c1"/><rect x="136.80" y="303.35" width="20.00" height="6.99" fill="#f9f1c4"/><rect x="36.80" y="310.34" width="20.00" height="6.99" fill="#f3f4d8"/><rect x="56.80" y="310.34" width="20.00" height="6.99" fill="#c5dced"/><rect x="76.80" y="310.34" width="20.00" height="6.99" fill="#c0d9eb"/><rect x="96.80" y="310.34" width="20.00" height="6.99" fill="#ea7f56"/><rect x="116.80" y="310.34" width="20.00" height="6.99" fill="#f5b77c"/><rect x="136.80" y="310.34" width="20.00" height="6.99" fill="#f9f4cb"/><rect x="36.80" y="317.33" width="20.00" height="6.99" fill="#daeaf4"/><rect x="56.80" y="317.33" width="20.00" height="6.99" fill="#c5dced"/><rect x="76.80" y="317.33" width="20.00" height="6.99" fill="#dfedf6"/><rect x="96.80" y="317.33" width="20.00" height="6.99" fill="#e06446"/><rect x="116.80" y="317.33" width="20.00" height="6.99" fill="#f6c082"/><rect x="136.80" y="317.33" width="20.00" height="6.99" fill="#f9f0c1"/><rect x="36.80" y="324.32" width="20.00" height="6.99" fill="#cde2f0"/><rect x="56.80" y="324.32" width="20.00" height="6.99" fill="#c5dced"/><rect x="76.80" y="324.32" width="20.00" height="6.99" fill="#d2e4f1"/><rect x="96.80" y="324.32" width="20.00" height="6.99" fill="#f29363"/><rect x="116.80" y="324.32" width="20.00" height="6.99" fill="#f6c082"/><rect x="136.80" y="324.32" width="20.00" height="6.99" fill="#f9eebd"/><rect x="36.80" y="331.31" width="20.00" height="6.99" fill="#e4eff0"/><rect x="56.80" y="331.31" width="20.00" height="6.99" fill="#c5dced"/><rect x="76.80" y="331.31" width="20.00" height="6.99" fill="#c0d9eb"/><rect x="96.80" y="331.31" width="20.00" height="6.99" fill="#f29363"/><rect x="116.80" y="331.31" width="20.00" height="6.99" fill="#f6c082"/><rect x="136.80" y="331.31" width="20.00" height="6.99" fill="#f8e3a6"/><rect x="36.80" y="338.30" width="20.00" height="6.99" fill="#f9eab3"/><rect x="56.80" y="338.30" width="20.00" height="6.99" fill="#a6c8e3"/><rect x="76.80" y="338.30" width="20.00" height="6.99" fill="#a6c8e3"/><rect x="96.80" y="338.30" width="20.00" height="6.99" fill="#f4aa73"/><rect x="116.80" y="338.30" width="20.00" height="6.99" fill="#f6c988"/><rect x="136.80" y="338.30" width="20.00" height="6.99" fill="#f9f0c1"/><rect x="36.80" y="345.29" width="20.00" height="6.99" fill="#f9f0c1"/><rect x="56.80" y="345.29" width="20.00" height="6.99" fill="#a6c8e3"/><rect x="76.80" y="345.29" width="20.00" height="6.99" fill="#eaf1e6"/><rect x="96.80" y="345.29" width="20.00" height="6.99" fill="#d74f39"/><rect x="116.80" y="345.29" width="20.00" height="6.99" fill="#f9ebb6"/><rect x="136.80" y="345.29" width="20.00" height="6.99" fill="#f9f0c1"/><rect x="36.80" y="352.28" width="20.00" height="6.99" fill="#f9f0c1"/><rect x="56.80" y="352.28" width="20.00" height="6.99" fill="#afcde6"/><rect x="76.80" y="352.28" width="20.00" height="6.99" fill="#c5dced"/><rect x="96.80" y="352.28" width="20.00" height="6.99" fill="#d74f39"/><rect x="116.80" y="352.28" width="20.00" height="6.99" fill="#f9ebb6"/><rect x="136.80" y="352.28" width="20.00" height="6.99" fill="#f8f6d0"/><rect x="36.80" y="359.27" width="20.00" height="6.99" fill="#f8e8b0"/><rect x="56.80" y="359.27" width="20.00" height="6.99" fill="#9ec2e0"/><rect x="76.80" y="359.27" width="20.00" height="6.99" fill="#f9f0c1"/><rect x="96.80" y="359.27" width="20.00" height="6.99" fill="#f3a16c"/><rect x="116.80" y="359.27" width="20.00" height="6.99" fill="#c5dced"/><rect x="136.80" y="359.27" width="20.00" height="6.99" fill="#f3a16c"/><rect x="36.80" y="366.26" width="20.00" height="6.99" fill="#e4eff0"/><rect x="56.80" y="366.26" width="20.00" height="6.99" fill="#c5dced"/><rect x="76.80" y="366.26" width="20.00" height="6.99" fill="#e2eff2"/><rect x="96.80" y="366.26" width="20.00" height="6.99" fill="#f29363"/><rect x="116.80" y="366.26" width="20.00" height="6.99" fill="#f8f6d0"/><rect x="136.80" y="366.26" width="20.00" height="6.99" fill="#f39c69"/><rect x="36.80" y="373.25" width="20.00" height="6.99" fill="#e2eff2"/><rect x="56.80" y="373.25" width="20.00" height="6.99" fill="#c0d9eb"/><rect x="76.80" y="373.25" width="20.00" height="6.99" fill="#d2e4f1"/><rect x="96.80" y="373.25" width="20.00" height="6.99" fill="#ea7f56"/><rect x="116.80" y="373.25" width="20.00" height="6.99" fill="#f8e8b0"/><rect x="136.80" y="373.25" width="20.00" height="6.99" fill="#f6c082"/><rect x="36.80" y="380.24" width="20.00" height="6.99" fill="#e2eff2"/><rect x="56.80" y="380.24" width="20.00" height="6.99" fill="#c0d9eb"/><rect x="76.80" y="380.24" width="20.00" height="6.99" fill="#c5dced"/><rect x="96.80" y="380.24" width="20.00" height="6.99" fill="#f29363"/><rect x="116.80" y="380.24" width="20.00" height="6.99" fill="#f8e5a9"/><rect x="136.80" y="380.24" width="20.00" height="6.99" fill="#f6c082"/><rect x="36.80" y="387.23" width="20.00" height="6.99" fill="#d2e4f1"/><rect x="56.80" y="387.23" width="20.00" height="6.99" fill="#c5dced"/><rect x="76.80" y="387.23" width="20.00" height="6.99" fill="#c0d9eb"/><rect x="96.80" y="387.23" width="20.00" height="6.99" fill="#f39c69"/><rect x="116.80" y="387.23" width="20.00" height="6.99" fill="#f8e5a9"/><rect x="136.80" y="387.23" width="20.00" height="6.99" fill="#f5b77c"/><rect x="36.80" y="394.22" width="20.00" height="6.99" fill="#c5dced"/><rect x="56.80" y="394.22" width="20.00" height="6.99" fill="#bcd6ea"/><rect x="76.80" y="394.22" width="20.00" height="6.99" fill="#edf2e1"/><rect x="96.80" y="394.22" width="20.00" height="6.99" fill="#f9eab3"/><rect x="116.80" y="394.22" width="20.00" height="6.99" fill="#f9eab3"/><rect x="136.80" y="394.22" width="20.00" height="6.99" fill="#e46f4c"/><rect x="36.80" y="401.21" width="20.00" height="6.99" fill="#c5dced"/><rect x="56.80" y="401.21" width="20.00" height="6.99" fill="#c0d9eb"/><rect x="76.80" y="401.21" width="20.00" height="6.99" fill="#dfedf6"/><rect x="96.80" y="401.21" width="20.00" height="6.99" fill="#f8e2a2"/><rect x="116.80" y="401.21" width="20.00" height="6.99" fill="#f6c082"/><rect x="136.80" y="401.21" width="20.00" height="6.99" fill="#f29363"/><rect x="36.80" y="408.20" width="20.00" height="6.99" fill="#c0d9eb"/><rect x="56.80" y="408.20" width="20.00" height="6.99" fill="#c0d9eb"/><rect x="76.80" y="408.20" width="20.00" height="6.99" fill="#c5dced"/><rect x="96.80" y="408.20" width="20.00" height="6.99" fill="#f6c988"/><rect x="116.80" y="408.20" width="20.00" height="6.99" fill="#f6c082"/><rect x="136.80" y="408.20" width="20.00" height="6.99" fill="#f4ae76"/></g>
<path d="M36.80,198.50H156.80M36.80,205.49H156.80M36.80,212.48H156.80M36.80,219.47H156.80M36.80,226.46H156.80M36.80,233.45H156.80M36.80,240.44H156.80M36.80,247.43H156.80M36.80,254.42H156.80M36.80,261.41H156.80M36.80,268.40H156.80M36.80,275.39H156.80M36.80,282.38H156.80M36.80,289.37H156.80M36.80,296.36H156.80M36.80,303.35H156.80M36.80,310.34H156.80M36.80,317.33H156.80M36.80,324.32H156.80M36.80,331.31H156.80M36.80,338.30H156.80M36.80,345.29H156.80M36.80,352.28H156.80M36.80,359.27H156.80M36.80,366.26H156.80M36.80,373.25H156.80M36.80,380.24H156.80M36.80,387.23H156.80M36.80,394.22H156.80M36.80,401.21H156.80M36.80,408.20H156.80M36.80,415.19H156.80" stroke="#7a828c" stroke-opacity="0.38" stroke-width="0.5" fill="none"/>
<path d="M36.80,198.50V415.19M56.80,198.50V415.19M76.80,198.50V415.19M96.80,198.50V415.19M116.80,198.50V415.19M136.80,198.50V415.19M156.80,198.50V415.19" stroke="#7c7c7c" stroke-opacity="0.5" stroke-width="0.55" fill="none"/>
<g><rect x="31.20" y="198.50" width="4.70" height="6.99" fill="#5cb85f"/><rect x="31.20" y="205.49" width="4.70" height="6.99" fill="#8aaadf"/><rect x="31.20" y="212.48" width="4.70" height="6.99" fill="#f08a86"/><rect x="31.20" y="219.47" width="4.70" height="6.99" fill="#5cb85f"/><rect x="31.20" y="226.46" width="4.70" height="6.99" fill="#f08a86"/><rect x="31.20" y="233.45" width="4.70" height="6.99" fill="#5cb85f"/><rect x="31.20" y="240.44" width="4.70" height="6.99" fill="#f08a86"/><rect x="31.20" y="247.43" width="4.70" height="6.99" fill="#8aaadf"/><rect x="31.20" y="254.42" width="4.70" height="6.99" fill="#f08a86"/><rect x="31.20" y="261.41" width="4.70" height="6.99" fill="#f08a86"/><rect x="31.20" y="268.40" width="4.70" height="6.99" fill="#8aaadf"/><rect x="31.20" y="275.39" width="4.70" height="6.99" fill="#8aaadf"/><rect x="31.20" y="282.38" width="4.70" height="6.99" fill="#8aaadf"/><rect x="31.20" y="289.37" width="4.70" height="6.99" fill="#5cb85f"/><rect x="31.20" y="296.36" width="4.70" height="6.99" fill="#5cb85f"/><rect x="31.20" y="303.35" width="4.70" height="6.99" fill="#5cb85f"/><rect x="31.20" y="310.34" width="4.70" height="6.99" fill="#8aaadf"/><rect x="31.20" y="317.33" width="4.70" height="6.99" fill="#5cb85f"/><rect x="31.20" y="324.32" width="4.70" height="6.99" fill="#8aaadf"/><rect x="31.20" y="331.31" width="4.70" height="6.99" fill="#5cb85f"/><rect x="31.20" y="338.30" width="4.70" height="6.99" fill="#5cb85f"/><rect x="31.20" y="345.29" width="4.70" height="6.99" fill="#8aaadf"/><rect x="31.20" y="352.28" width="4.70" height="6.99" fill="#5cb85f"/><rect x="31.20" y="359.27" width="4.70" height="6.99" fill="#8aaadf"/><rect x="31.20" y="366.26" width="4.70" height="6.99" fill="#8aaadf"/><rect x="31.20" y="373.25" width="4.70" height="6.99" fill="#5cb85f"/><rect x="31.20" y="380.24" width="4.70" height="6.99" fill="#5cb85f"/><rect x="31.20" y="387.23" width="4.70" height="6.99" fill="#5cb85f"/><rect x="31.20" y="394.22" width="4.70" height="6.99" fill="#5cb85f"/><rect x="31.20" y="401.21" width="4.70" height="6.99" fill="#5cb85f"/><rect x="31.20" y="408.20" width="4.70" height="6.99" fill="#5cb85f"/></g>
<text transform="translate(158.00,203.90) scale(0.4,0.5)" font-size="10.6" font-weight="bold" fill="#111">CD163</text>
<text transform="translate(158.00,210.89) scale(0.4,0.5)" font-size="10.6" font-weight="bold" fill="#111">IL1B</text>
<text transform="translate(158.00,217.88) scale(0.4,0.5)" font-size="10.6" font-weight="bold" fill="#111">VCAN</text>
<text transform="translate(158.00,224.87) scale(0.4,0.5)" font-size="10.6" font-weight="bold" fill="#111">MAF</text>
<text transform="translate(158.00,231.86) scale(0.4,0.5)" font-size="10.6" font-weight="bold" fill="#111">LYZ</text>
<text transform="translate(158.00,238.84) scale(0.4,0.5)" font-size="10.6" font-weight="bold" fill="#111">MAFB</text>
<text transform="translate(158.00,245.84) scale(0.4,0.5)" font-size="10.6" font-weight="bold" fill="#111">S100A12</text>
<text transform="translate(158.00,252.83) scale(0.4,0.5)" font-size="10.6" font-weight="bold" fill="#111">PTGS2</text>
<text transform="translate(158.00,259.81) scale(0.4,0.5)" font-size="10.6" font-weight="bold" fill="#111">S100A8</text>
<text transform="translate(158.00,266.80) scale(0.4,0.5)" font-size="10.6" font-weight="bold" fill="#111">S100A9</text>
<text transform="translate(158.00,273.79) scale(0.4,0.5)" font-size="10.6" font-weight="bold" fill="#111">CSF3</text>
<text transform="translate(158.00,280.78) scale(0.4,0.5)" font-size="10.6" font-weight="bold" fill="#111">ARG1</text>
<text transform="translate(158.00,287.77) scale(0.4,0.5)" font-size="10.6" font-weight="bold" fill="#111">IL1A</text>
<text transform="translate(158.00,294.76) scale(0.4,0.5)" font-size="10.6" font-weight="bold" fill="#111">CD63</text>
<text transform="translate(158.00,301.75) scale(0.4,0.5)" font-size="10.6" font-weight="bold" fill="#111">TREM2</text>
<text transform="translate(158.00,308.75) scale(0.4,0.5)" font-size="10.6" font-weight="bold" fill="#111">MRC1</text>
<text transform="translate(158.00,315.74) scale(0.4,0.5)" font-size="10.6" font-weight="bold" fill="#111">CXCL1</text>
<text transform="translate(158.00,322.72) scale(0.4,0.5)" font-size="10.6" font-weight="bold" fill="#111">APOC1</text>
<text transform="translate(158.00,329.71) scale(0.4,0.5)" font-size="10.6" font-weight="bold" fill="#111">CCL2</text>
<text transform="translate(158.00,336.70) scale(0.4,0.5)" font-size="10.6" font-weight="bold" fill="#111">ACP5</text>
<text transform="translate(158.00,343.69) scale(0.4,0.5)" font-size="10.6" font-weight="bold" fill="#111">STAB1</text>
<text transform="translate(158.00,350.68) scale(0.4,0.5)" font-size="10.6" font-weight="bold" fill="#111">CXCL2</text>
<text transform="translate(158.00,357.67) scale(0.4,0.5)" font-size="10.6" font-weight="bold" fill="#111">APOE</text>
<text transform="translate(158.00,364.66) scale(0.4,0.5)" font-size="10.6" font-weight="bold" fill="#111">IL10</text>
<text transform="translate(158.00,371.65) scale(0.4,0.5)" font-size="10.6" font-weight="bold" fill="#111">VEGFA</text>
<text transform="translate(158.00,378.64) scale(0.4,0.5)" font-size="10.6" font-weight="bold" fill="#111">GPNMB</text>
<text transform="translate(158.00,385.63) scale(0.4,0.5)" font-size="10.6" font-weight="bold" fill="#111">FABP5</text>
<text transform="translate(158.00,392.62) scale(0.4,0.5)" font-size="10.6" font-weight="bold" fill="#111">LGMN</text>
<text transform="translate(158.00,399.62) scale(0.4,0.5)" font-size="10.6" font-weight="bold" fill="#111">MSR1</text>
<text transform="translate(158.00,406.61) scale(0.4,0.5)" font-size="10.6" font-weight="bold" fill="#111">CD9</text>
<text transform="translate(158.00,413.59) scale(0.4,0.5)" font-size="10.6" font-weight="bold" fill="#111">DAB2</text>
<g><rect x="229.00" y="198.50" width="20.00" height="6.99" fill="#f5b77c"/><rect x="249.00" y="198.50" width="20.00" height="6.99" fill="#9ec2e0"/><rect x="269.00" y="198.50" width="20.00" height="6.99" fill="#e7f0eb"/><rect x="289.00" y="198.50" width="20.00" height="6.99" fill="#f39c69"/><rect x="309.00" y="198.50" width="20.00" height="6.99" fill="#f4ae76"/><rect x="329.00" y="198.50" width="20.00" height="6.99" fill="#95bbdc"/><rect x="229.00" y="205.49" width="20.00" height="6.99" fill="#ea7f56"/><rect x="249.00" y="205.49" width="20.00" height="6.99" fill="#9ec2e0"/><rect x="269.00" y="205.49" width="20.00" height="6.99" fill="#d2e4f1"/><rect x="289.00" y="205.49" width="20.00" height="6.99" fill="#f6c988"/><rect x="309.00" y="205.49" width="20.00" height="6.99" fill="#f5b77c"/><rect x="329.00" y="205.49" width="20.00" height="6.99" fill="#cde2f0"/><rect x="229.00" y="212.48" width="20.00" height="6.99" fill="#f9f4cb"/><rect x="249.00" y="212.48" width="20.00" height="6.99" fill="#ec8459"/><rect x="269.00" y="212.48" width="20.00" height="6.99" fill="#5f8ac1"/><rect x="289.00" y="212.48" width="20.00" height="6.99" fill="#f0f3dc"/><rect x="309.00" y="212.48" width="20.00" height="6.99" fill="#f3a16c"/><rect x="329.00" y="212.48" width="20.00" height="6.99" fill="#f9f0c1"/><rect x="229.00" y="219.47" width="20.00" height="6.99" fill="#cde2f0"/><rect x="249.00" y="219.47" width="20.00" height="6.99" fill="#d6e7f3"/><rect x="269.00" y="219.47" width="20.00" height="6.99" fill="#bcd6ea"/><rect x="289.00" y="219.47" width="20.00" height="6.99" fill="#d54a36"/><rect x="309.00" y="219.47" width="20.00" height="6.99" fill="#f8e2a2"/><rect x="329.00" y="219.47" width="20.00" height="6.99" fill="#f9ebb6"/><rect x="229.00" y="226.46" width="20.00" height="6.99" fill="#bcd6ea"/><rect x="249.00" y="226.46" width="20.00" height="6.99" fill="#bcd6ea"/><rect x="269.00" y="226.46" width="20.00" height="6.99" fill="#cde2f0"/><rect x="289.00" y="226.46" width="20.00" height="6.99" fill="#f29363"/><rect x="309.00" y="226.46" width="20.00" height="6.99" fill="#f6c082"/><rect x="329.00" y="226.46" width="20.00" height="6.99" fill="#f6c082"/><rect x="229.00" y="233.45" width="20.00" height="6.99" fill="#bcd6ea"/><rect x="249.00" y="233.45" width="20.00" height="6.99" fill="#bcd6ea"/><rect x="269.00" y="233.45" width="20.00" height="6.99" fill="#c0d9eb"/><rect x="289.00" y="233.45" width="20.00" height="6.99" fill="#f29363"/><rect x="309.00" y="233.45" width="20.00" height="6.99" fill="#f5b77c"/><rect x="329.00" y="233.45" width="20.00" height="6.99" fill="#f6c082"/><rect x="229.00" y="240.44" width="20.00" height="6.99" fill="#bcd6ea"/><rect x="249.00" y="240.44" width="20.00" height="6.99" fill="#b8d3e9"/><rect x="269.00" y="240.44" width="20.00" height="6.99" fill="#c9dfee"/><rect x="289.00" y="240.44" width="20.00" height="6.99" fill="#f29363"/><rect x="309.00" y="240.44" width="20.00" height="6.99" fill="#f5b77c"/><rect x="329.00" y="240.44" width="20.00" height="6.99" fill="#f6c082"/><rect x="229.00" y="247.43" width="20.00" height="6.99" fill="#c9dfee"/><rect x="249.00" y="247.43" width="20.00" height="6.99" fill="#bcd6ea"/><rect x="269.00" y="247.43" width="20.00" height="6.99" fill="#c0d9eb"/><rect x="289.00" y="247.43" width="20.00" height="6.99" fill="#f29363"/><rect x="309.00" y="247.43" width="20.00" height="6.99" fill="#f5b77c"/><rect x="329.00" y="247.43" width="20.00" height="6.99" fill="#f6c082"/><rect x="229.00" y="254.42" width="20.00" height="6.99" fill="#bcd6ea"/><rect x="249.00" y="254.42" width="20.00" height="6.99" fill="#c0d9eb"/><rect x="269.00" y="254.42" width="20.00" height="6.99" fill="#bcd6ea"/><rect x="289.00" y="254.42" width="20.00" height="6.99" fill="#f6c082"/><rect x="309.00" y="254.42" width="20.00" height="6.99" fill="#e46f4c"/><rect x="329.00" y="254.42" width="20.00" height="6.99" fill="#f8e2a2"/><rect x="229.00" y="261.41" width="20.00" height="6.99" fill="#bcd6ea"/><rect x="249.00" y="261.41" width="20.00" height="6.99" fill="#daeaf4"/><rect x="269.00" y="261.41" width="20.00" height="6.99" fill="#bcd6ea"/><rect x="289.00" y="261.41" width="20.00" height="6.99" fill="#f6c988"/><rect x="309.00" y="261.41" width="20.00" height="6.99" fill="#e06446"/><rect x="329.00" y="261.41" width="20.00" height="6.99" fill="#f8e2a2"/><rect x="229.00" y="268.40" width="20.00" height="6.99" fill="#bcd6ea"/><rect x="249.00" y="268.40" width="20.00" height="6.99" fill="#bcd6ea"/><rect x="269.00" y="268.40" width="20.00" height="6.99" fill="#bcd6ea"/><rect x="289.00" y="268.40" width="20.00" height="6.99" fill="#f6c988"/><rect x="309.00" y="268.40" width="20.00" height="6.99" fill="#e06446"/><rect x="329.00" y="268.40" width="20.00" height="6.99" fill="#f8e2a2"/><rect x="229.00" y="275.39" width="20.00" height="6.99" fill="#bcd6ea"/><rect x="249.00" y="275.39" width="20.00" height="6.99" fill="#bcd6ea"/><rect x="269.00" y="275.39" width="20.00" height="6.99" fill="#bcd6ea"/><rect x="289.00" y="275.39" width="20.00" height="6.99" fill="#f6c082"/><rect x="309.00" y="275.39" width="20.00" height="6.99" fill="#e06446"/><rect x="329.00" y="275.39" width="20.00" height="6.99" fill="#f8e2a2"/><rect x="229.00" y="282.38" width="20.00" height="6.99" fill="#bcd6ea"/><rect x="249.00" y="282.38" width="20.00" height="6.99" fill="#bcd6ea"/><rect x="269.00" y="282.38" width="20.00" height="6.99" fill="#bcd6ea"/><rect x="289.00" y="282.38" width="20.00" height="6.99" fill="#f6c988"/><rect x="309.00" y="282.38" width="20.00" height="6.99" fill="#e46f4c"/><rect x="329.00" y="282.38" width="20.00" height="6.99" fill="#f8e5a9"/><rect x="229.00" y="289.37" width="20.00" height="6.99" fill="#bcd6ea"/><rect x="249.00" y="289.37" width="20.00" height="6.99" fill="#bcd6ea"/><rect x="269.00" y="289.37" width="20.00" height="6.99" fill="#bcd6ea"/><rect x="289.00" y="289.37" width="20.00" height="6.99" fill="#ea7f56"/><rect x="309.00" y="289.37" width="20.00" height="6.99" fill="#f18e60"/><rect x="329.00" y="289.37" width="20.00" height="6.99" fill="#f9ebb6"/><rect x="229.00" y="296.36" width="20.00" height="6.99" fill="#b3d0e7"/><rect x="249.00" y="296.36" width="20.00" height="6.99" fill="#e4eff0"/><rect x="269.00" y="296.36" width="20.00" height="6.99" fill="#bcd6ea"/><rect x="289.00" y="296.36" width="20.00" height="6.99" fill="#f4aa73"/><rect x="309.00" y="296.36" width="20.00" height="6.99" fill="#e46f4c"/><rect x="329.00" y="296.36" width="20.00" height="6.99" fill="#f9ebb6"/><rect x="229.00" y="303.35" width="20.00" height="6.99" fill="#bcd6ea"/><rect x="249.00" y="303.35" width="20.00" height="6.99" fill="#bcd6ea"/><rect x="269.00" y="303.35" width="20.00" height="6.99" fill="#bcd6ea"/><rect x="289.00" y="303.35" width="20.00" height="6.99" fill="#f8e2a2"/><rect x="309.00" y="303.35" width="20.00" height="6.99" fill="#f8e09f"/><rect x="329.00" y="303.35" width="20.00" height="6.99" fill="#d74f39"/><rect x="229.00" y="310.34" width="20.00" height="6.99" fill="#bcd6ea"/><rect x="249.00" y="310.34" width="20.00" height="6.99" fill="#dfedf6"/><rect x="269.00" y="310.34" width="20.00" height="6.99" fill="#d2e4f1"/><rect x="289.00" y="310.34" width="20.00" height="6.99" fill="#f8f6d0"/><rect x="309.00" y="310.34" width="20.00" height="6.99" fill="#f4aa73"/><rect x="329.00" y="310.34" width="20.00" height="6.99" fill="#d74f39"/><rect x="229.00" y="317.33" width="20.00" height="6.99" fill="#88afd6"/><rect x="249.00" y="317.33" width="20.00" height="6.99" fill="#f3f4d8"/><rect x="269.00" y="317.33" width="20.00" height="6.99" fill="#c9dfee"/><rect x="289.00" y="317.33" width="20.00" height="6.99" fill="#f9eab3"/><rect x="309.00" y="317.33" width="20.00" height="6.99" fill="#d74f39"/><rect x="329.00" y="317.33" width="20.00" height="6.99" fill="#f6c988"/><rect x="229.00" y="324.32" width="20.00" height="6.99" fill="#f0f3dc"/><rect x="249.00" y="324.32" width="20.00" height="6.99" fill="#95bbdc"/><rect x="269.00" y="324.32" width="20.00" height="6.99" fill="#b3d0e7"/><rect x="289.00" y="324.32" width="20.00" height="6.99" fill="#f6c988"/><rect x="309.00" y="324.32" width="20.00" height="6.99" fill="#ea7f56"/><rect x="329.00" y="324.32" width="20.00" height="6.99" fill="#f5b77c"/><rect x="229.00" y="331.31" width="20.00" height="6.99" fill="#d2e4f1"/><rect x="249.00" y="331.31" width="20.00" height="6.99" fill="#dfedf6"/><rect x="269.00" y="331.31" width="20.00" height="6.99" fill="#b3d0e7"/><rect x="289.00" y="331.31" width="20.00" height="6.99" fill="#f9f0c1"/><rect x="309.00" y="331.31" width="20.00" height="6.99" fill="#ec8459"/><rect x="329.00" y="331.31" width="20.00" height="6.99" fill="#f29363"/><rect x="229.00" y="338.30" width="20.00" height="6.99" fill="#d2e4f1"/><rect x="249.00" y="338.30" width="20.00" height="6.99" fill="#dfedf6"/><rect x="269.00" y="338.30" width="20.00" height="6.99" fill="#9ec2e0"/><rect x="289.00" y="338.30" width="20.00" height="6.99" fill="#f9f0c1"/><rect x="309.00" y="338.30" width="20.00" height="6.99" fill="#d74f39"/><rect x="329.00" y="338.30" width="20.00" height="6.99" fill="#f5b77c"/><rect x="229.00" y="345.29" width="20.00" height="6.99" fill="#d2e4f1"/><rect x="249.00" y="345.29" width="20.00" height="6.99" fill="#d2e4f1"/><rect x="269.00" y="345.29" width="20.00" height="6.99" fill="#b3d0e7"/><rect x="289.00" y="345.29" width="20.00" height="6.99" fill="#f9edba"/><rect x="309.00" y="345.29" width="20.00" height="6.99" fill="#d74f39"/><rect x="329.00" y="345.29" width="20.00" height="6.99" fill="#f5b77c"/><rect x="229.00" y="352.28" width="20.00" height="6.99" fill="#d54a36"/><rect x="249.00" y="352.28" width="20.00" height="6.99" fill="#f9f0c1"/><rect x="269.00" y="352.28" width="20.00" height="6.99" fill="#f8e2a2"/><rect x="289.00" y="352.28" width="20.00" height="6.99" fill="#e2eff2"/><rect x="309.00" y="352.28" width="20.00" height="6.99" fill="#b3d0e7"/><rect x="329.00" y="352.28" width="20.00" height="6.99" fill="#bcd6ea"/><rect x="229.00" y="359.27" width="20.00" height="6.99" fill="#ea7f56"/><rect x="249.00" y="359.27" width="20.00" height="6.99" fill="#f9f0c1"/><rect x="269.00" y="359.27" width="20.00" height="6.99" fill="#f4ae76"/><rect x="289.00" y="359.27" width="20.00" height="6.99" fill="#f9f0c1"/><rect x="309.00" y="359.27" width="20.00" height="6.99" fill="#648ec3"/><rect x="329.00" y="359.27" width="20.00" height="6.99" fill="#f2f4da"/><rect x="229.00" y="366.26" width="20.00" height="6.99" fill="#e46f4c"/><rect x="249.00" y="366.26" width="20.00" height="6.99" fill="#f9f0c1"/><rect x="269.00" y="366.26" width="20.00" height="6.99" fill="#f39c69"/><rect x="289.00" y="366.26" width="20.00" height="6.99" fill="#cde2f0"/><rect x="309.00" y="366.26" width="20.00" height="6.99" fill="#9ec2e0"/><rect x="329.00" y="366.26" width="20.00" height="6.99" fill="#e2eff2"/><rect x="229.00" y="373.25" width="20.00" height="6.99" fill="#ea7f56"/><rect x="249.00" y="373.25" width="20.00" height="6.99" fill="#f9f0c1"/><rect x="269.00" y="373.25" width="20.00" height="6.99" fill="#f39c69"/><rect x="289.00" y="373.25" width="20.00" height="6.99" fill="#d2e4f1"/><rect x="309.00" y="373.25" width="20.00" height="6.99" fill="#9ec2e0"/><rect x="329.00" y="373.25" width="20.00" height="6.99" fill="#e2eff2"/><rect x="229.00" y="380.24" width="20.00" height="6.99" fill="#f3a16c"/><rect x="249.00" y="380.24" width="20.00" height="6.99" fill="#ec8459"/><rect x="269.00" y="380.24" width="20.00" height="6.99" fill="#f9f0c1"/><rect x="289.00" y="380.24" width="20.00" height="6.99" fill="#e4eff0"/><rect x="309.00" y="380.24" width="20.00" height="6.99" fill="#edf2e1"/><rect x="329.00" y="380.24" width="20.00" height="6.99" fill="#648ec3"/><rect x="229.00" y="387.23" width="20.00" height="6.99" fill="#f5b77c"/><rect x="249.00" y="387.23" width="20.00" height="6.99" fill="#f4ae76"/><rect x="269.00" y="387.23" width="20.00" height="6.99" fill="#f29363"/><rect x="289.00" y="387.23" width="20.00" height="6.99" fill="#cde2f0"/><rect x="309.00" y="387.23" width="20.00" height="6.99" fill="#b3d0e7"/><rect x="329.00" y="387.23" width="20.00" height="6.99" fill="#e4eff0"/><rect x="229.00" y="394.22" width="20.00" height="6.99" fill="#f6c988"/><rect x="249.00" y="394.22" width="20.00" height="6.99" fill="#e06446"/><rect x="269.00" y="394.22" width="20.00" height="6.99" fill="#f5b77c"/><rect x="289.00" y="394.22" width="20.00" height="6.99" fill="#cde2f0"/><rect x="309.00" y="394.22" width="20.00" height="6.99" fill="#b3d0e7"/><rect x="329.00" y="394.22" width="20.00" height="6.99" fill="#e4eff0"/><rect x="229.00" y="401.21" width="20.00" height="6.99" fill="#cde2f0"/><rect x="249.00" y="401.21" width="20.00" height="6.99" fill="#f9f0c1"/><rect x="269.00" y="401.21" width="20.00" height="6.99" fill="#f29363"/><rect x="289.00" y="401.21" width="20.00" height="6.99" fill="#e46f4c"/><rect x="309.00" y="401.21" width="20.00" height="6.99" fill="#cde2f0"/><rect x="329.00" y="401.21" width="20.00" height="6.99" fill="#cde2f0"/><rect x="229.00" y="408.20" width="20.00" height="6.99" fill="#e4eff0"/><rect x="249.00" y="408.20" width="20.00" height="6.99" fill="#daeaf4"/><rect x="269.00" y="408.20" width="20.00" height="6.99" fill="#d74f39"/><rect x="289.00" y="408.20" width="20.00" height="6.99" fill="#eaf1e6"/><rect x="309.00" y="408.20" width="20.00" height="6.99" fill="#e2eff2"/><rect x="329.00" y="408.20" width="20.00" height="6.99" fill="#ec8459"/></g>
<path d="M229.00,198.50H349.00M229.00,205.49H349.00M229.00,212.48H349.00M229.00,219.47H349.00M229.00,226.46H349.00M229.00,233.45H349.00M229.00,240.44H349.00M229.00,247.43H349.00M229.00,254.42H349.00M229.00,261.41H349.00M229.00,268.40H349.00M229.00,275.39H349.00M229.00,282.38H349.00M229.00,289.37H349.00M229.00,296.36H349.00M229.00,303.35H349.00M229.00,310.34H349.00M229.00,317.33H349.00M229.00,324.32H349.00M229.00,331.31H349.00M229.00,338.30H349.00M229.00,345.29H349.00M229.00,352.28H349.00M229.00,359.27H349.00M229.00,366.26H349.00M229.00,373.25H349.00M229.00,380.24H349.00M229.00,387.23H349.00M229.00,394.22H349.00M229.00,401.21H349.00M229.00,408.20H349.00M229.00,415.19H349.00" stroke="#7a828c" stroke-opacity="0.38" stroke-width="0.5" fill="none"/>
<path d="M229.00,198.50V415.19M249.00,198.50V415.19M269.00,198.50V415.19M289.00,198.50V415.19M309.00,198.50V415.19M329.00,198.50V415.19M349.00,198.50V415.19" stroke="#7c7c7c" stroke-opacity="0.5" stroke-width="0.55" fill="none"/>
<g><rect x="223.50" y="198.50" width="4.30" height="6.99" fill="#5cb85f"/><rect x="223.50" y="205.49" width="4.30" height="6.99" fill="#5cb85f"/><rect x="223.50" y="212.48" width="4.30" height="6.99" fill="#8aaadf"/><rect x="223.50" y="219.47" width="4.30" height="6.99" fill="#5cb85f"/><rect x="223.50" y="226.46" width="4.30" height="6.99" fill="#5cb85f"/><rect x="223.50" y="233.45" width="4.30" height="6.99" fill="#5cb85f"/><rect x="223.50" y="240.44" width="4.30" height="6.99" fill="#5cb85f"/><rect x="223.50" y="247.43" width="4.30" height="6.99" fill="#5cb85f"/><rect x="223.50" y="254.42" width="4.30" height="6.99" fill="#8aaadf"/><rect x="223.50" y="261.41" width="4.30" height="6.99" fill="#8aaadf"/><rect x="223.50" y="268.40" width="4.30" height="6.99" fill="#8aaadf"/><rect x="223.50" y="275.39" width="4.30" height="6.99" fill="#5cb85f"/><rect x="223.50" y="282.38" width="4.30" height="6.99" fill="#5cb85f"/><rect x="223.50" y="289.37" width="4.30" height="6.99" fill="#8aaadf"/><rect x="223.50" y="296.36" width="4.30" height="6.99" fill="#5cb85f"/><rect x="223.50" y="303.35" width="4.30" height="6.99" fill="#5cb85f"/><rect x="223.50" y="310.34" width="4.30" height="6.99" fill="#5cb85f"/><rect x="223.50" y="317.33" width="4.30" height="6.99" fill="#5cb85f"/><rect x="223.50" y="324.32" width="4.30" height="6.99" fill="#5cb85f"/><rect x="223.50" y="331.31" width="4.30" height="6.99" fill="#8aaadf"/><rect x="223.50" y="338.30" width="4.30" height="6.99" fill="#8aaadf"/><rect x="223.50" y="345.29" width="4.30" height="6.99" fill="#8aaadf"/><rect x="223.50" y="352.28" width="4.30" height="6.99" fill="#5cb85f"/><rect x="223.50" y="359.27" width="4.30" height="6.99" fill="#f08a86"/><rect x="223.50" y="366.26" width="4.30" height="6.99" fill="#f08a86"/><rect x="223.50" y="373.25" width="4.30" height="6.99" fill="#f08a86"/><rect x="223.50" y="380.24" width="4.30" height="6.99" fill="#5cb85f"/><rect x="223.50" y="387.23" width="4.30" height="6.99" fill="#f08a86"/><rect x="223.50" y="394.22" width="4.30" height="6.99" fill="#f08a86"/><rect x="223.50" y="401.21" width="4.30" height="6.99" fill="#8aaadf"/><rect x="223.50" y="408.20" width="4.30" height="6.99" fill="#8aaadf"/></g>
<text transform="translate(350.20,203.90) scale(0.4,0.5)" font-size="10.6" font-weight="bold" fill="#111">TREM2</text>
<text transform="translate(350.20,210.89) scale(0.4,0.5)" font-size="10.6" font-weight="bold" fill="#111">MAF</text>
<text transform="translate(350.20,217.88) scale(0.4,0.5)" font-size="10.6" font-weight="bold" fill="#111">IL1B</text>
<text transform="translate(350.20,224.87) scale(0.4,0.5)" font-size="10.6" font-weight="bold" fill="#111">LGMN</text>
<text transform="translate(350.20,231.86) scale(0.4,0.5)" font-size="10.6" font-weight="bold" fill="#111">CD9</text>
<text transform="translate(350.20,238.84) scale(0.4,0.5)" font-size="10.6" font-weight="bold" fill="#111">CD63</text>
<text transform="translate(350.20,245.84) scale(0.4,0.5)" font-size="10.6" font-weight="bold" fill="#111">GPNMB</text>
<text transform="translate(350.20,252.83) scale(0.4,0.5)" font-size="10.6" font-weight="bold" fill="#111">FABP5</text>
<text transform="translate(350.20,259.81) scale(0.4,0.5)" font-size="10.6" font-weight="bold" fill="#111">IL10</text>
<text transform="translate(350.20,266.80) scale(0.4,0.5)" font-size="10.6" font-weight="bold" fill="#111">VEGFA</text>
<text transform="translate(350.20,273.79) scale(0.4,0.5)" font-size="10.6" font-weight="bold" fill="#111">CXCL2</text>
<text transform="translate(350.20,280.78) scale(0.4,0.5)" font-size="10.6" font-weight="bold" fill="#111">APOC1</text>
<text transform="translate(350.20,287.77) scale(0.4,0.5)" font-size="10.6" font-weight="bold" fill="#111">DAB2</text>
<text transform="translate(350.20,294.76) scale(0.4,0.5)" font-size="10.6" font-weight="bold" fill="#111">CCL2</text>
<text transform="translate(350.20,301.75) scale(0.4,0.5)" font-size="10.6" font-weight="bold" fill="#111">CD163</text>
<text transform="translate(350.20,308.75) scale(0.4,0.5)" font-size="10.6" font-weight="bold" fill="#111">MAFB</text>
<text transform="translate(350.20,315.74) scale(0.4,0.5)" font-size="10.6" font-weight="bold" fill="#111">MSR1</text>
<text transform="translate(350.20,322.72) scale(0.4,0.5)" font-size="10.6" font-weight="bold" fill="#111">ACP5</text>
<text transform="translate(350.20,329.71) scale(0.4,0.5)" font-size="10.6" font-weight="bold" fill="#111">APOE</text>
<text transform="translate(350.20,336.70) scale(0.4,0.5)" font-size="10.6" font-weight="bold" fill="#111">PTGS2</text>
<text transform="translate(350.20,343.69) scale(0.4,0.5)" font-size="10.6" font-weight="bold" fill="#111">CXCL1</text>
<text transform="translate(350.20,350.68) scale(0.4,0.5)" font-size="10.6" font-weight="bold" fill="#111">IL1A</text>
<text transform="translate(350.20,357.67) scale(0.4,0.5)" font-size="10.6" font-weight="bold" fill="#111">STAB1</text>
<text transform="translate(350.20,364.66) scale(0.4,0.5)" font-size="10.6" font-weight="bold" fill="#111">S100A12</text>
<text transform="translate(350.20,371.65) scale(0.4,0.5)" font-size="10.6" font-weight="bold" fill="#111">S100A8</text>
<text transform="translate(350.20,378.64) scale(0.4,0.5)" font-size="10.6" font-weight="bold" fill="#111">S100A9</text>
<text transform="translate(350.20,385.63) scale(0.4,0.5)" font-size="10.6" font-weight="bold" fill="#111">MRC1</text>
<text transform="translate(350.20,392.62) scale(0.4,0.5)" font-size="10.6" font-weight="bold" fill="#111">VCAN</text>
<text transform="translate(350.20,399.62) scale(0.4,0.5)" font-size="10.6" font-weight="bold" fill="#111">LYZ</text>
<text transform="translate(350.20,406.61) scale(0.4,0.5)" font-size="10.6" font-weight="bold" fill="#111">ARG1</text>
<text transform="translate(350.20,413.59) scale(0.4,0.5)" font-size="10.6" font-weight="bold" fill="#111">CSF3</text>
<text x="42.30" y="191.90" font-size="10.7" text-anchor="middle" fill="#111" stroke="#111" stroke-width="0.2">HD</text>
<text x="241.00" y="192.90" font-size="10.8" text-anchor="middle" fill="#111" stroke="#111" stroke-width="0.2">TNBC</text>
<defs><linearGradient id="cb178" x1="0" y1="1" x2="0" y2="0"><stop offset="0.0000" stop-color="#4d7ab8"/><stop offset="0.1667" stop-color="#98bede"/><stop offset="0.3333" stop-color="#e0eef6"/><stop offset="0.5000" stop-color="#f9f6ce"/><stop offset="0.6667" stop-color="#f8dc96"/><stop offset="0.8333" stop-color="#f29262"/><stop offset="1.0000" stop-color="#cf3a2c"/></linearGradient></defs>
<rect x="178.9" y="197.7" width="3.9000000000000057" height="67.19999999999999" fill="url(#cb178)"/>
<text transform="translate(184.80,201.80) scale(0.41,0.5)" font-size="10.8" font-weight="bold" fill="#111">2</text>
<text transform="translate(184.80,217.80) scale(0.41,0.5)" font-size="10.8" font-weight="bold" fill="#111">1</text>
<text transform="translate(184.80,233.80) scale(0.41,0.5)" font-size="10.8" font-weight="bold" fill="#111">0</text>
<text transform="translate(184.80,249.90) scale(0.41,0.5)" font-size="10.8" font-weight="bold" fill="#111">-1</text>
<text transform="translate(184.80,266.00) scale(0.41,0.5)" font-size="10.8" font-weight="bold" fill="#111">-2</text>
<defs><linearGradient id="cb371" x1="0" y1="1" x2="0" y2="0"><stop offset="0.0000" stop-color="#4d7ab8"/><stop offset="0.1667" stop-color="#98bede"/><stop offset="0.3333" stop-color="#e0eef6"/><stop offset="0.5000" stop-color="#f9f6ce"/><stop offset="0.6667" stop-color="#f8dc96"/><stop offset="0.8333" stop-color="#f29262"/><stop offset="1.0000" stop-color="#cf3a2c"/></linearGradient></defs>
<rect x="371.8" y="198.1" width="3.599999999999966" height="67.79999999999998" fill="url(#cb371)"/>
<text transform="translate(377.00,205.10) scale(0.41,0.5)" font-size="10.8" font-weight="bold" fill="#111">1.5</text>
<text transform="translate(377.00,215.00) scale(0.41,0.5)" font-size="10.8" font-weight="bold" fill="#111">1</text>
<text transform="translate(377.00,225.00) scale(0.41,0.5)" font-size="10.8" font-weight="bold" fill="#111">0.5</text>
<text transform="translate(377.00,234.20) scale(0.41,0.5)" font-size="10.8" font-weight="bold" fill="#111">0</text>
<text transform="translate(377.00,244.30) scale(0.41,0.5)" font-size="10.8" font-weight="bold" fill="#111">-0.5</text>
<text transform="translate(377.00,254.30) scale(0.41,0.5)" font-size="10.8" font-weight="bold" fill="#111">-1</text>
<text transform="translate(377.00,264.10) scale(0.41,0.5)" font-size="10.8" font-weight="bold" fill="#111">-1.5</text>
<text transform="translate(48.45,417.90) rotate(-90)" x="0" y="0" font-size="8.5" text-anchor="end" fill="#111" stroke="#111" stroke-width="0.2">HD1</text>
<text transform="translate(69.15,417.90) rotate(-90)" x="0" y="0" font-size="8.5" text-anchor="end" fill="#111" stroke="#111" stroke-width="0.2">HD2</text>
<text transform="translate(88.25,417.90) rotate(-90)" x="0" y="0" font-size="8.5" text-anchor="end" fill="#111" stroke="#111" stroke-width="0.2">HD3</text>
<text transform="translate(109.85,417.90) rotate(-90)" x="0" y="0" font-size="8.5" text-anchor="end" fill="#111" stroke="#111" stroke-width="0.2">HD1</text>
<text transform="translate(130.35,417.90) rotate(-90)" x="0" y="0" font-size="8.5" text-anchor="end" fill="#111" stroke="#111" stroke-width="0.2">HD2</text>
<text transform="translate(151.75,417.90) rotate(-90)" x="0" y="0" font-size="8.5" text-anchor="end" fill="#111" stroke="#111" stroke-width="0.2">HD3</text>
<text transform="translate(240.65,416.50) rotate(-90)" x="0" y="0" font-size="8.5" text-anchor="end" fill="#111" stroke="#111" stroke-width="0.2">TNBC1</text>
<text transform="translate(260.85,416.50) rotate(-90)" x="0" y="0" font-size="8.5" text-anchor="end" fill="#111" stroke="#111" stroke-width="0.2">TNBC2</text>
<text transform="translate(281.75,416.50) rotate(-90)" x="0" y="0" font-size="8.5" text-anchor="end" fill="#111" stroke="#111" stroke-width="0.2">TNBC3</text>
<text transform="translate(301.55,416.50) rotate(-90)" x="0" y="0" font-size="8.5" text-anchor="end" fill="#111" stroke="#111" stroke-width="0.2">TNBC1</text>
<text transform="translate(321.65,416.50) rotate(-90)" x="0" y="0" font-size="8.5" text-anchor="end" fill="#111" stroke="#111" stroke-width="0.2">TNBC2</text>
<text transform="translate(342.45,416.50) rotate(-90)" x="0" y="0" font-size="8.5" text-anchor="end" fill="#111" stroke="#111" stroke-width="0.2">TNBC3</text>
<text transform="translate(30.80,418.30) rotate(90)" x="0" y="0" font-size="8.6" text-anchor="start" fill="#111" stroke="#111" stroke-width="0.2" font-weight="bold">Gene class</text>
<text transform="translate(223.80,418.30) rotate(90)" x="0" y="0" font-size="8.6" text-anchor="start" fill="#111" stroke="#111" stroke-width="0.2" font-weight="bold">Gene class</text>
<line x1="42.10" y1="449.70" x2="91.50" y2="449.70" stroke="#555" stroke-width="0.9"/>
<line x1="106.80" y1="449.50" x2="154.00" y2="449.50" stroke="#555" stroke-width="0.9"/>
<text x="70.40" y="458.00" font-size="9.0" text-anchor="middle" fill="#222" stroke="#222" stroke-width="0.2" font-style="italic">ex vivo</text>
<text x="133.80" y="458.90" font-size="9.2" text-anchor="middle" fill="#1a1a1a" stroke="#1a1a1a" stroke-width="0.2">FAP<tspan font-size="7" dy="-3.2">+</tspan><tspan dy="3.2">CD29</tspan><tspan font-size="7" dy="-3.2">+</tspan></text>
<text x="129.50" y="464.90" font-size="8.7" text-anchor="middle" fill="#1a1a1a" stroke="#1a1a1a" stroke-width="0.2">cocultured</text>
<line x1="235.80" y1="449.70" x2="284.30" y2="449.70" stroke="#555" stroke-width="0.9"/>
<line x1="299.10" y1="449.50" x2="347.60" y2="449.50" stroke="#555" stroke-width="0.9"/>
<text x="260.00" y="458.00" font-size="9.0" text-anchor="middle" fill="#222" stroke="#222" stroke-width="0.2" font-style="italic">ex vivo</text>
<text x="328.80" y="458.90" font-size="9.2" text-anchor="middle" fill="#1a1a1a" stroke="#1a1a1a" stroke-width="0.2">FAP<tspan font-size="7" dy="-3.2">+</tspan><tspan dy="3.2">CD29</tspan><tspan font-size="7" dy="-3.2">+</tspan></text>
<text x="324.50" y="464.90" font-size="8.7" text-anchor="middle" fill="#1a1a1a" stroke="#1a1a1a" stroke-width="0.2">cocultured</text>
<text x="402.90" y="200.40" font-size="8.8" text-anchor="start" fill="#111" stroke="#111" stroke-width="0.2" font-weight="bold">Gene class</text>
<rect x="390.8" y="203.3" width="9.2" height="11.2" fill="#5cb85f"/>
<rect x="390.8" y="214.5" width="9.2" height="10.9" fill="#f08a86"/>
<rect x="390.8" y="225.4" width="9.2" height="11.3" fill="#8aaadf"/>
<text x="402.90" y="212.20" font-size="8.9" text-anchor="start" fill="#1a1a1a" stroke="#1a1a1a" stroke-width="0.2">LAM genes</text>
<text x="402.90" y="223.00" font-size="8.9" text-anchor="start" fill="#1a1a1a" stroke="#1a1a1a" stroke-width="0.2">Monocyte genes</text>
<text x="402.90" y="233.90" font-size="8.9" text-anchor="start" fill="#1a1a1a" stroke="#1a1a1a" stroke-width="0.2">Suppressive genes</text>
</svg>
</body></html>
